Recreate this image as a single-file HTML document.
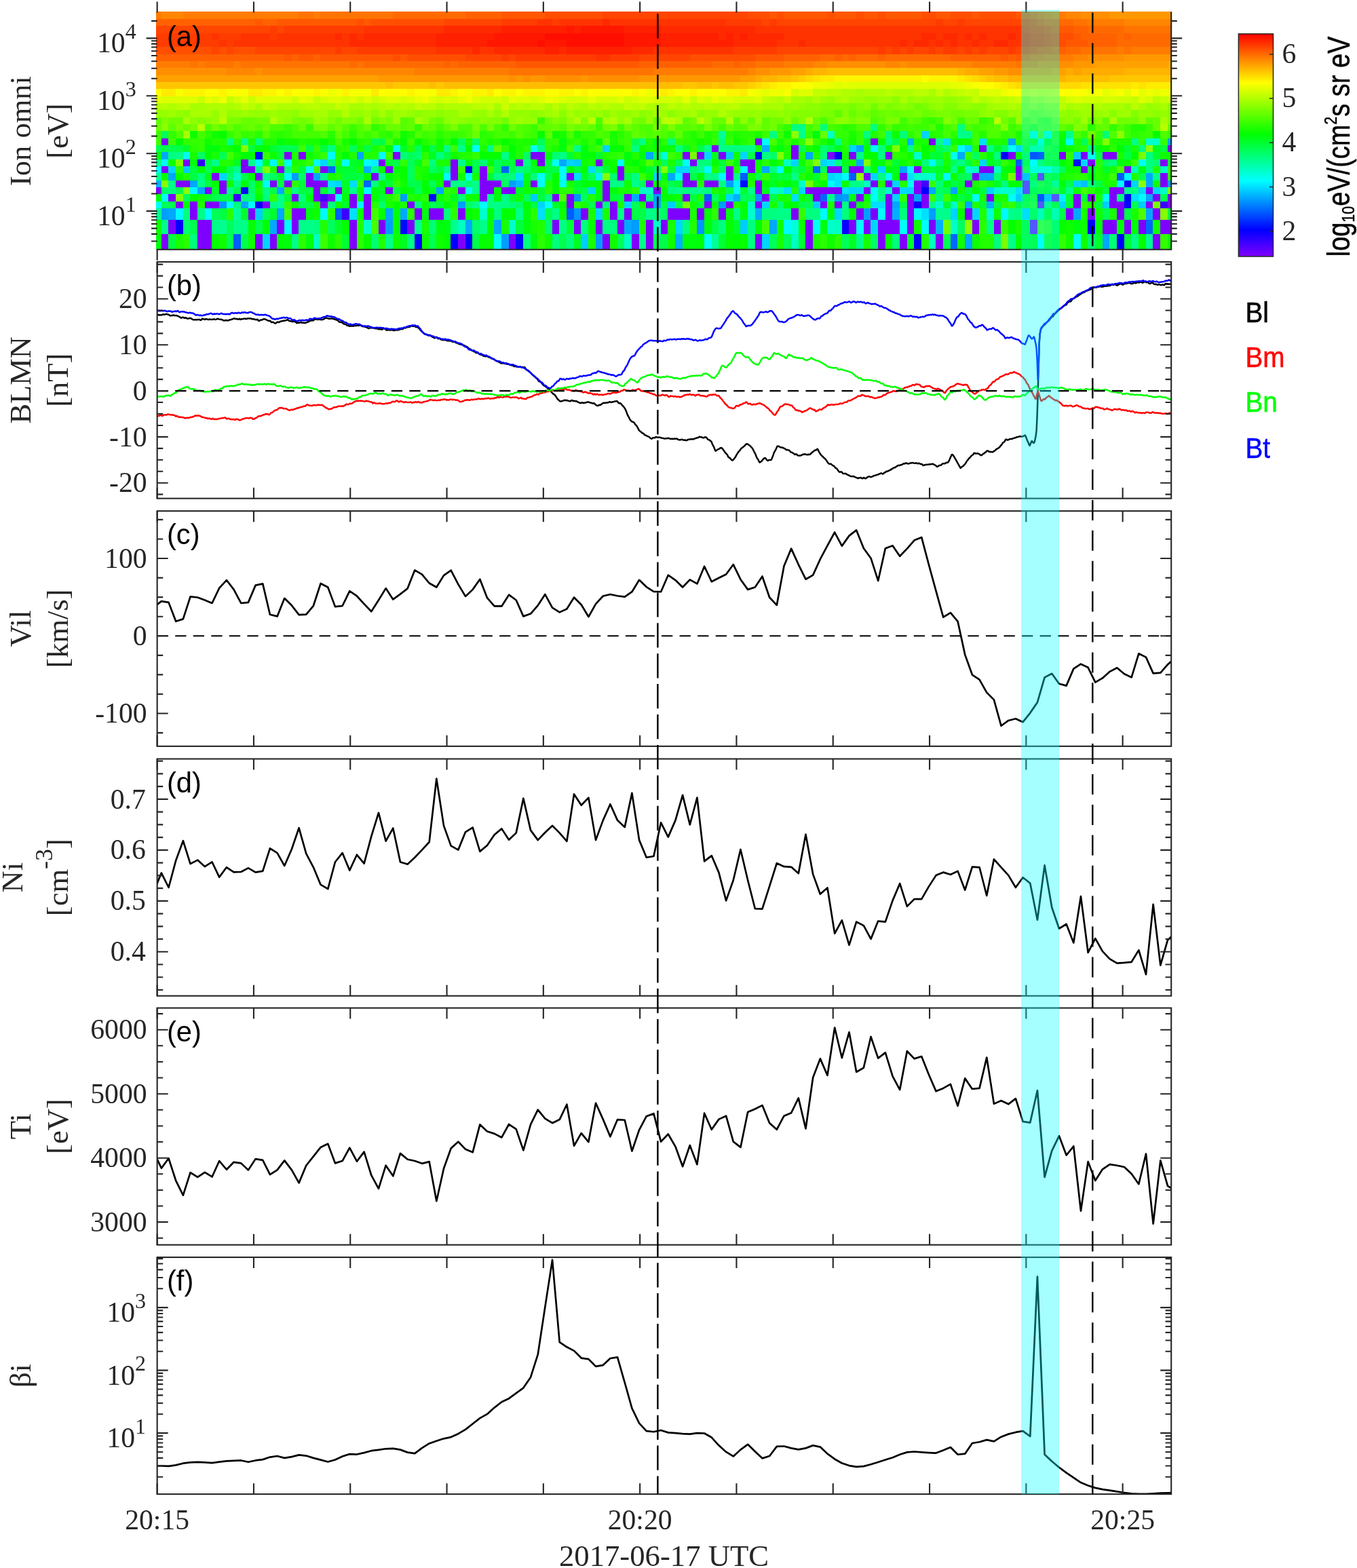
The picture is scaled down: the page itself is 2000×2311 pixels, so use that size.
<!DOCTYPE html>
<html lang="en"><head><meta charset="utf-8"><title>Figure</title>
<style>html,body{margin:0;padding:0;background:#fff}svg{display:block}</style></head><body>
<svg width="2000" height="2311" viewBox="0 0 2000 2311">
<rect width="2000" height="2311" fill="#fff"/>
<defs>
<clipPath id="cp0"><rect x="231.65" y="18.4" width="1494.55" height="349.4"/></clipPath>
<clipPath id="cp1"><rect x="231.65" y="386" width="1494.55" height="348.64"/></clipPath>
<clipPath id="cp2"><rect x="231.65" y="753.17" width="1494.55" height="346.7"/></clipPath>
<clipPath id="cp3"><rect x="231.65" y="1118.5" width="1494.55" height="349.26"/></clipPath>
<clipPath id="cp4"><rect x="231.65" y="1485.6" width="1494.55" height="349.13"/></clipPath>
<clipPath id="cp5"><rect x="231.65" y="1853.04" width="1494.55" height="349.1"/></clipPath>
<linearGradient id="cbg" x1="0" y1="1" x2="0" y2="0">
<stop offset="0" stop-color="#8000ff"/>
<stop offset="0.12" stop-color="#0000ff"/>
<stop offset="0.34" stop-color="#00ffff"/>
<stop offset="0.55" stop-color="#00ff00"/>
<stop offset="0.78" stop-color="#ffff00"/>
<stop offset="1" stop-color="#ff0000"/>
</linearGradient></defs>
<g shape-rendering="crispEdges" stroke="none">
<path fill="#ff7c00" d="M230 17h8v11h-8zM270 17h170v11h-170zM462 17h10v11h-10zM1550 17h21v11h-21zM1603 28h54v10h-54zM1646 69h11v11h-11zM1667 69h59v11h-59zM1561 80h21v10h-21zM230 90h50v10h-50zM291 90h11v10h-11zM344 90h11v10h-11zM1155 90h43v10h-43zM1433 90h64v10h-64zM1507 90h22v10h-22zM611 100h139v11h-139zM963 100h139v11h-139z"/>
<path fill="#ff8600" d="M238 17h32v11h-32zM1571 17h22v11h-22zM1657 28h69v10h-69zM1582 80h21v10h-21zM1198 90h21v10h-21zM1305 90h21v10h-21zM1337 90h96v10h-96zM1529 90h32v10h-32zM334 100h42v11h-42zM387 100h224v11h-224zM1102 100h11v11h-11z"/>
<path fill="#ff7300" d="M440 17h22v11h-22zM472 17h107v11h-107zM1539 17h11v11h-11zM1582 28h21v10h-21zM1657 38h69v11h-69zM1593 69h53v11h-53zM1657 69h10v11h-10zM1539 80h22v10h-22zM280 90h11v10h-11zM302 90h42v10h-42zM355 90h160v10h-160zM526 90h10v10h-10zM1113 90h42v10h-42zM1497 90h10v10h-10zM750 100h213v11h-213z"/>
<path fill="#ff6a00" d="M579 17h107v11h-107zM1529 17h10v11h-10zM1561 28h21v10h-21zM1603 38h54v11h-54zM1646 49h11v10h-11zM1667 49h59v10h-59zM1646 59h80v10h-80zM1571 69h22v11h-22zM1209 80h21v10h-21zM1241 80h10v10h-10zM1262 80h32v10h-32zM1305 80h96v10h-96zM1518 80h21v10h-21zM515 90h11v10h-11zM536 90h118v10h-118zM664 90h11v10h-11zM1049 90h32v10h-32zM1091 90h22v10h-22z"/>
<path fill="#ff6100" d="M686 17h53v11h-53zM1518 17h11v11h-11zM230 28h146v10h-146zM387 28h21v10h-21zM1539 28h22v10h-22zM1582 38h21v11h-21zM1593 49h53v10h-53zM1657 49h10v10h-10zM1603 59h43v10h-43zM1550 69h21v11h-21zM230 80h189v10h-189zM430 80h10v10h-10zM462 80h10v10h-10zM1155 80h54v10h-54zM1230 80h11v10h-11zM1251 80h11v10h-11zM1294 80h11v10h-11zM1401 80h74v10h-74zM1486 80h11v10h-11zM1507 80h11v10h-11zM654 90h10v10h-10zM675 90h85v10h-85zM942 90h107v10h-107zM1081 90h10v10h-10z"/>
<path fill="#ff5800" d="M739 17h64v11h-64zM1134 17h11v11h-11zM1155 17h64v11h-64zM1230 17h32v11h-32zM1273 17h21v11h-21zM1305 17h53v11h-53zM1379 17h22v11h-22zM1433 17h10v11h-10zM1497 17h21v11h-21zM376 28h11v10h-11zM408 28h118v10h-118zM536 28h11v10h-11zM1529 28h10v10h-10zM1550 38h32v11h-32zM1582 49h11v10h-11zM1571 59h32v10h-32zM1529 69h21v11h-21zM419 80h11v10h-11zM440 80h22v10h-22zM472 80h107v10h-107zM590 80h10v10h-10zM1113 80h42v10h-42zM1475 80h11v10h-11zM1497 80h10v10h-10zM760 90h182v10h-182z"/>
<path fill="#ff4e00" d="M803 17h85v11h-85zM1102 17h32v11h-32zM1145 17h10v11h-10zM1219 17h11v11h-11zM1262 17h11v11h-11zM1294 17h11v11h-11zM1358 17h21v11h-21zM1401 17h32v11h-32zM1443 17h54v11h-54zM526 28h10v10h-10zM547 28h107v10h-107zM1518 28h11v10h-11zM1539 38h11v11h-11zM1550 49h32v10h-32zM1550 59h21v10h-21zM230 69h82v11h-82zM323 69h11v11h-11zM344 69h32v11h-32zM1518 69h11v11h-11zM579 80h11v10h-11zM600 80h86v10h-86zM1017 80h96v10h-96z"/>
<path fill="#ff4500" d="M888 17h214v11h-214zM654 28h85v10h-85zM1123 28h11v10h-11zM1145 28h234v10h-234zM1390 28h21v10h-21zM1422 28h96v10h-96zM230 38h168v11h-168zM408 38h11v11h-11zM1518 38h21v11h-21zM1539 49h11v10h-11zM1539 59h11v10h-11zM312 69h11v11h-11zM334 69h10v11h-10zM376 69h118v11h-118zM504 69h22v11h-22zM1145 69h149v11h-149zM1305 69h10v11h-10zM1326 69h11v11h-11zM1347 69h22v11h-22zM1379 69h11v11h-11zM1411 69h11v11h-11zM1433 69h10v11h-10zM1454 69h32v11h-32zM1497 69h21v11h-21zM686 80h53v10h-53zM750 80h10v10h-10zM942 80h75v10h-75z"/>
<path fill="#ff8f00" d="M1593 17h42v11h-42zM1603 80h54v10h-54zM1219 90h86v10h-86zM1326 90h11v10h-11zM1561 90h21v10h-21zM230 100h104v11h-104zM376 100h11v11h-11zM1113 100h21v11h-21zM1486 100h21v11h-21zM750 111h10v10h-10zM771 111h11v10h-11zM803 111h53v10h-53zM867 111h75v10h-75z"/>
<path fill="#ff9800" d="M1635 17h91v11h-91zM1657 80h69v10h-69zM1582 90h32v10h-32zM1134 100h32v11h-32zM1465 100h21v11h-21zM1507 100h43v11h-43zM558 111h192v10h-192zM760 111h11v10h-11zM782 111h21v10h-21zM856 111h11v10h-11zM942 111h149v10h-149z"/>
<path fill="#ff3c00" d="M739 28h53v10h-53zM814 28h10v10h-10zM1070 28h53v10h-53zM1134 28h11v10h-11zM1379 28h11v10h-11zM1411 28h11v10h-11zM398 38h10v11h-10zM419 38h117v11h-117zM1507 38h11v11h-11zM230 49h82v10h-82zM323 49h32v10h-32zM398 49h10v10h-10zM1518 49h21v10h-21zM230 59h93v10h-93zM334 59h10v10h-10zM1518 59h21v10h-21zM494 69h10v11h-10zM526 69h117v11h-117zM1081 69h64v11h-64zM1294 69h11v11h-11zM1315 69h11v11h-11zM1337 69h10v11h-10zM1369 69h10v11h-10zM1390 69h21v11h-21zM1422 69h11v11h-11zM1443 69h11v11h-11zM1486 69h11v11h-11zM739 80h11v10h-11zM760 80h118v10h-118zM899 80h43v10h-43z"/>
<path fill="#ff3300" d="M792 28h22v10h-22zM824 28h64v10h-64zM899 28h171v10h-171zM536 38h118v11h-118zM1113 38h394v11h-394zM312 49h11v10h-11zM355 49h43v10h-43zM408 49h86v10h-86zM504 49h11v10h-11zM526 49h10v10h-10zM1155 49h203v10h-203zM1379 49h11v10h-11zM1411 49h11v10h-11zM1433 49h10v10h-10zM1454 49h32v10h-32zM1497 49h21v10h-21zM323 59h11v10h-11zM344 59h171v10h-171zM1145 59h32v10h-32zM1187 59h139v10h-139zM1337 59h10v10h-10zM1369 59h10v10h-10zM1390 59h11v10h-11zM1411 59h22v10h-22zM1443 59h22v10h-22zM1486 59h32v10h-32zM643 69h53v11h-53zM707 69h21v11h-21zM963 69h118v11h-118zM878 80h21v10h-21z"/>
<path fill="#ff2900" d="M888 28h11v10h-11zM654 38h85v11h-85zM974 38h139v11h-139zM494 49h10v10h-10zM515 49h11v10h-11zM536 49h107v10h-107zM1059 49h11v10h-11zM1081 49h10v10h-10zM1102 49h53v10h-53zM1358 49h21v10h-21zM1390 49h21v10h-21zM1422 49h11v10h-11zM1443 49h11v10h-11zM1486 49h11v10h-11zM515 59h128v10h-128zM1081 59h64v10h-64zM1177 59h10v10h-10zM1326 59h11v10h-11zM1347 59h22v10h-22zM1379 59h11v10h-11zM1401 59h10v10h-10zM1433 59h10v10h-10zM1465 59h21v10h-21zM696 69h11v11h-11zM728 69h75v11h-75zM824 69h11v11h-11zM931 69h32v11h-32z"/>
<path fill="#ff2000" d="M739 38h96v11h-96zM846 38h10v11h-10zM920 38h54v11h-54zM643 49h85v10h-85zM974 49h85v10h-85zM1070 49h11v10h-11zM1091 49h11v10h-11zM643 59h75v10h-75zM974 59h107v10h-107zM803 69h21v11h-21zM835 69h96v11h-96z"/>
<path fill="#ff1700" d="M835 38h11v11h-11zM856 38h64v11h-64zM728 49h75v10h-75zM920 49h54v10h-54zM718 59h74v10h-74zM803 59h32v10h-32zM920 59h54v10h-54z"/>
<path fill="#ff0e00" d="M803 49h117v10h-117zM792 59h11v10h-11zM835 59h85v10h-85z"/>
<path fill="#ffa100" d="M1614 90h107v10h-107zM1166 100h21v11h-21zM1443 100h22v11h-22zM1550 100h21v11h-21zM1582 100h11v11h-11zM230 111h328v10h-328zM1091 111h22v10h-22z"/>
<path fill="#ffab00" d="M1721 90h5v10h-5zM1187 100h11v11h-11zM1422 100h21v11h-21zM1571 100h11v11h-11zM1593 100h64v11h-64zM1113 111h10v10h-10z"/>
<path fill="#ffb400" d="M1198 100h21v11h-21zM1411 100h11v11h-11zM1657 100h69v11h-69zM1123 111h22v10h-22zM1486 111h85v10h-85z"/>
<path fill="#ffbd00" d="M1219 100h192v11h-192zM1145 111h21v10h-21zM1465 111h21v10h-21zM1571 111h64v10h-64zM568 121h11v10h-11zM632 121h11v10h-11zM654 121h352v10h-352zM1027 121h22v10h-22zM1059 121h22v10h-22z"/>
<path fill="#ffc600" d="M1166 111h11v10h-11zM1454 111h11v10h-11zM1635 111h91v10h-91zM230 121h338v10h-338zM579 121h53v10h-53zM643 121h11v10h-11zM1006 121h21v10h-21zM1049 121h10v10h-10zM1081 121h21v10h-21z"/>
<path fill="#ffcf00" d="M1177 111h10v10h-10zM1443 111h11v10h-11zM1102 121h11v10h-11z"/>
<path fill="#ffd900" d="M1187 111h11v10h-11zM1433 111h10v10h-10zM1113 121h10v10h-10zM1497 121h96v10h-96z"/>
<path fill="#ffe200" d="M1198 111h11v10h-11zM1422 111h11v10h-11zM1123 121h11v10h-11zM1486 121h11v10h-11zM1593 121h74v10h-74zM1678 121h11v10h-11z"/>
<path fill="#ffeb00" d="M1209 111h21v10h-21zM1411 111h11v10h-11zM1134 121h11v10h-11zM1475 121h11v10h-11zM1667 121h11v10h-11zM1689 121h37v10h-37zM238 131h21v11h-21zM366 131h21v11h-21zM547 131h11v11h-11zM643 131h21v11h-21zM718 131h10v11h-10zM974 131h10v11h-10zM1091 131h11v11h-11z"/>
<path fill="#fff400" d="M1230 111h128v10h-128zM1369 111h42v10h-42zM1145 121h21v10h-21zM1465 121h10v10h-10zM270 131h32v11h-32zM323 131h11v11h-11zM387 131h21v11h-21zM419 131h11v11h-11zM462 131h10v11h-10zM504 131h11v11h-11zM600 131h11v11h-11zM664 131h11v11h-11zM696 131h22v11h-22zM739 131h21v11h-21zM771 131h32v11h-32zM824 131h22v11h-22zM856 131h11v11h-11zM931 131h11v11h-11zM963 131h11v11h-11zM984 131h11v11h-11zM1017 131h10v11h-10zM1070 131h21v11h-21z"/>
<path fill="#fffd00" d="M1358 111h11v10h-11zM1166 121h21v10h-21zM1443 121h22v10h-22zM230 131h8v11h-8zM302 131h21v11h-21zM344 131h11v11h-11zM408 131h11v11h-11zM430 131h10v11h-10zM451 131h11v11h-11zM472 131h11v11h-11zM558 131h42v11h-42zM611 131h21v11h-21zM675 131h11v11h-11zM728 131h11v11h-11zM760 131h11v11h-11zM803 131h21v11h-21zM846 131h10v11h-10zM867 131h32v11h-32zM910 131h21v11h-21zM942 131h10v11h-10zM995 131h22v11h-22zM1027 131h43v11h-43zM1561 131h10v11h-10zM1582 131h11v11h-11zM1667 131h11v11h-11z"/>
<path fill="#f8ff00" d="M1187 121h11v10h-11zM1433 121h10v10h-10zM259 131h11v11h-11zM334 131h10v11h-10zM355 131h11v11h-11zM440 131h11v11h-11zM494 131h10v11h-10zM515 131h32v11h-32zM632 131h11v11h-11zM686 131h10v11h-10zM899 131h11v11h-11zM1102 131h11v11h-11zM1155 131h11v11h-11zM1486 131h21v11h-21zM1518 131h11v11h-11zM1550 131h11v11h-11zM1571 131h11v11h-11zM1593 131h10v11h-10zM1614 131h11v11h-11zM1646 131h11v11h-11z"/>
<path fill="#efff00" d="M1198 121h21v10h-21zM1422 121h11v10h-11zM483 131h11v11h-11zM952 131h11v11h-11zM1113 131h10v11h-10zM1134 131h21v11h-21zM1475 131h11v11h-11zM1507 131h11v11h-11zM1529 131h21v11h-21zM1603 131h11v11h-11zM1635 131h11v11h-11zM1689 131h10v11h-10zM1710 131h16v11h-16zM323 142h11v10h-11zM622 142h10v10h-10zM686 142h10v10h-10zM803 142h11v10h-11z"/>
<path fill="#e6ff00" d="M1219 121h11v10h-11zM1241 121h10v10h-10zM1401 121h21v10h-21zM1123 131h11v11h-11zM1625 131h10v11h-10zM1657 131h10v11h-10zM1678 131h11v11h-11zM1699 131h11v11h-11zM230 142h8v10h-8zM302 142h10v10h-10zM355 142h11v10h-11zM440 142h11v10h-11zM611 142h11v10h-11zM675 142h11v10h-11zM750 142h10v10h-10zM814 142h10v10h-10zM867 142h11v10h-11zM1006 142h11v10h-11zM1049 142h10v10h-10z"/>
<path fill="#ddff00" d="M1230 121h11v10h-11zM1251 121h150v10h-150zM1177 131h21v11h-21zM1443 131h32v11h-32zM238 142h53v10h-53zM312 142h11v10h-11zM376 142h54v10h-54zM451 142h11v10h-11zM483 142h21v10h-21zM515 142h11v10h-11zM536 142h11v10h-11zM568 142h22v10h-22zM600 142h11v10h-11zM632 142h11v10h-11zM654 142h10v10h-10zM696 142h11v10h-11zM760 142h22v10h-22zM792 142h11v10h-11zM824 142h11v10h-11zM910 142h10v10h-10zM942 142h21v10h-21zM1027 142h11v10h-11zM1059 142h22v10h-22zM1113 142h10v10h-10zM1582 142h11v10h-11zM1678 142h11v10h-11z"/>
<path fill="#d4ff00" d="M1166 131h11v11h-11zM344 142h11v10h-11zM472 142h11v10h-11zM504 142h11v10h-11zM558 142h10v10h-10zM590 142h10v10h-10zM643 142h11v10h-11zM664 142h11v10h-11zM707 142h32v10h-32zM782 142h10v10h-10zM835 142h32v10h-32zM878 142h32v10h-32zM931 142h11v10h-11zM963 142h32v10h-32zM1038 142h11v10h-11zM1081 142h32v10h-32zM1539 142h22v10h-22zM1571 142h11v10h-11zM1593 142h21v10h-21zM1625 142h21v10h-21zM1689 142h10v10h-10zM1721 142h5v10h-5z"/>
<path fill="#c2ff00" d="M1198 131h21v11h-21zM1379 131h11v11h-11zM1411 131h11v11h-11zM1433 131h10v11h-10zM334 142h10v10h-10zM462 142h10v10h-10zM1017 142h10v10h-10zM1123 142h11v10h-11zM1155 142h11v10h-11zM1433 142h10v10h-10zM1465 142h10v10h-10zM1486 142h11v10h-11zM1529 142h10v10h-10zM1561 142h10v10h-10zM1667 142h11v10h-11zM1710 142h11v10h-11zM270 152h10v10h-10zM355 152h11v10h-11zM387 152h11v10h-11zM494 152h10v10h-10zM611 152h11v10h-11zM718 152h10v10h-10zM920 152h11v10h-11zM942 152h10v10h-10z"/>
<path fill="#b9ff00" d="M1219 131h22v11h-22zM1305 131h10v11h-10zM1347 131h22v11h-22zM1401 131h10v11h-10zM1134 142h11v10h-11zM1454 142h11v10h-11zM1475 142h11v10h-11zM1699 142h11v10h-11zM238 152h10v10h-10zM259 152h11v10h-11zM366 152h10v10h-10zM398 152h10v10h-10zM451 152h21v10h-21zM504 152h11v10h-11zM568 152h11v10h-11zM590 152h10v10h-10zM622 152h21v10h-21zM696 152h22v10h-22zM760 152h11v10h-11zM782 152h21v10h-21zM814 152h10v10h-10zM835 152h11v10h-11zM867 152h11v10h-11zM888 152h11v10h-11zM931 152h11v10h-11zM984 152h11v10h-11zM1006 152h11v10h-11zM1038 152h11v10h-11zM1070 152h21v10h-21zM1561 152h10v10h-10zM1667 152h11v10h-11zM323 173h11v10h-11zM867 173h11v10h-11zM974 173h21v10h-21zM1027 173h11v10h-11zM1465 173h10v10h-10zM291 183h11v10h-11zM1710 183h11v10h-11z"/>
<path fill="#b0ff00" d="M1241 131h21v11h-21zM1273 131h32v11h-32zM1315 131h32v11h-32zM1390 131h11v11h-11zM1145 142h10v10h-10zM1198 142h11v10h-11zM1241 142h10v10h-10zM1443 142h11v10h-11zM1507 142h11v10h-11zM230 152h8v10h-8zM248 152h11v10h-11zM302 152h32v10h-32zM344 152h11v10h-11zM408 152h43v10h-43zM472 152h22v10h-22zM536 152h11v10h-11zM558 152h10v10h-10zM579 152h11v10h-11zM600 152h11v10h-11zM654 152h42v10h-42zM750 152h10v10h-10zM771 152h11v10h-11zM846 152h10v10h-10zM878 152h10v10h-10zM899 152h21v10h-21zM952 152h11v10h-11zM995 152h11v10h-11zM1017 152h21v10h-21zM1049 152h21v10h-21zM1113 152h10v10h-10zM1486 152h11v10h-11zM1518 152h11v10h-11zM1539 152h22v10h-22zM1582 152h11v10h-11zM1614 152h11v10h-11zM323 162h11v11h-11zM504 162h11v11h-11zM739 162h11v11h-11zM1059 162h11v11h-11zM398 173h10v10h-10zM846 173h10v10h-10zM899 173h11v10h-11zM1070 173h11v10h-11zM1187 173h11v10h-11z"/>
<path fill="#a7ff00" d="M1262 131h11v11h-11zM1369 131h10v11h-10zM1166 142h21v10h-21zM1230 142h11v10h-11zM1326 142h11v10h-11zM1422 142h11v10h-11zM280 152h22v10h-22zM334 152h10v10h-10zM376 152h11v10h-11zM515 152h21v10h-21zM547 152h11v10h-11zM643 152h11v10h-11zM728 152h11v10h-11zM803 152h11v10h-11zM824 152h11v10h-11zM856 152h11v10h-11zM963 152h21v10h-21zM1091 152h22v10h-22zM1123 152h32v10h-32zM1465 152h21v10h-21zM1497 152h10v10h-10zM1571 152h11v10h-11zM1593 152h21v10h-21zM1625 152h32v10h-32zM1678 152h11v10h-11zM1710 152h11v10h-11zM280 162h32v11h-32zM462 162h21v11h-21zM558 162h10v11h-10zM675 162h21v11h-21zM718 162h10v11h-10zM814 162h10v11h-10zM835 162h11v11h-11zM963 162h11v11h-11zM1017 162h10v11h-10zM270 173h10v10h-10zM536 173h11v10h-11zM611 173h11v10h-11zM888 173h11v10h-11zM920 173h11v10h-11zM995 173h11v10h-11zM1635 173h11v10h-11zM1710 173h11v10h-11zM270 193h10v11h-10z"/>
<path fill="#cbff00" d="M1422 131h11v11h-11zM291 142h11v10h-11zM366 142h10v10h-10zM430 142h10v10h-10zM526 142h10v10h-10zM547 142h11v10h-11zM739 142h11v10h-11zM920 142h11v10h-11zM995 142h11v10h-11zM1497 142h10v10h-10zM1518 142h11v10h-11zM1614 142h11v10h-11zM1646 142h21v10h-21zM739 152h11v10h-11z"/>
<path fill="#9eff00" d="M1187 142h11v10h-11zM1209 142h10v10h-10zM1251 142h22v10h-22zM1294 142h21v10h-21zM1347 142h11v10h-11zM1369 142h21v10h-21zM1411 142h11v10h-11zM1166 152h11v10h-11zM1454 152h11v10h-11zM1507 152h11v10h-11zM1529 152h10v10h-10zM1657 152h10v10h-10zM1699 152h11v10h-11zM248 162h11v11h-11zM355 162h11v11h-11zM398 162h10v11h-10zM440 162h22v11h-22zM536 162h11v11h-11zM579 162h21v11h-21zM803 162h11v11h-11zM856 162h11v11h-11zM878 162h10v11h-10zM899 162h11v11h-11zM931 162h11v11h-11zM974 162h10v11h-10zM995 162h22v11h-22zM1070 162h11v11h-11zM1550 162h11v11h-11zM1593 162h21v11h-21zM1625 162h10v11h-10zM1646 162h21v11h-21zM462 173h10v10h-10zM579 173h11v10h-11zM760 173h11v10h-11zM1593 173h10v10h-10z"/>
<path fill="#95ff00" d="M1219 142h11v10h-11zM1273 142h21v10h-21zM1337 142h10v10h-10zM1358 142h11v10h-11zM1390 142h21v10h-21zM1155 152h11v10h-11zM1177 152h10v10h-10zM1379 152h11v10h-11zM1411 152h22v10h-22zM1689 152h10v10h-10zM230 162h18v11h-18zM259 162h11v11h-11zM312 162h11v11h-11zM334 162h21v11h-21zM366 162h32v11h-32zM408 162h22v11h-22zM483 162h21v11h-21zM515 162h21v11h-21zM600 162h11v11h-11zM622 162h21v11h-21zM654 162h21v11h-21zM696 162h22v11h-22zM728 162h11v11h-11zM750 162h32v11h-32zM792 162h11v11h-11zM846 162h10v11h-10zM867 162h11v11h-11zM910 162h21v11h-21zM952 162h11v11h-11zM1038 162h21v11h-21zM1081 162h42v11h-42zM1145 162h10v11h-10zM1454 162h11v11h-11zM1486 162h32v11h-32zM1539 162h11v11h-11zM1561 162h10v11h-10zM1582 162h11v11h-11zM1614 162h11v11h-11zM1678 162h21v11h-21zM1710 162h11v11h-11zM312 173h11v10h-11zM408 173h11v10h-11zM472 173h11v10h-11zM622 173h10v10h-10zM664 173h11v10h-11zM750 173h10v10h-10zM771 173h21v10h-21zM835 173h11v10h-11zM910 173h10v10h-10zM952 173h11v10h-11zM1038 173h11v10h-11zM1113 173h10v10h-10zM1497 173h10v10h-10zM1262 255h11v11h-11z"/>
<path fill="#8cff00" d="M1315 142h11v10h-11zM1187 152h22v10h-22zM1273 152h10v10h-10zM1294 152h11v10h-11zM1326 152h11v10h-11zM1369 152h10v10h-10zM1433 152h21v10h-21zM1721 152h5v10h-5zM270 162h10v11h-10zM430 162h10v11h-10zM547 162h11v11h-11zM568 162h11v11h-11zM611 162h11v11h-11zM643 162h11v11h-11zM782 162h10v11h-10zM824 162h11v11h-11zM888 162h11v11h-11zM942 162h10v11h-10zM984 162h11v11h-11zM1027 162h11v11h-11zM1123 162h22v11h-22zM1155 162h11v11h-11zM1443 162h11v11h-11zM1529 162h10v11h-10zM1571 162h11v11h-11zM1635 162h11v11h-11zM1699 162h11v11h-11zM1721 162h5v11h-5zM280 173h11v10h-11zM302 173h10v10h-10zM419 173h11v10h-11zM654 173h10v10h-10zM675 173h11v10h-11zM707 173h11v10h-11zM1091 173h11v10h-11zM1155 173h11v10h-11zM1230 173h21v10h-21zM1571 173h11v10h-11zM1678 173h11v10h-11zM1721 173h5v10h-5zM238 183h10v10h-10zM1166 193h11v11h-11zM1646 193h11v11h-11zM1187 204h11v10h-11zM1689 214h10v10h-10zM1678 266h11v10h-11zM270 276h10v10h-10zM1422 324h11v21h-11z"/>
<path fill="#83ff00" d="M1209 152h42v10h-42zM1262 152h11v10h-11zM1315 152h11v10h-11zM1337 152h10v10h-10zM1390 152h21v10h-21zM1166 162h43v11h-43zM1241 162h10v11h-10zM1465 162h21v11h-21zM1518 162h11v11h-11zM1667 162h11v11h-11zM238 173h10v10h-10zM291 173h11v10h-11zM483 173h11v10h-11zM504 173h22v10h-22zM558 173h10v10h-10zM686 173h21v10h-21zM718 173h21v10h-21zM814 173h10v10h-10zM856 173h11v10h-11zM1177 173h10v10h-10zM1262 173h21v10h-21zM1390 173h11v10h-11zM1518 173h11v10h-11zM1550 173h21v10h-21zM1614 173h11v10h-11zM1475 183h11v10h-11zM1582 183h11v10h-11zM1625 204h10v10h-10zM355 214h11v10h-11zM1145 224h10v11h-10zM259 235h11v10h-11zM1198 235h11v10h-11zM1273 235h10v10h-10zM387 245h11v10h-11zM974 245h10v10h-10zM888 255h11v11h-11zM238 266h10v10h-10zM1721 276h5v10h-5zM259 286h11v11h-11zM1710 307h11v17h-11z"/>
<path fill="#7aff00" d="M1251 152h11v10h-11zM1305 152h10v10h-10zM1358 152h11v10h-11zM1209 162h21v11h-21zM1262 162h11v11h-11zM1347 162h11v11h-11zM1379 162h22v11h-22zM1422 162h21v11h-21zM334 173h21v10h-21zM430 173h10v10h-10zM451 173h11v10h-11zM568 173h11v10h-11zM824 173h11v10h-11zM931 173h11v10h-11zM1251 173h11v10h-11zM1305 173h21v10h-21zM1582 173h11v10h-11zM259 183h11v10h-11zM280 183h11v10h-11zM462 183h21v10h-21zM664 183h11v10h-11zM696 183h11v10h-11zM718 183h10v10h-10zM835 183h11v10h-11zM899 183h11v10h-11zM963 183h11v10h-11zM984 183h11v10h-11zM1038 183h11v10h-11zM1102 183h21v10h-21zM1593 183h10v10h-10zM1315 214h11v10h-11zM1017 224h10v11h-10zM1678 224h11v11h-11zM1486 255h11v11h-11zM1187 266h11v10h-11zM1006 297h11v10h-11zM1699 297h11v10h-11zM1475 345h11v22h-11z"/>
<path fill="#71ff00" d="M1283 152h11v10h-11zM1347 152h11v10h-11zM1273 162h10v11h-10zM1305 162h10v11h-10zM1326 162h21v11h-21zM1369 162h10v11h-10zM1401 162h21v11h-21zM248 173h22v10h-22zM376 173h22v10h-22zM440 173h11v10h-11zM494 173h10v10h-10zM526 173h10v10h-10zM547 173h11v10h-11zM632 173h11v10h-11zM739 173h11v10h-11zM803 173h11v10h-11zM942 173h10v10h-10zM1017 173h10v10h-10zM1134 173h21v10h-21zM1219 173h11v10h-11zM1401 173h10v10h-10zM1475 173h11v10h-11zM1603 173h11v10h-11zM1646 173h32v10h-32zM312 183h11v10h-11zM494 183h10v10h-10zM750 183h10v10h-10zM856 183h11v10h-11zM888 183h11v10h-11zM920 183h11v10h-11zM1134 183h11v10h-11zM1550 183h11v10h-11zM1603 193h11v11h-11zM1390 324h11v21h-11z"/>
<path fill="#5fff00" d="M1230 162h11v11h-11zM1283 162h11v11h-11zM230 173h8v10h-8zM600 173h11v10h-11zM1006 173h11v10h-11zM1081 173h10v10h-10zM1123 173h11v10h-11zM1294 173h11v10h-11zM1337 173h10v10h-10zM1529 173h10v10h-10zM1625 173h10v10h-10zM1689 173h10v10h-10zM248 183h11v10h-11zM355 183h11v10h-11zM483 183h11v10h-11zM600 183h11v10h-11zM632 183h11v10h-11zM654 183h10v10h-10zM792 183h22v10h-22zM867 183h11v10h-11zM931 183h11v10h-11zM1017 183h10v10h-10zM1049 183h10v10h-10zM1123 183h11v10h-11zM1539 183h11v10h-11zM1561 183h10v10h-10zM1614 183h21v10h-21zM494 193h10v11h-10zM803 193h11v11h-11zM931 193h11v11h-11zM995 193h11v11h-11zM888 204h11v10h-11zM728 214h11v10h-11z"/>
<path fill="#68ff00" d="M1251 162h11v11h-11zM1294 162h11v11h-11zM1315 162h11v11h-11zM1358 162h11v11h-11zM355 173h21v10h-21zM643 173h11v10h-11zM963 173h11v10h-11zM1049 173h21v10h-21zM1102 173h11v10h-11zM1166 173h11v10h-11zM1198 173h11v10h-11zM1422 173h21v10h-21zM1507 173h11v10h-11zM1699 173h11v10h-11zM230 183h8v10h-8zM270 183h10v10h-10zM334 183h10v10h-10zM366 183h10v10h-10zM387 183h11v10h-11zM440 183h11v10h-11zM536 183h11v10h-11zM568 183h22v10h-22zM622 183h10v10h-10zM814 183h10v10h-10zM846 183h10v10h-10zM1070 183h11v10h-11zM1529 183h10v10h-10zM1699 183h11v10h-11zM1721 183h5v10h-5zM696 193h11v11h-11zM1209 193h10v11h-10z"/>
<path fill="#56ff00" d="M590 173h10v10h-10zM1347 173h11v10h-11zM1486 173h11v10h-11zM1539 173h11v10h-11zM323 183h11v10h-11zM376 183h11v10h-11zM504 183h11v10h-11zM526 183h10v10h-10zM590 183h10v10h-10zM760 183h11v10h-11zM824 183h11v10h-11zM974 183h10v10h-10zM995 183h22v10h-22zM1081 183h21v10h-21zM1198 183h11v10h-11zM1305 183h10v10h-10zM1465 183h10v10h-10zM1507 183h11v10h-11zM1646 183h11v10h-11zM387 193h11v11h-11zM760 193h11v11h-11zM942 193h10v11h-10zM963 193h11v11h-11z"/>
<path fill="#3bff00" d="M792 173h11v10h-11zM1358 173h11v10h-11zM419 183h11v10h-11zM451 183h11v10h-11zM515 183h11v10h-11zM782 183h10v10h-10zM878 183h10v10h-10zM1230 183h11v10h-11zM1326 183h11v10h-11zM1347 183h22v10h-22zM1433 183h10v10h-10zM1486 183h11v10h-11zM1657 183h10v10h-10zM1689 183h10v10h-10zM230 193h8v11h-8zM366 193h10v11h-10zM536 193h11v11h-11zM622 193h10v11h-10zM654 193h10v11h-10zM675 193h11v11h-11zM750 193h10v11h-10zM782 193h10v11h-10zM920 193h11v11h-11zM984 193h11v11h-11zM1027 193h11v11h-11zM1123 193h11v11h-11zM1145 193h10v11h-10zM1294 193h11v11h-11zM1433 193h10v11h-10zM1486 193h11v11h-11zM1614 193h11v11h-11zM1657 193h10v11h-10zM1689 193h10v11h-10zM1721 193h5v11h-5zM248 204h11v10h-11zM600 204h11v10h-11zM920 204h11v10h-11zM1433 204h10v10h-10zM1603 204h11v10h-11zM440 214h11v10h-11zM664 214h11v10h-11zM878 214h10v10h-10zM568 224h11v11h-11zM984 224h11v11h-11zM408 235h11v10h-11zM1070 235h11v10h-11zM1187 235h11v10h-11zM1667 235h11v10h-11zM718 245h10v10h-10zM942 255h10v11h-10zM1209 255h10v11h-10zM1635 255h11v11h-11zM579 286h11v11h-11zM1369 286h10v11h-10zM1390 286h11v11h-11zM1539 324h11v21h-11zM472 345h11v22h-11z"/>
<path fill="#4dff00" d="M878 173h10v10h-10zM1209 173h10v10h-10zM1283 173h11v10h-11zM302 183h10v10h-10zM344 183h11v10h-11zM398 183h21v10h-21zM430 183h10v10h-10zM675 183h21v10h-21zM707 183h11v10h-11zM728 183h11v10h-11zM771 183h11v10h-11zM942 183h21v10h-21zM1027 183h11v10h-11zM1262 183h21v10h-21zM1369 183h10v10h-10zM1401 183h10v10h-10zM1422 183h11v10h-11zM1454 183h11v10h-11zM1497 183h10v10h-10zM1571 183h11v10h-11zM259 193h11v11h-11zM344 193h11v11h-11zM472 193h11v11h-11zM526 193h10v11h-10zM547 193h11v11h-11zM579 193h11v11h-11zM611 193h11v11h-11zM686 193h10v11h-10zM835 193h11v11h-11zM878 193h10v11h-10zM952 193h11v11h-11zM974 193h10v11h-10zM1454 193h21v11h-21zM1529 193h10v11h-10zM1582 193h11v11h-11zM1635 193h11v11h-11zM1710 193h11v11h-11zM952 235h11v10h-11zM1646 245h11v10h-11zM824 286h11v11h-11zM1678 307h11v17h-11zM1529 324h10v21h-10z"/>
<path fill="#44ff00" d="M1326 173h11v10h-11zM1379 173h11v10h-11zM1411 173h11v10h-11zM1454 173h11v10h-11zM558 183h10v10h-10zM643 183h11v10h-11zM910 183h10v10h-10zM1059 183h11v10h-11zM1145 183h10v10h-10zM1187 183h11v10h-11zM1219 183h11v10h-11zM1337 183h10v10h-10zM1390 183h11v10h-11zM1443 183h11v10h-11zM1518 183h11v10h-11zM291 193h11v11h-11zM430 193h42v11h-42zM504 193h11v11h-11zM632 193h11v11h-11zM728 193h22v11h-22zM771 193h11v11h-11zM888 193h11v11h-11zM1347 193h11v11h-11zM1390 193h11v11h-11zM1507 193h11v11h-11zM230 204h8v10h-8zM494 204h10v10h-10zM568 204h11v10h-11zM1134 204h11v10h-11zM835 214h11v10h-11zM334 224h10v11h-10zM622 235h10v10h-10zM462 245h10v10h-10zM1593 276h10v10h-10zM419 307h11v17h-11zM547 307h11v17h-11zM547 324h11v21h-11zM1123 324h11v21h-11z"/>
<path fill="#32ff00" d="M1369 173h10v10h-10zM1443 173h11v10h-11zM547 183h11v10h-11zM611 183h11v10h-11zM739 183h11v10h-11zM1155 183h11v10h-11zM1251 183h11v10h-11zM1294 183h11v10h-11zM1315 183h11v10h-11zM1635 183h11v10h-11zM248 193h11v11h-11zM334 193h10v11h-10zM355 193h11v11h-11zM398 193h10v11h-10zM419 193h11v11h-11zM558 193h10v11h-10zM664 193h11v11h-11zM718 193h10v11h-10zM856 193h22v11h-22zM1006 193h11v11h-11zM1187 193h11v11h-11zM1230 193h21v11h-21zM1262 193h11v11h-11zM1475 193h11v11h-11zM1550 193h11v11h-11zM1593 193h10v11h-10zM1678 193h11v11h-11zM270 204h32v10h-32zM632 204h11v10h-11zM803 204h21v10h-21zM846 204h10v10h-10zM867 204h11v10h-11zM910 204h10v10h-10zM995 204h11v10h-11zM1049 204h10v10h-10zM1070 204h11v10h-11zM1102 204h11v10h-11zM1155 204h11v10h-11zM1177 204h10v10h-10zM1198 204h11v10h-11zM1262 204h11v10h-11zM1550 204h11v10h-11zM1678 204h11v10h-11zM1710 204h11v10h-11zM291 214h11v10h-11zM462 214h10v10h-10zM558 214h10v10h-10zM920 214h11v10h-11zM1401 214h10v10h-10zM387 224h11v11h-11zM472 224h11v11h-11zM696 224h11v11h-11zM910 224h10v11h-10zM1422 224h11v11h-11zM1571 224h11v11h-11zM451 235h11v10h-11zM590 235h10v10h-10zM1305 235h10v10h-10zM1475 235h11v10h-11zM675 245h11v10h-11zM1721 245h5v10h-5zM1123 255h11v11h-11zM430 266h10v10h-10zM526 266h10v10h-10zM579 266h11v10h-11zM1369 266h10v10h-10zM419 276h11v10h-11zM398 286h10v11h-10zM1326 286h11v11h-11zM419 297h11v10h-11zM1411 297h11v10h-11zM1486 297h11v10h-11zM1593 297h10v10h-10zM1177 307h10v17h-10zM1475 324h11v21h-11zM1561 345h10v22h-10zM1710 345h11v22h-11z"/>
<path fill="#00ff7f" d="M1166 183h11v10h-11zM1209 183h10v10h-10zM1283 183h11v10h-11zM1411 183h11v10h-11zM1134 193h11v11h-11zM1273 193h10v11h-10zM376 204h11v10h-11zM984 204h11v10h-11zM1059 204h11v10h-11zM1305 204h10v10h-10zM483 214h11v10h-11zM931 214h11v10h-11zM995 214h11v10h-11zM1070 214h32v10h-32zM1294 214h11v10h-11zM1337 214h10v10h-10zM1454 214h11v10h-11zM1603 214h11v10h-11zM1678 214h11v10h-11zM248 224h11v11h-11zM643 224h11v11h-11zM1123 224h11v11h-11zM1209 224h10v11h-10zM1465 224h10v11h-10zM1689 224h10v11h-10zM483 235h11v10h-11zM632 235h11v10h-11zM1027 235h11v10h-11zM1635 235h11v10h-11zM1689 235h10v10h-10zM419 245h11v10h-11zM760 245h11v10h-11zM1134 245h11v10h-11zM1550 245h11v10h-11zM291 255h11v11h-11zM750 255h10v11h-10zM782 255h10v11h-10zM931 255h11v11h-11zM1049 255h10v11h-10zM1294 255h11v11h-11zM547 266h11v10h-11zM1059 266h11v10h-11zM1475 266h11v10h-11zM1603 266h11v10h-11zM248 276h11v10h-11zM984 276h11v10h-11zM1006 276h11v10h-11zM1038 276h11v10h-11zM1667 276h11v10h-11zM355 286h11v11h-11zM387 286h11v11h-11zM440 286h11v11h-11zM803 286h11v11h-11zM1646 286h11v11h-11zM344 297h11v10h-11zM398 297h10v10h-10zM483 297h11v10h-11zM611 297h11v10h-11zM718 297h10v10h-10zM739 297h11v10h-11zM888 297h11v10h-11zM270 307h10v17h-10zM654 307h10v17h-10zM728 307h11v17h-11zM963 307h11v17h-11zM1123 307h22v17h-22zM1187 307h22v17h-22zM1241 307h10v17h-10zM1326 307h11v17h-11zM1497 307h10v17h-10zM462 324h10v21h-10zM856 324h11v21h-11zM888 324h22v21h-22zM1006 324h11v21h-11zM1059 324h11v21h-11zM1102 324h11v21h-11zM280 345h11v22h-11zM600 345h11v22h-11zM771 345h11v22h-11zM814 345h10v22h-10zM835 345h11v22h-11zM1102 345h11v22h-11zM1315 345h11v22h-11zM1465 345h10v22h-10z"/>
<path fill="#00ff88" d="M1177 183h10v10h-10zM1177 193h10v11h-10zM1411 193h22v11h-22zM1571 193h11v11h-11zM334 204h10v10h-10zM355 204h11v10h-11zM942 204h10v10h-10zM1230 204h11v10h-11zM1667 204h11v10h-11zM654 214h10v10h-10zM675 214h11v10h-11zM718 214h10v10h-10zM792 214h11v10h-11zM846 214h10v10h-10zM1059 214h11v10h-11zM1102 214h11v10h-11zM1518 214h21v10h-21zM259 224h11v11h-11zM739 224h11v11h-11zM824 224h11v11h-11zM1262 224h11v11h-11zM1294 224h11v11h-11zM230 235h8v10h-8zM312 235h11v10h-11zM675 235h11v10h-11zM771 235h11v10h-11zM1230 235h11v10h-11zM1411 235h11v10h-11zM344 245h11v10h-11zM376 245h11v10h-11zM654 245h10v10h-10zM878 245h10v10h-10zM1027 245h11v10h-11zM1273 245h10v10h-10zM1401 245h10v10h-10zM1689 245h10v10h-10zM387 255h11v11h-11zM472 255h11v11h-11zM558 255h10v11h-10zM728 255h11v11h-11zM1038 255h11v11h-11zM1081 255h10v11h-10zM1166 255h11v11h-11zM1699 255h11v11h-11zM248 266h11v10h-11zM291 266h11v10h-11zM344 266h11v10h-11zM664 266h11v10h-11zM696 266h11v10h-11zM899 266h21v10h-21zM931 266h11v10h-11zM1251 266h22v10h-22zM334 276h10v10h-10zM387 276h11v10h-11zM430 276h10v10h-10zM483 276h11v10h-11zM696 276h11v10h-11zM995 276h11v10h-11zM1017 276h21v10h-21zM1102 276h11v10h-11zM1294 276h11v10h-11zM1571 276h11v10h-11zM1657 276h10v10h-10zM408 286h11v11h-11zM718 286h10v11h-10zM739 286h11v11h-11zM952 286h11v11h-11zM1219 286h11v11h-11zM1294 286h11v11h-11zM696 297h11v10h-11zM728 297h11v10h-11zM1241 297h10v10h-10zM1369 297h10v10h-10zM291 307h11v17h-11zM760 307h11v17h-11zM814 307h10v17h-10zM910 307h10v17h-10zM952 307h11v17h-11zM1081 307h10v17h-10zM1145 307h21v17h-21zM1390 307h11v17h-11zM1486 307h11v17h-11zM1550 307h11v17h-11zM238 324h10v21h-10zM312 324h11v21h-11zM344 324h22v21h-22zM440 324h22v21h-22zM707 324h11v21h-11zM824 324h11v21h-11zM1454 324h11v21h-11zM430 345h10v22h-10zM568 345h11v22h-11zM942 345h10v22h-10zM1262 345h11v22h-11zM1486 345h11v22h-11zM1667 345h11v22h-11z"/>
<path fill="#29ff00" d="M1241 183h10v10h-10zM1603 183h11v10h-11zM302 193h10v11h-10zM376 193h11v11h-11zM408 193h11v11h-11zM483 193h11v11h-11zM515 193h11v11h-11zM568 193h11v11h-11zM643 193h11v11h-11zM707 193h11v11h-11zM910 193h10v11h-10zM1049 193h10v11h-10zM1070 193h11v11h-11zM1091 193h22v11h-22zM1337 193h10v11h-10zM1379 193h11v11h-11zM1401 193h10v11h-10zM1667 193h11v11h-11zM344 204h11v10h-11zM536 204h11v10h-11zM654 204h10v10h-10zM707 204h11v10h-11zM835 204h11v10h-11zM974 204h10v10h-10zM1006 204h11v10h-11zM1241 204h10v10h-10zM1507 204h11v10h-11zM1614 204h11v10h-11zM280 214h11v10h-11zM504 214h11v10h-11zM739 214h11v10h-11zM771 214h11v10h-11zM803 214h11v10h-11zM867 214h11v10h-11zM1017 214h10v10h-10zM1347 214h11v10h-11zM1539 214h11v10h-11zM1593 214h10v10h-10zM1635 214h11v10h-11zM622 224h10v11h-10zM899 224h11v11h-11zM995 224h11v11h-11zM1315 224h11v11h-11zM1443 224h11v11h-11zM1123 235h11v10h-11zM1433 235h10v10h-10zM1614 235h11v10h-11zM259 245h11v10h-11zM430 245h10v10h-10zM1582 255h21v11h-21zM1721 255h5v11h-5zM1443 266h11v10h-11zM1529 266h10v10h-10zM654 276h10v10h-10zM803 276h11v10h-11zM824 276h22v10h-22zM931 276h11v10h-11zM1550 276h11v10h-11zM1603 276h11v10h-11zM622 286h10v11h-10zM547 297h11v10h-11zM846 297h10v10h-10zM1475 297h11v10h-11zM1518 297h11v10h-11zM334 307h10v17h-10zM483 307h11v17h-11zM600 307h11v17h-11zM664 307h11v17h-11zM782 307h10v17h-10zM1049 307h10v17h-10zM1443 324h11v21h-11zM270 345h10v22h-10zM440 345h11v22h-11zM494 345h10v22h-10zM526 345h10v22h-10zM792 345h11v22h-11zM1209 345h10v22h-10zM1230 345h11v22h-11z"/>
<path fill="#20ff00" d="M1379 183h11v10h-11zM1667 183h22v10h-22zM600 193h11v11h-11zM1017 193h10v11h-10zM1038 193h11v11h-11zM1081 193h10v11h-10zM1283 193h11v11h-11zM1369 193h10v11h-10zM1443 193h11v11h-11zM312 204h22v10h-22zM387 204h21v10h-21zM440 204h11v10h-11zM526 204h10v10h-10zM622 204h10v10h-10zM728 204h11v10h-11zM760 204h11v10h-11zM952 204h11v10h-11zM1017 204h10v10h-10zM1091 204h11v10h-11zM1326 204h11v10h-11zM1465 204h10v10h-10zM1497 204h10v10h-10zM1582 204h11v10h-11zM1635 204h11v10h-11zM494 214h10v10h-10zM600 214h11v10h-11zM1155 214h11v10h-11zM1241 214h10v10h-10zM1433 214h10v10h-10zM1582 214h11v10h-11zM430 224h10v11h-10zM462 224h10v11h-10zM494 224h10v11h-10zM515 224h11v11h-11zM536 224h22v11h-22zM675 224h21v11h-21zM760 224h11v11h-11zM846 224h10v11h-10zM888 224h11v11h-11zM931 224h11v11h-11zM1155 224h11v11h-11zM1198 224h11v11h-11zM1326 224h11v11h-11zM1390 224h11v11h-11zM1550 224h11v11h-11zM323 235h21v10h-21zM440 235h11v10h-11zM494 235h10v10h-10zM963 235h11v10h-11zM1337 235h10v10h-10zM398 245h10v10h-10zM611 245h11v10h-11zM920 245h22v10h-22zM1049 245h10v10h-10zM1081 245h10v10h-10zM1187 245h11v10h-11zM1507 245h11v10h-11zM1614 245h11v10h-11zM1699 245h11v10h-11zM270 255h10v11h-10zM494 255h10v11h-10zM611 255h11v11h-11zM1177 255h10v11h-10zM1571 255h11v11h-11zM1614 255h11v11h-11zM1667 255h11v11h-11zM803 266h11v10h-11zM974 266h10v10h-10zM1027 266h11v10h-11zM1102 266h11v10h-11zM1294 266h11v10h-11zM1326 266h11v10h-11zM664 276h11v10h-11zM1166 276h11v10h-11zM568 286h11v11h-11zM600 286h11v11h-11zM654 286h10v11h-10zM867 286h11v11h-11zM1027 286h11v11h-11zM1518 286h11v11h-11zM291 297h11v10h-11zM590 297h10v10h-10zM1081 297h10v10h-10zM1273 297h10v10h-10zM1433 297h10v10h-10zM1603 297h11v10h-11zM1443 307h11v17h-11zM472 324h11v21h-11zM526 324h10v21h-10zM792 324h11v21h-11zM942 324h10v21h-10zM1017 324h10v21h-10zM558 345h10v22h-10zM1358 345h11v22h-11zM1443 345h22v22h-22z"/>
<path fill="#00ff59" d="M238 193h10v11h-10zM675 204h11v10h-11zM792 204h11v10h-11zM1593 204h10v10h-10zM419 214h11v10h-11zM515 214h11v10h-11zM611 214h11v10h-11zM323 224h11v11h-11zM600 224h11v11h-11zM600 235h11v10h-11zM728 235h11v10h-11zM974 235h10v10h-10zM334 245h10v10h-10zM728 245h11v10h-11zM1059 245h11v10h-11zM1166 245h11v10h-11zM1209 245h10v10h-10zM1561 245h10v10h-10zM632 266h11v10h-11zM942 266h10v10h-10zM1550 266h11v10h-11zM611 276h11v10h-11zM270 286h10v11h-10zM771 286h11v11h-11zM856 286h11v11h-11zM1091 286h22v11h-22zM238 297h10v10h-10zM440 297h11v10h-11zM632 297h11v10h-11zM931 297h11v10h-11zM312 307h11v17h-11zM387 307h11v17h-11zM334 324h10v21h-10zM483 324h11v21h-11zM334 345h10v22h-10zM910 345h10v22h-10zM963 345h11v22h-11zM1134 345h11v22h-11zM1155 345h11v22h-11zM1241 345h10v22h-10z"/>
<path fill="#0eff00" d="M280 193h11v11h-11zM312 193h11v11h-11zM590 193h10v11h-10zM814 193h10v11h-10zM1155 193h11v11h-11zM1315 193h11v11h-11zM1561 193h10v11h-10zM302 204h10v10h-10zM419 204h21v10h-21zM643 204h11v10h-11zM1027 204h11v10h-11zM1081 204h10v10h-10zM1251 204h11v10h-11zM1401 204h10v10h-10zM1422 204h11v10h-11zM1518 204h11v10h-11zM334 214h10v10h-10zM643 214h11v10h-11zM942 214h10v10h-10zM963 214h32v10h-32zM1326 214h11v10h-11zM1571 214h11v10h-11zM1625 214h10v10h-10zM398 224h10v11h-10zM451 224h11v11h-11zM664 224h11v11h-11zM1081 224h10v11h-10zM1337 224h10v11h-10zM1710 224h16v11h-16zM248 235h11v10h-11zM856 235h11v10h-11zM899 235h11v10h-11zM920 235h11v10h-11zM1177 235h10v10h-10zM1326 235h11v10h-11zM1539 235h11v10h-11zM1113 245h10v10h-10zM1390 245h11v10h-11zM1571 245h22v10h-22zM622 255h10v11h-10zM675 255h11v11h-11zM952 255h11v11h-11zM1102 255h11v11h-11zM1187 255h11v11h-11zM1401 255h10v11h-10zM1475 255h11v11h-11zM1539 255h11v11h-11zM334 266h10v10h-10zM376 266h11v10h-11zM590 266h10v10h-10zM643 266h11v10h-11zM920 266h11v10h-11zM1145 266h10v10h-10zM1241 266h10v10h-10zM1539 266h11v10h-11zM1699 266h11v10h-11zM526 276h10v10h-10zM771 276h21v10h-21zM1059 276h11v10h-11zM1411 276h11v10h-11zM1529 276h10v10h-10zM1582 276h11v10h-11zM291 286h11v11h-11zM643 286h11v11h-11zM686 286h21v11h-21zM760 286h11v11h-11zM995 286h11v11h-11zM1177 286h10v11h-10zM430 297h10v10h-10zM494 297h10v10h-10zM622 297h10v10h-10zM1017 297h10v10h-10zM1049 297h10v10h-10zM462 307h10v17h-10zM526 307h10v17h-10zM696 307h11v17h-11zM824 307h11v17h-11zM1465 307h10v17h-10zM1614 307h11v17h-11zM230 324h8v21h-8zM1145 324h10v21h-10zM1177 324h10v21h-10zM1347 324h11v21h-11zM1571 324h11v21h-11zM1593 324h10v21h-10zM1699 324h11v21h-11zM323 345h11v22h-11zM366 345h10v22h-10zM483 345h11v22h-11zM579 345h11v22h-11zM622 345h10v22h-10zM643 345h11v22h-11zM803 345h11v22h-11zM899 345h11v22h-11zM984 345h11v22h-11zM1219 345h11v22h-11zM1411 345h11v22h-11zM1433 345h10v22h-10zM1571 345h11v22h-11zM1593 345h10v22h-10zM1721 345h5v22h-5z"/>
<path fill="#05ff00" d="M323 193h11v11h-11zM792 193h11v11h-11zM1699 193h11v11h-11zM515 204h11v10h-11zM611 204h11v10h-11zM739 204h11v10h-11zM1294 204h11v10h-11zM1411 204h11v10h-11zM387 214h11v10h-11zM568 214h11v10h-11zM622 214h10v10h-10zM899 214h21v10h-21zM1198 214h11v10h-11zM1273 214h10v10h-10zM1305 214h10v10h-10zM1358 214h11v10h-11zM707 224h32v11h-32zM867 224h11v11h-11zM1273 224h21v11h-21zM1358 224h11v11h-11zM1497 224h10v11h-10zM686 235h10v10h-10zM888 235h11v10h-11zM1049 235h10v10h-10zM1113 235h10v10h-10zM1507 235h11v10h-11zM1657 235h10v10h-10zM291 245h11v10h-11zM323 245h11v10h-11zM558 245h10v10h-10zM590 245h10v10h-10zM856 245h11v10h-11zM899 245h11v10h-11zM1283 245h11v10h-11zM238 255h10v11h-10zM259 255h11v11h-11zM536 255h11v11h-11zM590 255h10v11h-10zM643 255h11v11h-11zM814 255h10v11h-10zM1518 255h11v11h-11zM622 266h10v10h-10zM814 266h10v10h-10zM867 266h11v10h-11zM814 276h10v10h-10zM974 276h10v10h-10zM1539 276h11v10h-11zM1614 276h11v10h-11zM230 286h8v11h-8zM376 286h11v11h-11zM1273 286h10v11h-10zM1507 286h11v11h-11zM579 297h11v10h-11zM824 297h11v10h-11zM1091 297h11v10h-11zM1550 297h11v10h-11zM558 307h10v17h-10zM750 307h10v17h-10zM1038 307h11v17h-11zM1411 307h11v17h-11zM366 324h10v21h-10zM504 324h11v21h-11zM579 324h11v21h-11zM718 324h10v21h-10zM867 324h11v21h-11zM1070 324h11v21h-11zM1486 324h11v21h-11zM1561 324h10v21h-10zM312 345h11v22h-11zM536 345h11v22h-11zM654 345h10v22h-10zM707 345h21v22h-21zM1070 345h11v22h-11zM1091 345h11v22h-11zM1305 345h10v22h-10zM1497 345h10v22h-10zM1678 345h11v22h-11z"/>
<path fill="#17ff00" d="M824 193h11v11h-11zM846 193h10v11h-10zM899 193h11v11h-11zM1113 193h10v11h-10zM1251 193h11v11h-11zM1497 193h10v11h-10zM366 204h10v10h-10zM451 204h21v10h-21zM483 204h11v10h-11zM504 204h11v10h-11zM579 204h11v10h-11zM686 204h10v10h-10zM718 204h10v10h-10zM750 204h10v10h-10zM771 204h21v10h-21zM856 204h11v10h-11zM899 204h11v10h-11zM1038 204h11v10h-11zM1145 204h10v10h-10zM1166 204h11v10h-11zM1209 204h10v10h-10zM1347 204h22v10h-22zM1454 204h11v10h-11zM1475 204h11v10h-11zM1646 204h21v10h-21zM323 214h11v10h-11zM526 214h10v10h-10zM547 214h11v10h-11zM707 214h11v10h-11zM760 214h11v10h-11zM814 214h10v10h-10zM952 214h11v10h-11zM1113 214h10v10h-10zM1134 214h11v10h-11zM1187 214h11v10h-11zM1369 214h10v10h-10zM1507 214h11v10h-11zM1550 214h11v10h-11zM1667 214h11v10h-11zM280 224h11v11h-11zM312 224h11v11h-11zM344 224h11v11h-11zM1177 224h10v11h-10zM1241 224h10v11h-10zM1539 224h11v11h-11zM1646 224h11v11h-11zM430 235h10v10h-10zM643 235h21v10h-21zM867 235h11v10h-11zM942 235h10v10h-10zM984 235h11v10h-11zM1145 235h10v10h-10zM1251 235h11v10h-11zM1390 235h11v10h-11zM1486 235h11v10h-11zM1571 235h11v10h-11zM526 245h10v10h-10zM622 245h10v10h-10zM1635 245h11v10h-11zM483 255h11v11h-11zM579 255h11v11h-11zM696 255h11v11h-11zM1561 255h10v11h-10zM1625 255h10v11h-10zM835 266h11v10h-11zM1198 266h11v10h-11zM1433 266h10v10h-10zM1454 266h11v10h-11zM1625 266h21v10h-21zM376 276h11v10h-11zM910 276h21v10h-21zM1049 276h10v10h-10zM611 286h11v11h-11zM1145 286h21v11h-21zM1443 286h11v11h-11zM1465 286h21v11h-21zM1614 286h11v11h-11zM462 297h10v10h-10zM568 297h11v10h-11zM664 297h11v10h-11zM856 297h11v10h-11zM910 297h10v10h-10zM942 297h10v10h-10zM1134 297h11v10h-11zM1219 297h11v10h-11zM1507 297h11v10h-11zM867 307h11v17h-11zM888 307h11v17h-11zM1017 307h10v17h-10zM1593 307h10v17h-10zM1635 307h11v17h-11zM1667 307h11v17h-11zM622 324h10v21h-10zM739 324h11v21h-11zM782 324h10v21h-10zM984 324h11v21h-11zM1497 324h10v21h-10zM259 345h11v22h-11zM867 345h11v22h-11zM1145 345h10v22h-10zM1198 345h11v22h-11zM1273 345h10v22h-10zM1539 345h11v22h-11z"/>
<path fill="#00ff9b" d="M1059 193h11v11h-11zM344 307h11v17h-11zM1049 345h10v22h-10z"/>
<path fill="#00ff0d" d="M1198 193h11v11h-11zM408 204h11v10h-11zM824 204h11v10h-11zM963 204h11v10h-11zM1561 204h10v10h-10zM302 214h21v10h-21zM376 214h11v10h-11zM824 214h11v10h-11zM856 214h11v10h-11zM1145 214h10v10h-10zM1614 214h11v10h-11zM230 224h8v11h-8zM750 224h10v11h-10zM803 224h11v11h-11zM856 224h11v11h-11zM920 224h11v11h-11zM942 224h10v11h-10zM1454 224h11v11h-11zM280 235h11v10h-11zM718 235h10v10h-10zM782 235h10v10h-10zM1081 235h10v10h-10zM1294 235h11v10h-11zM1646 235h11v10h-11zM579 245h11v10h-11zM792 245h11v10h-11zM835 245h11v10h-11zM1475 245h11v10h-11zM1678 245h11v10h-11zM568 255h11v11h-11zM632 255h11v11h-11zM974 255h10v11h-10zM1315 255h11v11h-11zM1603 255h11v11h-11zM558 266h10v10h-10zM963 266h11v10h-11zM1390 266h11v10h-11zM1486 266h11v10h-11zM1561 266h10v10h-10zM547 276h11v10h-11zM600 276h11v10h-11zM878 276h10v10h-10zM899 276h11v10h-11zM451 286h11v11h-11zM504 286h11v11h-11zM526 286h10v11h-10zM728 286h11v11h-11zM878 286h10v11h-10zM1059 286h11v11h-11zM1251 286h11v11h-11zM1401 286h10v11h-10zM1166 297h11v10h-11zM451 307h11v17h-11zM622 307h10v17h-10zM718 307h10v17h-10zM771 307h11v17h-11zM1070 307h11v17h-11zM1091 307h11v17h-11zM1219 307h11v17h-11zM643 324h21v21h-21zM771 324h11v21h-11zM1038 324h11v21h-11zM1209 324h10v21h-10zM1582 324h11v21h-11zM230 345h8v22h-8zM419 345h11v22h-11zM451 345h11v22h-11zM782 345h10v22h-10zM1006 345h21v22h-21zM1507 345h11v22h-11zM1550 345h11v22h-11z"/>
<path fill="#00ffca" d="M1219 193h11v11h-11zM1518 193h11v11h-11zM1539 193h11v11h-11zM1689 204h21v10h-21zM1347 224h11v11h-11zM1422 245h11v10h-11zM1465 245h10v10h-10zM1518 245h32v10h-32zM1347 255h32v11h-32zM1177 266h10v10h-10zM952 276h11v10h-11zM1134 276h11v10h-11zM1305 276h10v10h-10zM1465 276h10v10h-10zM1486 276h11v10h-11zM1379 297h11v10h-11zM707 307h11v17h-11zM1102 307h11v17h-11zM536 324h11v21h-11zM750 324h10v21h-10zM963 324h11v21h-11zM1219 324h11v21h-11zM1401 324h10v21h-10zM920 345h11v22h-11z"/>
<path fill="#00ff75" d="M1305 193h10v11h-10zM1326 193h11v11h-11zM1625 193h10v11h-10zM1209 214h10v10h-10zM590 224h10v11h-10zM814 224h10v11h-10zM707 235h11v10h-11zM1038 235h11v10h-11zM1358 235h11v10h-11zM739 255h11v11h-11zM1465 255h10v11h-10zM686 266h10v10h-10zM1379 266h11v10h-11zM366 286h10v11h-10zM675 286h11v11h-11zM1379 286h11v11h-11zM750 297h10v10h-10zM632 324h11v21h-11zM547 345h11v22h-11zM1635 345h11v22h-11z"/>
<path fill="#00d6ff" d="M1358 193h11v11h-11zM888 214h11v10h-11zM1251 214h11v10h-11zM1422 214h11v10h-11zM1497 214h10v10h-10zM1038 224h11v11h-11zM1091 224h11v11h-11zM472 235h11v10h-11zM835 235h11v10h-11zM1166 235h11v10h-11zM1209 235h10v10h-10zM1443 235h11v10h-11zM1593 235h10v10h-10zM248 245h11v10h-11zM995 245h22v10h-22zM1294 245h11v10h-11zM323 255h11v11h-11zM963 255h11v11h-11zM1219 255h11v11h-11zM1283 255h11v11h-11zM494 266h10v10h-10zM1315 266h11v10h-11zM1582 266h11v10h-11zM1667 266h11v10h-11zM867 276h11v10h-11zM1177 276h10v10h-10zM1251 276h22v10h-22zM1326 276h21v10h-21zM1454 276h11v10h-11zM1678 276h11v10h-11zM1699 276h11v10h-11zM1070 286h11v11h-11zM1315 286h11v11h-11zM792 297h11v10h-11zM920 297h11v10h-11zM1123 297h11v10h-11zM1561 297h10v10h-10zM878 307h10v17h-10zM1230 307h11v17h-11zM1401 307h10v17h-10zM1433 307h10v17h-10zM995 324h11v21h-11zM1283 324h11v21h-11zM387 345h11v22h-11zM1123 345h11v22h-11z"/>
<path fill="#7e00ff" d="M238 204h10v10h-10zM1113 204h10v10h-10zM1283 204h11v10h-11zM1369 204h10v10h-10zM1049 214h10v10h-10zM1166 214h11v10h-11zM1443 214h11v10h-11zM1721 214h5v10h-5zM419 224h11v11h-11zM440 224h11v11h-11zM579 224h11v11h-11zM782 224h21v11h-21zM1006 224h11v11h-11zM1027 224h11v11h-11zM1059 224h11v11h-11zM1166 224h11v11h-11zM1219 224h11v11h-11zM1251 224h11v11h-11zM1305 224h10v11h-10zM1486 224h11v11h-11zM1561 224h10v11h-10zM1593 224h10v11h-10zM1625 224h21v11h-21zM270 235h10v10h-10zM355 235h11v10h-11zM558 235h10v10h-10zM664 235h11v10h-11zM760 235h11v10h-11zM792 235h11v10h-11zM878 235h10v10h-10zM1017 235h10v10h-10zM1091 235h22v10h-22zM1603 235h11v10h-11zM1710 235h11v10h-11zM238 245h10v10h-10zM355 245h21v10h-21zM408 245h11v10h-11zM472 245h11v10h-11zM568 245h11v10h-11zM664 245h11v10h-11zM707 245h11v10h-11zM910 245h10v10h-10zM1070 245h11v10h-11zM1102 245h11v10h-11zM1219 245h22v10h-22zM1251 245h22v10h-22zM1347 245h11v10h-11zM1443 245h22v10h-22zM1497 245h10v10h-10zM1593 245h10v10h-10zM1657 245h10v10h-10zM312 255h11v11h-11zM376 255h11v11h-11zM451 255h11v11h-11zM547 255h11v11h-11zM664 255h11v11h-11zM707 255h11v11h-11zM835 255h11v11h-11zM910 255h10v11h-10zM1006 255h11v11h-11zM1070 255h11v11h-11zM1273 255h10v11h-10zM1326 255h11v11h-11zM1433 255h10v11h-10zM1497 255h10v11h-10zM1529 255h10v11h-10zM1710 255h11v11h-11zM259 266h21v10h-21zM323 266h11v10h-11zM398 266h10v10h-10zM419 266h11v10h-11zM451 266h32v10h-32zM654 266h10v10h-10zM707 266h32v10h-32zM782 266h10v10h-10zM888 266h11v10h-11zM952 266h11v10h-11zM1006 266h21v10h-21zM1038 266h21v10h-21zM1113 266h10v10h-10zM1283 266h11v10h-11zM1305 266h10v10h-10zM1347 266h11v10h-11zM1422 266h11v10h-11zM1507 266h11v10h-11zM1710 266h11v10h-11zM230 276h8v10h-8zM302 276h10v10h-10zM323 276h11v10h-11zM462 276h10v10h-10zM494 276h10v10h-10zM568 276h11v10h-11zM675 276h11v10h-11zM707 276h21v10h-21zM739 276h21v10h-21zM888 276h11v10h-11zM963 276h11v10h-11zM1113 276h10v10h-10zM1187 276h54v10h-54zM1273 276h10v10h-10zM1315 276h11v10h-11zM1347 276h11v10h-11zM1507 276h11v10h-11zM1635 276h22v10h-22zM1689 276h10v10h-10zM248 286h11v11h-11zM430 286h10v11h-10zM462 286h10v11h-10zM483 286h11v11h-11zM515 286h11v11h-11zM536 286h11v11h-11zM707 286h11v11h-11zM814 286h10v11h-10zM835 286h11v11h-11zM888 286h11v11h-11zM920 286h11v11h-11zM942 286h10v11h-10zM1006 286h11v11h-11zM1123 286h11v11h-11zM1198 286h11v11h-11zM1262 286h11v11h-11zM1305 286h10v11h-10zM1337 286h10v11h-10zM1358 286h11v11h-11zM1454 286h11v11h-11zM1550 286h11v11h-11zM1582 286h11v11h-11zM1603 286h11v11h-11zM1635 286h11v11h-11zM1699 286h11v11h-11zM1721 286h5v11h-5zM259 297h11v10h-11zM280 297h11v10h-11zM302 297h21v10h-21zM387 297h11v10h-11zM472 297h11v10h-11zM515 297h11v10h-11zM536 297h11v10h-11zM600 297h11v10h-11zM835 297h11v10h-11zM878 297h10v10h-10zM899 297h11v10h-11zM952 297h11v10h-11zM1038 297h11v10h-11zM1070 297h11v10h-11zM1113 297h10v10h-10zM1209 297h10v10h-10zM1230 297h11v10h-11zM1251 297h11v10h-11zM1305 297h10v10h-10zM1337 297h10v10h-10zM1358 297h11v10h-11zM1529 297h10v10h-10zM1582 297h11v10h-11zM1635 297h22v10h-22zM1689 297h10v10h-10zM1721 297h5v10h-5zM280 307h11v17h-11zM366 307h10v17h-10zM430 307h21v17h-21zM536 307h11v17h-11zM611 307h11v17h-11zM632 307h22v17h-22zM675 307h11v17h-11zM856 307h11v17h-11zM899 307h11v17h-11zM920 307h11v17h-11zM984 307h33v17h-33zM1027 307h11v17h-11zM1059 307h11v17h-11zM1166 307h11v17h-11zM1262 307h11v17h-11zM1283 307h11v17h-11zM1305 307h10v17h-10zM1337 307h10v17h-10zM1422 307h11v17h-11zM1571 307h11v17h-11zM1603 307h11v17h-11zM1646 307h11v17h-11zM1699 307h11v17h-11zM248 324h11v21h-11zM291 324h21v21h-21zM408 324h11v21h-11zM430 324h10v21h-10zM515 324h11v21h-11zM558 324h10v21h-10zM600 324h11v21h-11zM814 324h10v21h-10zM846 324h10v21h-10zM878 324h10v21h-10zM910 324h10v21h-10zM952 324h11v21h-11zM974 324h10v21h-10zM1187 324h11v21h-11zM1251 324h11v21h-11zM1273 324h10v21h-10zM1294 324h32v21h-32zM1337 324h10v21h-10zM1369 324h10v21h-10zM1433 324h10v21h-10zM1465 324h10v21h-10zM1518 324h11v21h-11zM1625 324h21v21h-21zM1657 324h10v21h-10zM1678 324h11v21h-11zM1710 324h16v21h-16zM238 345h10v22h-10zM291 345h21v22h-21zM376 345h11v22h-11zM398 345h10v22h-10zM515 345h11v22h-11zM675 345h11v22h-11zM750 345h10v22h-10zM888 345h11v22h-11zM931 345h11v22h-11zM952 345h11v22h-11zM1113 345h10v22h-10zM1187 345h11v22h-11zM1294 345h11v22h-11zM1326 345h11v22h-11zM1379 345h11v22h-11zM1699 345h11v22h-11z"/>
<path fill="#00ff04" d="M259 204h11v10h-11zM472 204h11v10h-11zM590 204h10v10h-10zM664 204h11v10h-11zM878 204h10v10h-10zM1219 204h11v10h-11zM1539 204h11v10h-11zM344 214h11v10h-11zM686 214h10v10h-10zM750 214h10v10h-10zM1561 214h10v10h-10zM1646 214h11v10h-11zM302 224h10v11h-10zM355 224h21v11h-21zM504 224h11v11h-11zM1667 224h11v11h-11zM931 235h11v10h-11zM1134 235h11v10h-11zM1283 235h11v10h-11zM1347 235h11v10h-11zM1550 235h21v10h-21zM312 245h11v10h-11zM942 245h10v10h-10zM1155 245h11v10h-11zM1305 245h10v10h-10zM1411 245h11v10h-11zM1486 245h11v10h-11zM366 255h10v11h-10zM1027 255h11v11h-11zM1550 255h11v11h-11zM312 266h11v10h-11zM355 266h11v10h-11zM771 266h11v10h-11zM856 266h11v10h-11zM878 266h10v10h-10zM1123 266h11v10h-11zM1155 266h11v10h-11zM1209 266h10v10h-10zM1497 266h10v10h-10zM590 276h10v10h-10zM622 276h10v10h-10zM728 276h11v10h-11zM1433 276h10v10h-10zM1518 276h11v10h-11zM280 286h11v11h-11zM547 286h11v11h-11zM974 286h21v11h-21zM270 297h10v10h-10zM654 297h10v10h-10zM771 297h11v10h-11zM1155 297h11v10h-11zM579 307h11v17h-11zM686 307h10v17h-10zM739 307h11v17h-11zM1251 307h11v17h-11zM1539 307h11v17h-11zM387 324h11v21h-11zM1113 324h10v21h-10zM1507 324h11v21h-11zM1614 324h11v21h-11zM1646 324h11v21h-11zM1667 324h11v21h-11zM408 345h11v22h-11zM1027 345h11v22h-11zM1081 345h10v22h-10zM1518 345h11v22h-11z"/>
<path fill="#00ff4f" d="M547 204h11v10h-11zM931 204h11v10h-11zM230 214h8v10h-8zM248 214h11v10h-11zM408 214h11v10h-11zM430 214h10v10h-10zM1177 214h10v10h-10zM1219 214h11v10h-11zM1379 214h11v10h-11zM1102 224h11v11h-11zM579 235h11v10h-11zM696 235h11v10h-11zM995 235h11v10h-11zM302 245h10v10h-10zM355 255h11v11h-11zM803 255h11v11h-11zM1017 255h10v11h-10zM1113 255h10v11h-10zM1411 255h11v11h-11zM1678 255h11v11h-11zM600 266h11v10h-11zM984 266h11v10h-11zM1571 266h11v10h-11zM259 276h11v10h-11zM344 276h11v10h-11zM1070 276h11v10h-11zM1390 276h11v10h-11zM1422 276h11v10h-11zM312 286h32v11h-32zM1134 286h11v11h-11zM1710 286h11v11h-11zM248 297h11v10h-11zM867 297h11v10h-11zM995 297h11v10h-11zM1187 297h11v10h-11zM1497 297h10v10h-10zM1667 297h11v10h-11zM803 307h11v17h-11zM1625 307h10v17h-10zM280 324h11v21h-11zM376 324h11v21h-11zM355 345h11v22h-11zM632 345h11v22h-11zM824 345h11v22h-11zM1390 345h11v22h-11z"/>
<path fill="#00ff46" d="M558 204h10v10h-10zM1315 204h11v10h-11zM238 214h10v10h-10zM259 214h11v10h-11zM451 214h11v10h-11zM536 214h11v10h-11zM632 214h11v10h-11zM1027 214h11v10h-11zM654 224h10v11h-10zM1614 224h11v11h-11zM1657 224h10v11h-10zM302 235h10v10h-10zM1529 235h10v10h-10zM750 245h10v10h-10zM814 245h10v10h-10zM280 255h11v11h-11zM526 255h10v11h-10zM920 255h11v11h-11zM611 266h11v10h-11zM1401 266h10v10h-10zM1614 266h11v10h-11zM398 276h10v10h-10zM451 276h11v10h-11zM856 276h11v10h-11zM451 297h11v10h-11zM782 297h10v10h-10zM974 297h10v10h-10zM1027 297h11v10h-11zM1177 297h10v10h-10zM1326 297h11v10h-11zM1465 297h10v10h-10zM323 307h11v17h-11zM931 307h21v17h-21zM1561 307h10v17h-10zM1657 307h10v17h-10zM1049 324h10v21h-10zM696 345h11v22h-11zM974 345h10v22h-10z"/>
<path fill="#00ff62" d="M696 204h11v10h-11zM1475 214h11v10h-11zM291 224h11v11h-11zM771 224h11v11h-11zM963 224h11v11h-11zM1433 224h10v11h-10zM1401 235h10v10h-10zM1625 235h10v10h-10zM600 245h11v10h-11zM632 245h11v10h-11zM771 245h11v10h-11zM963 245h11v10h-11zM398 255h10v11h-10zM440 255h11v11h-11zM600 255h11v11h-11zM867 255h11v11h-11zM1422 255h11v11h-11zM366 266h10v10h-10zM739 266h11v10h-11zM238 276h10v10h-10zM366 276h10v10h-10zM1379 276h11v10h-11zM1049 286h10v11h-10zM686 297h10v10h-10zM760 297h11v10h-11zM1539 297h11v10h-11zM974 307h10v17h-10zM1411 324h11v21h-11zM1283 345h11v22h-11z"/>
<path fill="#00fff9" d="M1123 204h11v10h-11zM579 214h11v10h-11zM696 214h11v10h-11zM782 214h10v10h-10zM1486 214h11v10h-11zM558 224h10v11h-10zM1603 224h11v11h-11zM419 235h11v10h-11zM504 235h11v10h-11zM536 235h11v10h-11zM814 235h10v10h-10zM910 235h10v10h-10zM1006 235h11v10h-11zM1518 235h11v10h-11zM1678 235h11v10h-11zM451 245h11v10h-11zM824 245h11v10h-11zM1337 245h10v10h-10zM792 255h11v11h-11zM824 255h11v11h-11zM1657 255h10v11h-10zM387 266h11v10h-11zM1337 266h10v10h-10zM686 276h10v10h-10zM1283 276h11v10h-11zM1283 286h11v11h-11zM1433 286h10v11h-10zM1486 286h11v11h-11zM1625 286h10v11h-10zM230 297h8v10h-8zM707 297h11v10h-11zM803 297h11v10h-11zM302 307h10v17h-10zM1294 307h11v17h-11zM1198 324h11v21h-11zM1326 324h11v21h-11zM1358 324h11v21h-11zM728 345h11v22h-11zM1038 345h11v22h-11zM1582 345h11v22h-11z"/>
<path fill="#00ff20" d="M1273 204h10v10h-10zM590 214h10v10h-10zM1230 214h11v10h-11zM1699 214h11v10h-11zM632 224h11v11h-11zM1049 224h10v11h-10zM344 235h11v10h-11zM387 235h11v10h-11zM526 235h10v10h-10zM611 235h11v10h-11zM1241 235h10v10h-10zM1454 235h11v10h-11zM1315 245h11v10h-11zM302 255h10v11h-10zM771 255h11v11h-11zM1134 266h11v10h-11zM1166 266h11v10h-11zM1465 266h10v10h-10zM504 276h11v10h-11zM558 276h10v10h-10zM632 276h11v10h-11zM1123 276h11v10h-11zM664 286h11v11h-11zM1262 297h11v10h-11zM1518 307h11v17h-11zM590 345h10v22h-10zM846 345h10v22h-10zM1251 345h11v22h-11z"/>
<path fill="#00b1ff" d="M1337 204h10v10h-10zM1123 214h11v10h-11zM536 245h11v10h-11zM230 266h8v10h-8zM1081 286h10v11h-10zM1454 297h11v10h-11zM1315 307h11v17h-11zM1379 324h11v21h-11zM995 345h11v22h-11z"/>
<path fill="#00ff91" d="M1379 204h11v10h-11zM1038 214h11v10h-11zM366 235h10v10h-10zM547 245h11v10h-11zM230 255h8v11h-8zM675 266h11v10h-11zM515 276h11v10h-11zM408 297h11v10h-11zM230 307h8v17h-8zM1379 307h11v17h-11zM1529 307h10v17h-10zM323 324h11v21h-11zM611 324h11v21h-11zM664 324h11v21h-11zM1689 345h10v22h-10z"/>
<path fill="#00e0ff" d="M1390 204h11v10h-11zM1443 204h11v10h-11zM1219 235h11v10h-11zM867 245h11v10h-11zM760 255h11v11h-11zM846 255h10v11h-10zM1230 255h11v11h-11zM1337 255h10v11h-10zM483 266h11v10h-11zM515 266h11v10h-11zM1230 266h11v10h-11zM1155 276h11v10h-11zM1241 276h10v10h-10zM1497 276h10v10h-10zM1166 286h11v11h-11zM1667 286h11v11h-11zM1283 297h22v10h-22zM515 307h11v17h-11zM792 307h11v17h-11zM1358 307h11v17h-11z"/>
<path fill="#00a8ff" d="M1486 204h11v10h-11zM1721 204h5v10h-5zM1262 214h11v10h-11zM238 224h10v11h-10zM526 224h10v11h-10zM952 224h11v11h-11zM1187 224h11v11h-11zM1411 224h11v11h-11zM824 235h11v10h-11zM1262 235h11v10h-11zM1123 245h11v10h-11zM1326 245h11v10h-11zM248 255h11v11h-11zM462 255h10v11h-10zM984 255h11v11h-11zM1443 255h22v11h-22zM1507 255h11v11h-11zM1689 255h10v11h-10zM280 266h11v10h-11zM1689 266h10v10h-10zM291 276h11v10h-11zM408 276h11v10h-11zM643 276h11v10h-11zM1369 276h10v10h-10zM1401 276h10v10h-10zM931 286h11v11h-11zM1539 286h11v11h-11zM1689 286h10v11h-10zM355 297h11v10h-11zM963 297h11v10h-11zM1315 297h11v10h-11zM1422 297h11v10h-11zM248 307h11v17h-11zM408 307h11v17h-11zM568 307h11v17h-11zM590 307h10v17h-10zM1113 307h10v17h-10zM1582 307h11v17h-11zM1689 307h10v17h-10zM398 324h10v21h-10zM686 324h10v21h-10zM728 324h11v21h-11zM920 324h11v21h-11zM1134 324h11v21h-11zM1422 345h11v22h-11zM1625 345h10v22h-10z"/>
<path fill="#00ffc1" d="M1529 204h10v10h-10zM1155 235h11v10h-11zM1433 245h10v10h-10zM1710 245h11v10h-11zM344 255h11v11h-11zM1273 266h10v10h-10zM942 276h10v10h-10zM1145 276h10v10h-10zM1710 276h11v10h-11zM1102 297h11v10h-11zM1401 297h10v10h-10zM675 324h11v21h-11zM1230 324h11v21h-11zM462 345h10v22h-10zM1166 345h11v22h-11zM1369 345h10v22h-10z"/>
<path fill="#00fbff" d="M1571 204h11v10h-11zM1283 214h11v10h-11zM1411 214h11v10h-11zM483 224h11v11h-11zM238 235h10v10h-10zM376 235h11v10h-11zM398 235h10v10h-10zM462 235h10v10h-10zM1369 235h10v10h-10zM230 245h8v10h-8zM1038 245h11v10h-11zM1091 245h11v10h-11zM1145 245h10v10h-10zM419 255h11v11h-11zM654 255h10v11h-10zM995 255h11v11h-11zM1059 255h11v11h-11zM1241 255h10v11h-10zM1305 255h10v11h-10zM1390 255h11v11h-11zM792 266h11v10h-11zM1219 266h11v10h-11zM1646 266h11v10h-11zM280 276h11v10h-11zM536 276h11v10h-11zM1081 276h10v10h-10zM238 286h10v11h-10zM494 286h10v11h-10zM1678 286h11v11h-11zM334 297h10v10h-10zM366 297h10v10h-10zM526 297h10v10h-10zM259 307h11v17h-11zM472 307h11v17h-11zM1209 307h10v17h-10zM1347 307h11v17h-11zM1475 307h11v17h-11zM419 324h11v21h-11zM1155 324h11v21h-11zM1262 324h11v21h-11z"/>
<path fill="#00ff2a" d="M270 214h10v10h-10zM1465 214h10v10h-10zM515 235h11v10h-11zM494 245h10v10h-10zM782 245h10v10h-10zM952 245h11v10h-11zM1379 245h11v10h-11zM1625 245h10v10h-10zM408 255h11v11h-11zM856 255h11v11h-11zM1134 255h11v11h-11zM504 266h11v10h-11zM846 266h10v10h-10zM1411 266h11v10h-11zM312 276h11v10h-11zM760 276h11v10h-11zM1561 276h10v10h-10zM750 286h10v11h-10zM1187 286h11v11h-11zM1422 286h11v11h-11zM504 297h11v10h-11zM814 297h10v10h-10zM355 307h11v17h-11zM398 307h10v17h-10zM494 324h10v21h-10zM1081 324h10v21h-10zM1550 324h11v21h-11zM1337 345h10v22h-10zM1614 345h11v22h-11z"/>
<path fill="#00ff3d" d="M366 214h10v10h-10zM472 214h11v10h-11zM1710 214h11v10h-11zM408 224h11v11h-11zM739 235h21v10h-21zM803 235h11v10h-11zM1059 235h11v10h-11zM1422 235h11v10h-11zM1465 235h10v10h-10zM280 245h11v10h-11zM440 245h11v10h-11zM643 245h11v10h-11zM696 245h11v10h-11zM803 245h11v10h-11zM846 245h10v10h-10zM984 245h11v10h-11zM1177 245h10v10h-10zM1241 245h10v10h-10zM1369 245h10v10h-10zM1603 245h11v10h-11zM504 255h22v11h-22zM1145 255h21v11h-21zM302 266h10v10h-10zM408 266h11v10h-11zM440 266h11v10h-11zM568 266h11v10h-11zM1518 266h11v10h-11zM440 276h11v10h-11zM579 276h11v10h-11zM1443 276h11v10h-11zM1625 276h10v10h-10zM419 286h11v11h-11zM792 286h11v11h-11zM910 286h10v11h-10zM1017 286h10v11h-10zM1411 286h11v11h-11zM1593 286h10v11h-10zM643 297h11v10h-11zM1571 297h11v10h-11zM1614 297h11v10h-11zM1721 307h5v17h-5zM760 324h11v21h-11zM248 345h11v22h-11z"/>
<path fill="#00ff33" d="M398 214h10v10h-10zM1006 214h11v10h-11zM1657 214h10v10h-10zM835 224h11v11h-11zM878 224h10v11h-10zM1369 224h21v11h-21zM1507 224h11v11h-11zM1699 224h11v11h-11zM568 235h11v10h-11zM1315 235h11v10h-11zM1721 235h5v10h-5zM504 245h22v10h-22zM888 245h11v10h-11zM1358 245h11v10h-11zM718 255h10v11h-10zM1198 255h11v11h-11zM1379 255h11v11h-11zM995 266h11v10h-11zM472 276h11v10h-11zM792 276h11v10h-11zM846 276h10v10h-10zM1091 276h11v10h-11zM302 286h10v11h-10zM558 286h10v11h-10zM899 286h11v11h-11zM1571 286h11v11h-11zM1390 297h11v10h-11zM1443 297h11v10h-11zM835 324h11v21h-11zM504 345h11v22h-11zM1059 345h11v22h-11zM1177 345h10v22h-10zM1657 345h10v22h-10z"/>
<path fill="#00ff6c" d="M1390 214h11v10h-11zM611 224h11v11h-11zM1134 224h11v11h-11zM1379 235h11v10h-11zM1699 235h11v10h-11zM1017 245h10v10h-10zM334 255h10v11h-10zM899 255h11v11h-11zM558 297h10v10h-10zM1145 297h10v10h-10zM270 324h10v21h-10zM696 324h11v21h-11zM803 324h11v21h-11zM1603 345h11v22h-11z"/>
<path fill="#00fff0" d="M270 224h10v11h-10zM1401 224h10v11h-10zM686 255h10v11h-10zM824 266h11v10h-11zM1529 345h10v22h-10z"/>
<path fill="#000aff" d="M376 224h11v11h-11zM1113 224h10v11h-10zM1582 235h11v10h-11zM1091 266h11v10h-11zM355 276h11v10h-11zM632 286h11v11h-11zM1657 297h10v10h-10zM590 324h10v21h-10zM760 345h11v22h-11z"/>
<path fill="#00ffd3" d="M974 224h10v11h-10zM1475 276h11v10h-11zM1454 307h11v17h-11z"/>
<path fill="#00cdff" d="M1070 224h11v11h-11zM1582 224h11v11h-11zM846 235h10v10h-10zM270 245h10v10h-10zM782 286h10v11h-10zM1497 286h10v11h-10zM984 297h11v10h-11zM1198 297h11v10h-11zM1625 297h10v10h-10zM1678 297h11v10h-11zM376 307h11v17h-11zM1507 307h11v17h-11zM1091 324h11v21h-11zM856 345h11v22h-11z"/>
<path fill="#0000ff" d="M1230 224h11v11h-11zM1475 224h11v11h-11zM1518 224h11v11h-11zM686 245h10v10h-10zM1358 276h11v10h-11zM1529 286h10v11h-10zM1657 286h10v11h-10zM1603 324h11v21h-11zM664 345h11v22h-11zM686 345h10v22h-10zM1347 345h11v22h-11zM1646 345h11v22h-11z"/>
<path fill="#0013ff" d="M1529 224h10v11h-10z"/>
<path fill="#3200ff" d="M291 235h11v10h-11z"/>
<path fill="#00f2ff" d="M547 235h11v10h-11zM878 255h10v11h-10zM1081 266h10v10h-10zM1561 286h10v11h-10z"/>
<path fill="#005dff" d="M1497 235h10v10h-10zM1091 255h11v11h-11zM1251 255h11v11h-11zM1646 255h11v11h-11zM1038 286h11v11h-11zM494 307h10v17h-10zM835 307h11v17h-11zM344 345h11v22h-11z"/>
<path fill="#0067ff" d="M483 245h11v10h-11zM739 245h11v10h-11zM1198 245h11v10h-11zM536 266h11v10h-11zM1209 286h10v11h-10zM1689 324h10v21h-10zM1401 345h10v22h-10z"/>
<path fill="#00ffb7" d="M1667 245h11v10h-11z"/>
<path fill="#009eff" d="M430 255h10v11h-10zM750 266h10v10h-10zM1070 266h11v10h-11zM1721 266h5v10h-5zM590 286h10v11h-10zM963 286h11v11h-11zM1113 286h10v11h-10zM1241 286h10v11h-10zM1347 286h11v11h-11zM675 297h11v10h-11zM1059 297h11v10h-11zM238 307h10v17h-10zM1273 307h10v17h-10zM1369 307h10v17h-10zM568 324h11v21h-11zM931 324h11v21h-11zM739 345h11v22h-11zM878 345h10v22h-10z"/>
<path fill="#00baff" d="M760 266h11v10h-11z"/>
<path fill="#4300ff" d="M1358 266h11v10h-11zM472 286h11v11h-11z"/>
<path fill="#00c4ff" d="M1593 266h10v10h-10z"/>
<path fill="#1100ff" d="M1657 266h10v10h-10z"/>
<path fill="#3b00ff" d="M344 286h11v11h-11zM1710 297h11v10h-11zM504 307h11v17h-11z"/>
<path fill="#0095ff" d="M846 286h10v11h-10zM1230 286h11v11h-11zM323 297h11v10h-11zM846 307h10v17h-10zM1027 324h11v21h-11z"/>
<path fill="#0800ff" d="M376 297h11v10h-11zM1347 297h11v10h-11zM259 324h11v21h-11zM1241 324h10v21h-10zM611 345h11v22h-11z"/>
<path fill="#00ffdd" d="M1166 324h11v21h-11z"/>
</g>
<path d="M228.65 465L229.65 464.46L230.65 463.85L231.65 463.98L232.65 464.09L233.65 464L234.65 464.47L235.65 464.28L236.65 464.15L237.65 464.28L238.65 464.17L239.65 463.42L240.65 463.33L241.65 463.55L242.65 463.69L243.65 463.26L244.65 462.93L245.65 463.04L246.65 463.38L247.65 463.49L248.65 463.75L249.65 464.49L250.65 465.21L251.65 465.2L252.65 465.06L253.65 465.05L254.65 464.7L255.65 464.52L256.65 464.74L257.65 465.18L258.65 465.09L259.65 465.06L260.65 465.25L261.65 465.6L262.65 465.98L263.65 466.59L264.65 466.9L265.65 467.85L266.65 468.53L267.65 468.41L268.65 467.83L269.65 467.62L270.65 468.08L271.65 468.73L272.65 468.41L273.65 468.17L274.65 468.77L275.65 469.45L276.65 469.46L277.65 469.4L278.65 469.34L279.65 468.93L280.65 468.87L281.65 469.43L282.65 470.06L283.65 470.57L284.65 471.14L285.65 471.16L286.65 471.15L287.65 471.17L288.65 471.18L289.65 471.33L290.65 471.27L291.65 471.08L292.65 471.05L293.65 470.95L294.65 471.37L295.65 471.93L296.65 471.53L297.65 470.16L298.65 469.75L299.65 470.18L300.65 470.5L301.65 470.95L302.65 470.66L303.65 470.08L304.65 470.14L305.65 470.68L306.65 471.07L307.65 470.92L308.65 470.54L309.65 470.67L310.65 470.74L311.65 470.92L312.65 470.8L313.65 470.65L314.65 470.51L315.65 470.33L316.65 470.73L317.65 470.9L318.65 470.62L319.65 470.24L320.65 469.74L321.65 469.93L322.65 470.49L323.65 470.62L324.65 470.86L325.65 470.76L326.65 471.06L327.65 471.43L328.65 471.88L329.65 472.49L330.65 472.55L331.65 472.23L332.65 471.93L333.65 472.09L334.65 472.49L335.65 472.18L336.65 472.35L337.65 471.91L338.65 471.18L339.65 471.13L340.65 471.07L341.65 470.62L342.65 470.31L343.65 469.84L344.65 469.49L345.65 469.36L346.65 469.72L347.65 470.04L348.65 470.03L349.65 470.08L350.65 470.6L351.65 470.64L352.65 469.82L353.65 470.43L354.65 470.9L355.65 470.29L356.65 470.15L357.65 470.11L358.65 469.93L359.65 469.61L360.65 469.45L361.65 470.03L362.65 470.01L363.65 469.81L364.65 469.72L365.65 469.19L366.65 469.37L367.65 469.6L368.65 469.16L369.65 469.35L370.65 469.91L371.65 470.22L372.65 470.32L373.65 470.17L374.65 470.42L375.65 470.77L376.65 470.97L377.65 471.24L378.65 470.88L379.65 470.7L380.65 472.21L381.65 473.08L382.65 472.48L383.65 471.79L384.65 471.61L385.65 471.5L386.65 471.28L387.65 470.68L388.65 470.34L389.65 470.33L390.65 470.44L391.65 470.8L392.65 471.41L393.65 471.92L394.65 472.26L395.65 472.8L396.65 472.9L397.65 472.78L398.65 473.08L399.65 474.62L400.65 475.19L401.65 474.72L402.65 474.86L403.65 475.48L404.65 476.1L405.65 476.68L406.65 476.29L407.65 475.41L408.65 474.62L409.65 474.64L410.65 475.04L411.65 474.79L412.65 474.05L413.65 473.71L414.65 473.41L415.65 473.27L416.65 472.97L417.65 472.71L418.65 472.77L419.65 472.48L420.65 472.41L421.65 472.08L422.65 471.57L423.65 471.32L424.65 471.77L425.65 472.55L426.65 473L427.65 473.21L428.65 473.27L429.65 473.49L430.65 474.09L431.65 474.11L432.65 473.92L433.65 473.52L434.65 474.07L435.65 474.64L436.65 475.26L437.65 476.28L438.65 475.69L439.65 475.3L440.65 475.89L441.65 475.38L442.65 474.97L443.65 475.38L444.65 475.41L445.65 475.57L446.65 475.65L447.65 475.83L448.65 476.07L449.65 476.02L450.65 475.87L451.65 475.16L452.65 474.62L453.65 474.86L454.65 474.1L455.65 473.47L456.65 473L457.65 472.54L458.65 472.53L459.65 472.19L460.65 472.39L461.65 472.44L462.65 471.39L463.65 470.55L464.65 470.44L465.65 470.42L466.65 470.58L467.65 470.91L468.65 470.88L469.65 470.74L470.65 470.78L471.65 470.85L472.65 471.08L473.65 471.23L474.65 470.94L475.65 470.83L476.65 470.71L477.65 469.93L478.65 469.37L479.65 468.68L480.65 468.28L481.65 468.91L482.65 469.02L483.65 469.16L484.65 469.79L485.65 469.87L486.65 469.63L487.65 469.52L488.65 469.61L489.65 469.44L490.65 469.83L491.65 470.06L492.65 470.23L493.65 470.82L494.65 471.12L495.65 471.34L496.65 471.75L497.65 472.04L498.65 473.17L499.65 474.27L500.65 474.69L501.65 474.63L502.65 474.64L503.65 474.89L504.65 475.64L505.65 476.71L506.65 477.32L507.65 477.7L508.65 477.63L509.65 477.97L510.65 478.91L511.65 479.67L512.65 479.82L513.65 480.21L514.65 480.6L515.65 480.71L516.65 480.42L517.65 480.34L518.65 480.38L519.65 480.6L520.65 480.5L521.65 480.2L522.65 480.1L523.65 479.94L524.65 480.14L525.65 479.86L526.65 479.27L527.65 479.65L528.65 479.97L529.65 479.07L530.65 479.04L531.65 479.48L532.65 480.3L533.65 481.02L534.65 480.93L535.65 481.01L536.65 481.36L537.65 481.59L538.65 482.06L539.65 482.3L540.65 482.37L541.65 483.03L542.65 483.9L543.65 483.94L544.65 483.6L545.65 483.25L546.65 483.11L547.65 483.14L548.65 483.28L549.65 483.34L550.65 483.41L551.65 483.39L552.65 483.95L553.65 484.16L554.65 484.18L555.65 484.21L556.65 484.53L557.65 484.95L558.65 485.27L559.65 485.2L560.65 484.79L561.65 485.21L562.65 485.81L563.65 485.16L564.65 484.53L565.65 484.33L566.65 484.29L567.65 484.72L568.65 485.82L569.65 486.63L570.65 486.52L571.65 486.37L572.65 486.36L573.65 486.38L574.65 486.37L575.65 486.41L576.65 486.29L577.65 486.13L578.65 486.57L579.65 486.92L580.65 486.88L581.65 486.92L582.65 486.57L583.65 486.46L584.65 486.55L585.65 486.61L586.65 486.35L587.65 486.13L588.65 485.85L589.65 485.47L590.65 485L591.65 484.92L592.65 485.01L593.65 484.99L594.65 484.16L595.65 483.21L596.65 483.24L597.65 483.44L598.65 482.84L599.65 482.26L600.65 482.21L601.65 481.99L602.65 481.99L603.65 481.87L604.65 481.37L605.65 480.56L606.65 479.91L607.65 480.51L608.65 480.96L609.65 480.63L610.65 480.46L611.65 481.15L612.65 481.76L613.65 482.01L614.65 482.07L615.65 482.4L616.65 483.37L617.65 483.96L618.65 485.16L619.65 486.66L620.65 487.51L621.65 488.38L622.65 489.37L623.65 490.44L624.65 491.09L625.65 491.71L626.65 492.79L627.65 493.08L628.65 493L629.65 493.47L630.65 494.14L631.65 494.46L632.65 494.28L633.65 494.43L634.65 494.33L635.65 495.05L636.65 496.28L637.65 496.74L638.65 497.01L639.65 497.95L640.65 498.38L641.65 497.6L642.65 496.64L643.65 496.87L644.65 498.1L645.65 499.2L646.65 499.16L647.65 498.76L648.65 499.48L649.65 500.49L650.65 500.25L651.65 500.48L652.65 501.25L653.65 501.12L654.65 500.8L655.65 501.22L656.65 501.26L657.65 501.44L658.65 501.97L659.65 502.35L660.65 502.13L661.65 502.13L662.65 502.26L663.65 502.47L664.65 502.46L665.65 502.84L666.65 503.59L667.65 503.96L668.65 503.62L669.65 503.22L670.65 503.94L671.65 505.1L672.65 505.23L673.65 505.57L674.65 506.11L675.65 506.5L676.65 507.02L677.65 507.37L678.65 507.45L679.65 507.97L680.65 507.88L681.65 508.24L682.65 508.7L683.65 508.92L684.65 509.36L685.65 510.03L686.65 510.46L687.65 510.87L688.65 511.29L689.65 512.25L690.65 513.29L691.65 513.89L692.65 514.21L693.65 514.81L694.65 515.86L695.65 516.81L696.65 517.12L697.65 517.45L698.65 518.15L699.65 518.5L700.65 519.15L701.65 519.95L702.65 520.12L703.65 520L704.65 520.31L705.65 521.16L706.65 522.18L707.65 522.51L708.65 522.78L709.65 522.8L710.65 523.18L711.65 524.02L712.65 524.65L713.65 524.63L714.65 525.06L715.65 525.32L716.65 525.02L717.65 524.69L718.65 525.26L719.65 526.05L720.65 526.49L721.65 526.88L722.65 527.12L723.65 527.72L724.65 528.42L725.65 528.47L726.65 529.06L727.65 529.62L728.65 530.03L729.65 530.77L730.65 531.32L731.65 531.77L732.65 532.32L733.65 532.93L734.65 533.24L735.65 533.67L736.65 534.22L737.65 534.94L738.65 535.54L739.65 535.59L740.65 535.06L741.65 535.18L742.65 535.47L743.65 535.36L744.65 535.34L745.65 535.77L746.65 536.29L747.65 536.75L748.65 536.82L749.65 536.72L750.65 537.12L751.65 537.81L752.65 538.11L753.65 538.34L754.65 538.62L755.65 538.56L756.65 539.11L757.65 540.03L758.65 540.06L759.65 539.57L760.65 539.98L761.65 540.58L762.65 540.58L763.65 540.76L764.65 541.15L765.65 540.88L766.65 540.68L767.65 541.12L768.65 541.43L769.65 541.08L770.65 541.35L771.65 541.55L772.65 541.2L773.65 541.56L774.65 543.35L775.65 544.8L776.65 545.48L777.65 545.56L778.65 546.02L779.65 547.02L780.65 548.25L781.65 548.84L782.65 549.99L783.65 551.08L784.65 552.12L785.65 553.16L786.65 553.9L787.65 554.92L788.65 555.79L789.65 556.6L790.65 557.76L791.65 558.24L792.65 559.52L793.65 561.54L794.65 562.17L795.65 561.94L796.65 562.54L797.65 563.72L798.65 565.11L799.65 566.26L800.65 567.46L801.65 568.25L802.65 568.79L803.65 569.21L804.65 570.12L805.65 570.84L806.65 571.69L807.65 572.85L808.65 573.39L809.65 573.57L810.65 574.48L811.65 576.03L812.65 577.61L813.65 578.78L814.65 579.83L815.65 580.71L816.65 581.16L817.65 581.95L818.65 583.26L819.65 584.79L820.65 586.57L821.65 588.01L822.65 588.83L823.65 589.92L824.65 590.84L825.65 591.48L826.65 591.48L827.65 591.25L828.65 590.95L829.65 590.6L830.65 590.17L831.65 590.01L832.65 589.69L833.65 590.02L834.65 590.38L835.65 590.03L836.65 590.23L837.65 590.86L838.65 591.12L839.65 591.35L840.65 591.17L841.65 590.34L842.65 589.94L843.65 590.45L844.65 590.99L845.65 590.81L846.65 591L847.65 591.27L848.65 591.14L849.65 591.15L850.65 592.1L851.65 592.48L852.65 592.87L853.65 593.5L854.65 593.7L855.65 594.05L856.65 593.96L857.65 593.42L858.65 593.37L859.65 594.03L860.65 594.01L861.65 593.66L862.65 593.47L863.65 593.36L864.65 592.86L865.65 592.77L866.65 592.46L867.65 592.48L868.65 593.08L869.65 593.47L870.65 593.43L871.65 593.8L872.65 594.3L873.65 594.64L874.65 594.34L875.65 594.34L876.65 595.18L877.65 596.33L878.65 597.19L879.65 597.69L880.65 597.89L881.65 597.89L882.65 597.05L883.65 596.77L884.65 597.01L885.65 596.48L886.65 595.53L887.65 594.88L888.65 594.26L889.65 593.86L890.65 593.76L891.65 593.91L892.65 593.79L893.65 593.43L894.65 593.51L895.65 593.52L896.65 593.11L897.65 592.71L898.65 592.26L899.65 592.6L900.65 593.04L901.65 592.79L902.65 592.31L903.65 592.24L904.65 592.05L905.65 591.73L906.65 591.6L907.65 591.45L908.65 591.3L909.65 591.29L910.65 592.46L911.65 594.08L912.65 594.4L913.65 594.02L914.65 594.63L915.65 595.54L916.65 596.92L917.65 598L918.65 598.96L919.65 600.13L920.65 601.65L921.65 603.21L922.65 605.53L923.65 608.07L924.65 610.86L925.65 613.01L926.65 614.63L927.65 616.73L928.65 618.57L929.65 619.8L930.65 620.78L931.65 621.57L932.65 621.84L933.65 622.18L934.65 622.9L935.65 624.72L936.65 625.91L937.65 626.96L938.65 628.17L939.65 629.84L940.65 631.81L941.65 633.89L942.65 634.9L943.65 635.7L944.65 636.49L945.65 637.51L946.65 638.27L947.65 638.61L948.65 639.04L949.65 640.47L950.65 641.41L951.65 641.48L952.65 642.01L953.65 642.55L954.65 643.05L955.65 643.42L956.65 643.88L957.65 645.02L958.65 645.78L959.65 646.39L960.65 646.72L961.65 645.59L962.65 645.1L963.65 645.15L964.65 645.29L965.65 644.96L966.65 643.97L967.65 643.98L968.65 644.77L969.65 644.87L970.65 644.5L971.65 644.38L972.65 644.76L973.65 645.11L974.65 645.34L975.65 645.6L976.65 645.78L977.65 645.87L978.65 646.43L979.65 646.5L980.65 646.27L981.65 646.27L982.65 646.18L983.65 646.02L984.65 645.69L985.65 645.93L986.65 646.26L987.65 646.67L988.65 647.05L989.65 646.79L990.65 646.61L991.65 647.14L992.65 646.88L993.65 646.42L994.65 646.78L995.65 646.86L996.65 646.39L997.65 646.58L998.65 647.2L999.65 647.94L1000.65 648.36L1001.65 648.17L1002.65 648.22L1003.65 647.93L1004.65 647.65L1005.65 648.02L1006.65 648.38L1007.65 648.51L1008.65 648.72L1009.65 648.51L1010.65 648.79L1011.65 649.22L1012.65 648.9L1013.65 647.99L1014.65 647.73L1015.65 647.81L1016.65 647.56L1017.65 647.38L1018.65 647.01L1019.65 647.18L1020.65 647.4L1021.65 647.4L1022.65 646.91L1023.65 646.31L1024.65 646.18L1025.65 645.94L1026.65 645.45L1027.65 645.22L1028.65 645.07L1029.65 644.53L1030.65 643.7L1031.65 643.84L1032.65 644.24L1033.65 644.32L1034.65 644.47L1035.65 645.11L1036.65 645.27L1037.65 644.94L1038.65 644.38L1039.65 644.33L1040.65 644.48L1041.65 645.41L1042.65 646.76L1043.65 647.8L1044.65 648.2L1045.65 648.54L1046.65 649.35L1047.65 650.21L1048.65 651.09L1049.65 653.9L1050.65 656.13L1051.65 657.8L1052.65 660.05L1053.65 662.85L1054.65 664.57L1055.65 663.97L1056.65 663.12L1057.65 662.48L1058.65 662.13L1059.65 661.72L1060.65 661.13L1061.65 660.27L1062.65 659.93L1063.65 660.19L1064.65 661.17L1065.65 662.49L1066.65 663.87L1067.65 665.24L1068.65 666.81L1069.65 668.02L1070.65 668.96L1071.65 669.95L1072.65 671.93L1073.65 673.91L1074.65 674.31L1075.65 674.8L1076.65 676.24L1077.65 677.28L1078.65 678.18L1079.65 678.61L1080.65 677.67L1081.65 676.67L1082.65 675.3L1083.65 674.02L1084.65 672.17L1085.65 670.01L1086.65 668.83L1087.65 666.95L1088.65 665.54L1089.65 664.79L1090.65 663.53L1091.65 662.02L1092.65 660.81L1093.65 660L1094.65 659.36L1095.65 658.5L1096.65 657.67L1097.65 656.8L1098.65 655.69L1099.65 654.47L1100.65 654.29L1101.65 654.53L1102.65 654.91L1103.65 655.89L1104.65 656.52L1105.65 657.08L1106.65 658.39L1107.65 659.41L1108.65 660.35L1109.65 662.06L1110.65 664.13L1111.65 666.02L1112.65 667.79L1113.65 669.92L1114.65 672.68L1115.65 674.9L1116.65 676.41L1117.65 677.79L1118.65 680.15L1119.65 681.53L1120.65 680.98L1121.65 680.28L1122.65 679.56L1123.65 678.32L1124.65 676.98L1125.65 675.94L1126.65 675.08L1127.65 675.05L1128.65 675.79L1129.65 677.29L1130.65 678.52L1131.65 678.89L1132.65 678.21L1133.65 678.04L1134.65 678L1135.65 677.99L1136.65 677.82L1137.65 675.77L1138.65 673.33L1139.65 670.56L1140.65 667.48L1141.65 665.5L1142.65 664.06L1143.65 662L1144.65 659.75L1145.65 657.63L1146.65 657.44L1147.65 657.62L1148.65 658.48L1149.65 658.96L1150.65 659.49L1151.65 659.57L1152.65 659.49L1153.65 659.8L1154.65 660.39L1155.65 660.63L1156.65 661.37L1157.65 661.95L1158.65 662.91L1159.65 663.18L1160.65 662.84L1161.65 663.32L1162.65 663.68L1163.65 664.2L1164.65 665.52L1165.65 666.36L1166.65 666.72L1167.65 667.09L1168.65 667.66L1169.65 668.34L1170.65 669.21L1171.65 669.91L1172.65 669.43L1173.65 669.24L1174.65 670.28L1175.65 671.13L1176.65 671.53L1177.65 671.5L1178.65 671.58L1179.65 671.46L1180.65 671.12L1181.65 670.79L1182.65 670.08L1183.65 669.58L1184.65 669.75L1185.65 669.35L1186.65 669.44L1187.65 669.84L1188.65 670L1189.65 670.27L1190.65 670.09L1191.65 669.53L1192.65 670.07L1193.65 669.86L1194.65 668.97L1195.65 667.94L1196.65 667.02L1197.65 666.23L1198.65 665.52L1199.65 664.62L1200.65 663.79L1201.65 663.39L1202.65 663.57L1203.65 662.84L1204.65 661.57L1205.65 662.98L1206.65 665.14L1207.65 666.78L1208.65 668.46L1209.65 670.04L1210.65 671.04L1211.65 672.19L1212.65 672.97L1213.65 674.01L1214.65 675.07L1215.65 675.89L1216.65 676.77L1217.65 678.13L1218.65 679.57L1219.65 681.14L1220.65 682.58L1221.65 683.42L1222.65 683.84L1223.65 683.79L1224.65 683.71L1225.65 684.66L1226.65 685.53L1227.65 686.07L1228.65 686.54L1229.65 687.39L1230.65 688.7L1231.65 689.84L1232.65 690.26L1233.65 691.2L1234.65 692.51L1235.65 694.21L1236.65 695.24L1237.65 695.84L1238.65 695.62L1239.65 695.28L1240.65 695.75L1241.65 697.12L1242.65 697.95L1243.65 697.97L1244.65 697.95L1245.65 697.96L1246.65 698.02L1247.65 698.84L1248.65 699.57L1249.65 699.92L1250.65 700.3L1251.65 700.74L1252.65 701.48L1253.65 701.85L1254.65 702.12L1255.65 702.24L1256.65 702.04L1257.65 701.91L1258.65 702.46L1259.65 702.99L1260.65 703.33L1261.65 703.74L1262.65 704.03L1263.65 704.55L1264.65 704.98L1265.65 704.33L1266.65 704.28L1267.65 704.19L1268.65 703.84L1269.65 704.71L1270.65 705.19L1271.65 704.98L1272.65 704.1L1273.65 704.09L1274.65 704.93L1275.65 705.34L1276.65 704.77L1277.65 703.84L1278.65 703.21L1279.65 702.75L1280.65 702.18L1281.65 702.4L1282.65 702.98L1283.65 702.93L1284.65 702.68L1285.65 702.38L1286.65 701.93L1287.65 701.24L1288.65 700.91L1289.65 700.74L1290.65 700.46L1291.65 700.08L1292.65 699.73L1293.65 699.51L1294.65 699.25L1295.65 698.57L1296.65 698.49L1297.65 697.78L1298.65 697.24L1299.65 697.79L1300.65 698.38L1301.65 698.39L1302.65 697.51L1303.65 696.25L1304.65 696.29L1305.65 695.43L1306.65 694.51L1307.65 694.78L1308.65 694.45L1309.65 693.86L1310.65 693.34L1311.65 692.84L1312.65 692.6L1313.65 691.57L1314.65 690.98L1315.65 690.74L1316.65 689.7L1317.65 689.32L1318.65 689.35L1319.65 688.64L1320.65 687.92L1321.65 687.31L1322.65 686.57L1323.65 686.1L1324.65 685.78L1325.65 685.98L1326.65 685.79L1327.65 685.18L1328.65 685.02L1329.65 684.84L1330.65 683.82L1331.65 683.35L1332.65 683.54L1333.65 683.34L1334.65 682.62L1335.65 682.54L1336.65 683L1337.65 683.44L1338.65 683.3L1339.65 683.32L1340.65 682.99L1341.65 682.48L1342.65 682.45L1343.65 682.22L1344.65 681.89L1345.65 682.11L1346.65 682.61L1347.65 682.87L1348.65 682.85L1349.65 682.52L1350.65 682.43L1351.65 682.94L1352.65 683.24L1353.65 682.79L1354.65 682.85L1355.65 683.36L1356.65 684.09L1357.65 684.09L1358.65 683.97L1359.65 684.89L1360.65 686.08L1361.65 685.87L1362.65 685.31L1363.65 685.06L1364.65 685.04L1365.65 684.73L1366.65 684.66L1367.65 684.63L1368.65 684.46L1369.65 684.2L1370.65 684.41L1371.65 684.16L1372.65 683.94L1373.65 683.94L1374.65 683.7L1375.65 684.14L1376.65 684.79L1377.65 685.18L1378.65 685.88L1379.65 686.58L1380.65 687.65L1381.65 687.81L1382.65 687.14L1383.65 686.43L1384.65 685.88L1385.65 685.74L1386.65 685.66L1387.65 684.87L1388.65 683.86L1389.65 683.26L1390.65 683.14L1391.65 683.24L1392.65 683.19L1393.65 682.51L1394.65 681.85L1395.65 681.83L1396.65 681.89L1397.65 680.9L1398.65 679.27L1399.65 677.07L1400.65 674.5L1401.65 672.63L1402.65 670.25L1403.65 669.8L1404.65 670.89L1405.65 672.26L1406.65 673.92L1407.65 675.87L1408.65 677.26L1409.65 679.13L1410.65 681.02L1411.65 682.93L1412.65 684.67L1413.65 686.46L1414.65 688.18L1415.65 689.93L1416.65 689.05L1417.65 687.9L1418.65 687.18L1419.65 686.98L1420.65 685.55L1421.65 684.42L1422.65 683.62L1423.65 682L1424.65 679.95L1425.65 678.81L1426.65 677.61L1427.65 676.32L1428.65 675.06L1429.65 674.34L1430.65 672.99L1431.65 671.79L1432.65 671L1433.65 670.5L1434.65 669.4L1435.65 667.75L1436.65 667.68L1437.65 668.53L1438.65 668.59L1439.65 668.36L1440.65 668.25L1441.65 668.51L1442.65 668.9L1443.65 669.61L1444.65 670.24L1445.65 671.14L1446.65 670.96L1447.65 670.06L1448.65 669.04L1449.65 668.75L1450.65 667.77L1451.65 667.12L1452.65 666.39L1453.65 665.63L1454.65 664.42L1455.65 664.42L1456.65 664.9L1457.65 665.66L1458.65 665.81L1459.65 666.11L1460.65 666.01L1461.65 666.06L1462.65 666.23L1463.65 665.93L1464.65 665.03L1465.65 664.6L1466.65 664.03L1467.65 662.93L1468.65 661.94L1469.65 661.49L1470.65 660.9L1471.65 660.19L1472.65 659.68L1473.65 658.52L1474.65 657L1475.65 656.28L1476.65 654.82L1477.65 653.16L1478.65 652.09L1479.65 651.52L1480.65 650.6L1481.65 648.67L1482.65 647.59L1483.65 647.71L1484.65 648.41L1485.65 648.5L1486.65 647.85L1487.65 647.39L1488.65 647.1L1489.65 647.01L1490.65 647.08L1491.65 646.84L1492.65 646.18L1493.65 645.94L1494.65 645.64L1495.65 645.23L1496.65 645.19L1497.65 644.77L1498.65 644.18L1499.65 644.01L1500.65 643.87L1501.65 643.66L1502.65 642.98L1503.65 643.01L1504.65 643.56L1505.65 643.44L1506.65 643.32L1507.65 643.03L1508.65 642.64L1509.65 642.12L1510.65 641.53L1511.65 642.91L1512.65 645.42L1513.65 648.32L1514.65 650.57L1515.65 652.36L1516.65 655.24L1517.65 656.74L1518.65 654.42L1519.65 652L1520.65 649.95L1521.65 650.93L1522.65 652.16L1523.65 652.94L1524.65 651.36L1525.65 647.17L1526.65 642.22L1527.65 634.18L1528.65 612.06L1529.65 580.16L1530.65 541.67L1531.65 505.97L1532.65 492.83L1533.65 487.36L1534.65 483.95L1535.65 483.07L1536.65 481.56L1537.65 480.23L1538.65 479.3L1539.65 478.66L1540.65 477.49L1541.65 476.14L1542.65 475.07L1543.65 474.21L1544.65 473.57L1545.65 472.89L1546.65 471.64L1547.65 470.13L1548.65 468.82L1549.65 467.69L1550.65 466.92L1551.65 466.38L1552.65 465.13L1553.65 463.52L1554.65 462.48L1555.65 461.71L1556.65 460.72L1557.65 459.66L1558.65 458.55L1559.65 457.88L1560.65 456.94L1561.65 455.92L1562.65 455.02L1563.65 454.35L1564.65 453.69L1565.65 452.76L1566.65 451.81L1567.65 451.14L1568.65 450.38L1569.65 449.53L1570.65 449.4L1571.65 449.2L1572.65 447.49L1573.65 445.79L1574.65 445.11L1575.65 444.57L1576.65 444.51L1577.65 444.49L1578.65 443.75L1579.65 442.02L1580.65 440.56L1581.65 440.12L1582.65 439.64L1583.65 438.68L1584.65 438.13L1585.65 437.8L1586.65 437.27L1587.65 436.98L1588.65 436.25L1589.65 435.29L1590.65 434.73L1591.65 434.1L1592.65 433.4L1593.65 432.9L1594.65 432.03L1595.65 431.43L1596.65 431.26L1597.65 430.9L1598.65 430.29L1599.65 429.65L1600.65 429.16L1601.65 428.5L1602.65 428.34L1603.65 427.84L1604.65 427.54L1605.65 427.15L1606.65 426.92L1607.65 426.24L1608.65 425.62L1609.65 424.31L1610.65 423.89L1611.65 424.11L1612.65 423.9L1613.65 423.15L1614.65 423.56L1615.65 423.75L1616.65 423.28L1617.65 422.69L1618.65 422.66L1619.65 422.79L1620.65 422.02L1621.65 421.83L1622.65 422.66L1623.65 422.45L1624.65 422.4L1625.65 422.49L1626.65 422.03L1627.65 421.73L1628.65 421.84L1629.65 421.82L1630.65 421.48L1631.65 421.45L1632.65 421.46L1633.65 421.02L1634.65 420.82L1635.65 420.95L1636.65 420.71L1637.65 419.87L1638.65 419.35L1639.65 419.39L1640.65 419.96L1641.65 419.62L1642.65 418.65L1643.65 418.82L1644.65 419.88L1645.65 420.47L1646.65 420.53L1647.65 420.08L1648.65 419.45L1649.65 418.86L1650.65 418.6L1651.65 418.19L1652.65 418.36L1653.65 419.16L1654.65 419.64L1655.65 419.23L1656.65 418.66L1657.65 418.05L1658.65 417.81L1659.65 417.93L1660.65 417.78L1661.65 417.57L1662.65 417.39L1663.65 417.09L1664.65 416.94L1665.65 417.43L1666.65 417.98L1667.65 418.06L1668.65 418.23L1669.65 417.71L1670.65 417.27L1671.65 416.91L1672.65 416.87L1673.65 417.4L1674.65 417.02L1675.65 416.21L1676.65 416.11L1677.65 416.3L1678.65 416.61L1679.65 416L1680.65 415.72L1681.65 415.61L1682.65 416L1683.65 416.77L1684.65 416.52L1685.65 415.72L1686.65 415.62L1687.65 415.49L1688.65 415.73L1689.65 416.33L1690.65 415.98L1691.65 415.63L1692.65 416.67L1693.65 417.87L1694.65 417.98L1695.65 417.68L1696.65 417.24L1697.65 416.49L1698.65 416.64L1699.65 417.79L1700.65 418.56L1701.65 418.91L1702.65 418.98L1703.65 418.85L1704.65 419.32L1705.65 419.57L1706.65 419.65L1707.65 419.36L1708.65 419.32L1709.65 419.59L1710.65 420.1L1711.65 420.15L1712.65 419.66L1713.65 419.41L1714.65 419.93L1715.65 420.29L1716.65 419.52L1717.65 417.89L1718.65 417.98L1719.65 418.91L1720.65 418.54L1721.65 418.49L1722.65 418.8L1723.65 418.61L1724.65 418.42L1725.65 418.98L1726.65 419.6L1727.65 419.56L1728.65 419.96" fill="none" stroke="#000" stroke-width="2.5" stroke-linejoin="round" clip-path="url(#cp1)"/>
<path d="M228.65 614.06L229.65 613.52L230.65 613.48L231.65 613.69L232.65 613.06L233.65 612.71L234.65 612.83L235.65 612.18L236.65 611.87L237.65 612.07L238.65 612.7L239.65 613.04L240.65 612.17L241.65 611.53L242.65 611.59L243.65 611.5L244.65 611.46L245.65 611.41L246.65 610.83L247.65 610.58L248.65 610.69L249.65 611.03L250.65 611.17L251.65 611.18L252.65 611.26L253.65 611.64L254.65 611.62L255.65 611.63L256.65 611.83L257.65 612.27L258.65 613.24L259.65 613.68L260.65 612.96L261.65 613.36L262.65 614.29L263.65 614.93L264.65 614.64L265.65 614.52L266.65 614.98L267.65 615.09L268.65 615.04L269.65 615.19L270.65 615.15L271.65 616.14L272.65 616.39L273.65 615.95L274.65 615.96L275.65 615.84L276.65 615.7L277.65 616.02L278.65 615.85L279.65 615.35L280.65 614.86L281.65 614.77L282.65 614.97L283.65 614.62L284.65 613.95L285.65 613.81L286.65 613.2L287.65 612.59L288.65 612.58L289.65 612.76L290.65 612.83L291.65 612.59L292.65 612.34L293.65 612.93L294.65 613L295.65 613.47L296.65 614.25L297.65 614.65L298.65 614.83L299.65 615.17L300.65 615.33L301.65 615.59L302.65 615.92L303.65 616.52L304.65 615.9L305.65 616.51L306.65 617.13L307.65 616.54L308.65 616.69L309.65 617.17L310.65 617.59L311.65 617.63L312.65 616.89L313.65 616.75L314.65 617.73L315.65 617.92L316.65 617.67L317.65 617.77L318.65 618.02L319.65 617.77L320.65 617.73L321.65 617.42L322.65 616.98L323.65 617.08L324.65 616.84L325.65 616.64L326.65 616.37L327.65 615.85L328.65 616.16L329.65 616.11L330.65 615.49L331.65 615.42L332.65 615.84L333.65 617.12L334.65 617.57L335.65 616.9L336.65 616.67L337.65 617.09L338.65 617.83L339.65 617.88L340.65 617.83L341.65 617.97L342.65 618.2L343.65 617.98L344.65 617.88L345.65 618.5L346.65 618.86L347.65 617.97L348.65 617.54L349.65 618.07L350.65 618.35L351.65 618.5L352.65 619.16L353.65 619.47L354.65 618.94L355.65 618.43L356.65 618.1L357.65 617.46L358.65 617.19L359.65 617.01L360.65 616.63L361.65 616.42L362.65 616.27L363.65 616.11L364.65 616.07L365.65 616.38L366.65 616.62L367.65 616.12L368.65 615.77L369.65 616.05L370.65 615.89L371.65 616.43L372.65 617.68L373.65 617.78L374.65 617.48L375.65 616.66L376.65 616.28L377.65 616.04L378.65 615.15L379.65 614.51L380.65 613.75L381.65 613.1L382.65 613.41L383.65 613.33L384.65 612.86L385.65 612.48L386.65 612.26L387.65 611.68L388.65 611.13L389.65 611.22L390.65 610.71L391.65 610.06L392.65 610.32L393.65 610.58L394.65 610.27L395.65 610.83L396.65 611.28L397.65 610.46L398.65 609.36L399.65 608.25L400.65 608.1L401.65 607.92L402.65 606.85L403.65 606.08L404.65 605.28L405.65 604.67L406.65 604.33L407.65 604.28L408.65 603.95L409.65 602.78L410.65 601.87L411.65 601.3L412.65 601.03L413.65 601.25L414.65 600.89L415.65 601.16L416.65 601.65L417.65 602.02L418.65 602.37L419.65 602.22L420.65 602.13L421.65 602.21L422.65 602.74L423.65 603.68L424.65 604L425.65 604.43L426.65 604.66L427.65 604.48L428.65 603.97L429.65 603.67L430.65 603.72L431.65 604.15L432.65 603.55L433.65 602.87L434.65 602.89L435.65 602.64L436.65 601.95L437.65 601.53L438.65 601.26L439.65 601.42L440.65 600.96L441.65 600.19L442.65 600.13L443.65 600.05L444.65 599.84L445.65 599.49L446.65 599.09L447.65 598.58L448.65 598.67L449.65 598.78L450.65 597.81L451.65 596.91L452.65 596.32L453.65 596.5L454.65 597.18L455.65 597.59L456.65 597.73L457.65 597.68L458.65 597.85L459.65 598.06L460.65 597.59L461.65 597.19L462.65 597.19L463.65 597.11L464.65 597.06L465.65 597.44L466.65 597.2L467.65 596.93L468.65 596.57L469.65 596.54L470.65 597.1L471.65 597.11L472.65 596.99L473.65 597.03L474.65 596.78L475.65 597.54L476.65 598.33L477.65 598.96L478.65 599.66L479.65 600.61L480.65 601.24L481.65 601.45L482.65 601.8L483.65 602.97L484.65 603.22L485.65 602.85L486.65 602.86L487.65 602.92L488.65 602.29L489.65 601.85L490.65 601.17L491.65 600.56L492.65 600.34L493.65 600.3L494.65 600.28L495.65 600.14L496.65 599.61L497.65 599.17L498.65 598.75L499.65 598.77L500.65 598.81L501.65 598.78L502.65 598.64L503.65 598.56L504.65 598.72L505.65 598.88L506.65 598.17L507.65 597.58L508.65 597.36L509.65 596.24L510.65 595.57L511.65 596.1L512.65 596.21L513.65 595.85L514.65 595.33L515.65 594.68L516.65 594.7L517.65 594.98L518.65 594.64L519.65 593.87L520.65 593.34L521.65 592.45L522.65 591.91L523.65 591.8L524.65 591.01L525.65 590.81L526.65 590.92L527.65 590.71L528.65 591L529.65 590.88L530.65 590.59L531.65 590.78L532.65 591.05L533.65 591.06L534.65 591.06L535.65 591.4L536.65 591.64L537.65 591.46L538.65 591.44L539.65 590.68L540.65 590.67L541.65 591.38L542.65 591.5L543.65 591.46L544.65 591.91L545.65 592.18L546.65 592.41L547.65 592.45L548.65 593.47L549.65 594.58L550.65 593.9L551.65 593.26L552.65 593.93L553.65 594.63L554.65 594.86L555.65 594.62L556.65 594.49L557.65 594.88L558.65 594.57L559.65 594.14L560.65 594.48L561.65 594.93L562.65 595.09L563.65 595.2L564.65 595.31L565.65 595.36L566.65 595.12L567.65 594.95L568.65 594.44L569.65 594.49L570.65 594.67L571.65 594.49L572.65 594.35L573.65 593.74L574.65 593.71L575.65 593.67L576.65 592.96L577.65 592.37L578.65 591.87L579.65 591.77L580.65 592.22L581.65 592.09L582.65 591.84L583.65 590.77L584.65 590.47L585.65 590.72L586.65 591.36L587.65 592.41L588.65 592.33L589.65 591.29L590.65 591.28L591.65 591.61L592.65 591.99L593.65 592.44L594.65 592.89L595.65 593.13L596.65 592.49L597.65 592.34L598.65 592.69L599.65 592.89L600.65 592.9L601.65 592.98L602.65 593.11L603.65 593.06L604.65 592.48L605.65 592.62L606.65 593.19L607.65 593.83L608.65 593.24L609.65 592.86L610.65 592.95L611.65 592.61L612.65 592.28L613.65 592.96L614.65 593.07L615.65 592.33L616.65 591.97L617.65 592.78L618.65 593.25L619.65 593.12L620.65 593.16L621.65 593.62L622.65 593.37L623.65 592.61L624.65 592.24L625.65 592.01L626.65 591.87L627.65 591.61L628.65 591.34L629.65 591.34L630.65 590.87L631.65 590.43L632.65 590.06L633.65 589.19L634.65 588.94L635.65 589.32L636.65 589.63L637.65 589.75L638.65 590.02L639.65 589.98L640.65 589.73L641.65 589.84L642.65 590.05L643.65 590.17L644.65 590.25L645.65 589.84L646.65 589.59L647.65 589.94L648.65 590.1L649.65 589.23L650.65 588.86L651.65 589.18L652.65 588.99L653.65 588.46L654.65 588.38L655.65 588.7L656.65 588.81L657.65 589.14L658.65 589.64L659.65 589.3L660.65 589.38L661.65 589.61L662.65 589.09L663.65 588.69L664.65 588.48L665.65 588.86L666.65 589.28L667.65 589.08L668.65 589.03L669.65 589.04L670.65 589.18L671.65 589.78L672.65 589.68L673.65 589.38L674.65 589.83L675.65 590.6L676.65 591.06L677.65 591.95L678.65 592.34L679.65 592.02L680.65 591.53L681.65 591.56L682.65 591.2L683.65 590.84L684.65 589.94L685.65 589.74L686.65 589.68L687.65 589.54L688.65 589.25L689.65 589.49L690.65 589.55L691.65 589.73L692.65 589.65L693.65 589.42L694.65 588.77L695.65 588.67L696.65 589.26L697.65 589.24L698.65 588.74L699.65 588.59L700.65 588.38L701.65 588.46L702.65 588.45L703.65 588.2L704.65 587.4L705.65 587.23L706.65 587.87L707.65 588.35L708.65 588.1L709.65 587.47L710.65 587.7L711.65 588.23L712.65 587.84L713.65 587.69L714.65 587.41L715.65 587.18L716.65 587.28L717.65 587.5L718.65 586.95L719.65 586.55L720.65 587.08L721.65 587.57L722.65 587.63L723.65 587.49L724.65 587.3L725.65 587.16L726.65 587.3L727.65 587.43L728.65 586.73L729.65 586.19L730.65 586.53L731.65 586.2L732.65 585.45L733.65 585.16L734.65 585.57L735.65 586.06L736.65 585.3L737.65 584.66L738.65 585.06L739.65 585.4L740.65 585.66L741.65 585.49L742.65 584.73L743.65 584.8L744.65 584.88L745.65 584.78L746.65 584.56L747.65 584.32L748.65 584.73L749.65 584.84L750.65 584.91L751.65 585.86L752.65 586.17L753.65 585.91L754.65 585.83L755.65 585.5L756.65 585.63L757.65 585.83L758.65 585.78L759.65 585.52L760.65 585.47L761.65 585.65L762.65 586.1L763.65 587L764.65 587.33L765.65 586.85L766.65 586.48L767.65 586.05L768.65 586.4L769.65 587.58L770.65 587.62L771.65 587.61L772.65 587.79L773.65 588.01L774.65 588.06L775.65 587.75L776.65 586.75L777.65 585.99L778.65 586.04L779.65 585.91L780.65 585.42L781.65 585.04L782.65 584.96L783.65 584.87L784.65 584.04L785.65 583.31L786.65 582.78L787.65 582.31L788.65 582.33L789.65 582.13L790.65 581.32L791.65 581.07L792.65 581.14L793.65 581.46L794.65 580.54L795.65 579.63L796.65 579.37L797.65 579.66L798.65 579.27L799.65 578.94L800.65 578.5L801.65 578.57L802.65 578.27L803.65 578.21L804.65 577.7L805.65 577.22L806.65 576.77L807.65 576.95L808.65 576.79L809.65 576.26L810.65 575.8L811.65 576.26L812.65 576.38L813.65 575.85L814.65 575.27L815.65 575.18L816.65 574.93L817.65 574.88L818.65 574.99L819.65 575.25L820.65 575.41L821.65 575.55L822.65 575.25L823.65 574.65L824.65 574.46L825.65 574.24L826.65 573.85L827.65 573.85L828.65 574.05L829.65 574.19L830.65 573.68L831.65 573.24L832.65 573L833.65 572.86L834.65 573.71L835.65 574.47L836.65 574.62L837.65 574.63L838.65 574.51L839.65 574.92L840.65 575.43L841.65 575.78L842.65 575.84L843.65 575.66L844.65 575.99L845.65 576.45L846.65 576.37L847.65 575.5L848.65 574.79L849.65 575.29L850.65 576.11L851.65 576.3L852.65 576.28L853.65 576.41L854.65 576.45L855.65 576.84L856.65 577.08L857.65 577.46L858.65 577.86L859.65 578.5L860.65 578.34L861.65 577.56L862.65 577.59L863.65 578.14L864.65 578.27L865.65 578.66L866.65 579.4L867.65 579.85L868.65 579.34L869.65 579.18L870.65 579.8L871.65 579.91L872.65 580.12L873.65 581.03L874.65 581.63L875.65 580.99L876.65 580.59L877.65 581.65L878.65 581.47L879.65 580.75L880.65 580.88L881.65 581.56L882.65 582.01L883.65 581.85L884.65 581.64L885.65 581.65L886.65 581.51L887.65 581.85L888.65 582.28L889.65 581.84L890.65 581.32L891.65 581.2L892.65 581.23L893.65 580.94L894.65 580.71L895.65 580.14L896.65 579.93L897.65 580.16L898.65 580.54L899.65 580.47L900.65 579.93L901.65 579.46L902.65 579.06L903.65 578.82L904.65 578.5L905.65 578.44L906.65 578.55L907.65 578.92L908.65 578.78L909.65 578.31L910.65 578L911.65 578.02L912.65 577.87L913.65 577.37L914.65 576.48L915.65 575.8L916.65 575.67L917.65 575.79L918.65 574.98L919.65 574.18L920.65 574.3L921.65 574.69L922.65 575.32L923.65 575.48L924.65 575.51L925.65 575.49L926.65 575.59L927.65 576.1L928.65 576.31L929.65 575.76L930.65 575.62L931.65 575.01L932.65 574.48L933.65 574.89L934.65 575.47L935.65 575.32L936.65 574.92L937.65 574.39L938.65 574.11L939.65 573.8L940.65 573.18L941.65 573.22L942.65 573.99L943.65 575.34L944.65 576.15L945.65 576.14L946.65 576.16L947.65 576.5L948.65 576.83L949.65 576.67L950.65 576.7L951.65 577.11L952.65 577.65L953.65 578.01L954.65 578.16L955.65 578.2L956.65 578.58L957.65 579.29L958.65 579.56L959.65 579.67L960.65 580.16L961.65 580.51L962.65 581.18L963.65 581.13L964.65 580.95L965.65 582.04L966.65 582.52L967.65 583.19L968.65 583.45L969.65 583.21L970.65 582.78L971.65 582.61L972.65 583.03L973.65 583.13L974.65 582.32L975.65 581.99L976.65 581.64L977.65 582.09L978.65 582.48L979.65 582.96L980.65 582.75L981.65 582.12L982.65 582.38L983.65 583.02L984.65 583.98L985.65 585.11L986.65 584.91L987.65 583.88L988.65 583.43L989.65 583.89L990.65 584.1L991.65 583.87L992.65 584.41L993.65 584.64L994.65 584L995.65 583.88L996.65 584.66L997.65 584.98L998.65 584.67L999.65 584.38L1000.65 584.78L1001.65 585.32L1002.65 585.14L1003.65 585.02L1004.65 584.72L1005.65 584.11L1006.65 583.86L1007.65 583.16L1008.65 582.54L1009.65 582.35L1010.65 582.15L1011.65 581.95L1012.65 581.55L1013.65 581.45L1014.65 581.85L1015.65 581.3L1016.65 580.99L1017.65 581.31L1018.65 582.1L1019.65 582.25L1020.65 581.73L1021.65 581.72L1022.65 581.72L1023.65 582.4L1024.65 583.38L1025.65 582.93L1026.65 582L1027.65 581.65L1028.65 581.82L1029.65 581.53L1030.65 581.68L1031.65 582.77L1032.65 583.36L1033.65 583.27L1034.65 583.23L1035.65 583.27L1036.65 583.57L1037.65 583.56L1038.65 583.83L1039.65 584.19L1040.65 584.4L1041.65 584.45L1042.65 583.82L1043.65 582.88L1044.65 582.38L1045.65 582.33L1046.65 582.07L1047.65 581.67L1048.65 582.08L1049.65 582.32L1050.65 581.56L1051.65 581.37L1052.65 581.67L1053.65 581.33L1054.65 581.65L1055.65 582.54L1056.65 583.18L1057.65 583.17L1058.65 582.97L1059.65 583.37L1060.65 585.03L1061.65 586.57L1062.65 587.27L1063.65 588.17L1064.65 589.64L1065.65 590.98L1066.65 592.12L1067.65 593.57L1068.65 594.99L1069.65 595.95L1070.65 596.57L1071.65 597.59L1072.65 598.75L1073.65 599.88L1074.65 600.29L1075.65 601.11L1076.65 600.93L1077.65 601.15L1078.65 601.66L1079.65 602.2L1080.65 601.9L1081.65 601.74L1082.65 601.2L1083.65 599.96L1084.65 598.37L1085.65 598L1086.65 597.9L1087.65 598.52L1088.65 598.52L1089.65 597.39L1090.65 596.61L1091.65 596.7L1092.65 596.23L1093.65 595.69L1094.65 595.28L1095.65 594.38L1096.65 594.19L1097.65 594.09L1098.65 593.43L1099.65 592.47L1100.65 593.02L1101.65 594.34L1102.65 595.27L1103.65 595.29L1104.65 594.93L1105.65 594.87L1106.65 595.8L1107.65 596.28L1108.65 596.58L1109.65 596.24L1110.65 595.81L1111.65 595.84L1112.65 596.13L1113.65 596.15L1114.65 595.61L1115.65 595.31L1116.65 595.06L1117.65 594.58L1118.65 594.47L1119.65 594.29L1120.65 594.43L1121.65 595.19L1122.65 595.69L1123.65 596.03L1124.65 596.33L1125.65 596.86L1126.65 597.56L1127.65 598.47L1128.65 599.33L1129.65 600.04L1130.65 600.96L1131.65 601.65L1132.65 602.26L1133.65 603.53L1134.65 604.91L1135.65 605.6L1136.65 606.48L1137.65 607.77L1138.65 609.07L1139.65 610.34L1140.65 610.99L1141.65 611.58L1142.65 611.56L1143.65 609.95L1144.65 608.25L1145.65 606.34L1146.65 605.32L1147.65 603.92L1148.65 601.58L1149.65 599.72L1150.65 599.09L1151.65 599.22L1152.65 598.66L1153.65 597.98L1154.65 597.22L1155.65 596.28L1156.65 595.77L1157.65 595.39L1158.65 595.58L1159.65 595.96L1160.65 596.09L1161.65 596.08L1162.65 596.18L1163.65 596.95L1164.65 597.41L1165.65 597.39L1166.65 597.35L1167.65 598.25L1168.65 599.95L1169.65 600.8L1170.65 601.41L1171.65 602.8L1172.65 604.31L1173.65 604.68L1174.65 604.46L1175.65 604.92L1176.65 605.5L1177.65 605.26L1178.65 605.46L1179.65 605.82L1180.65 606.39L1181.65 607.32L1182.65 607.63L1183.65 606.69L1184.65 606.45L1185.65 606.2L1186.65 605.67L1187.65 605.24L1188.65 604.88L1189.65 604.37L1190.65 603.56L1191.65 602.71L1192.65 601.94L1193.65 601.58L1194.65 601.62L1195.65 602.08L1196.65 602.71L1197.65 603.47L1198.65 604.01L1199.65 603.84L1200.65 604.08L1201.65 605.37L1202.65 606.36L1203.65 605.93L1204.65 605.41L1205.65 605.07L1206.65 604.18L1207.65 603.56L1208.65 603.39L1209.65 603.57L1210.65 603.83L1211.65 603.3L1212.65 602.17L1213.65 601.36L1214.65 600.82L1215.65 600.61L1216.65 599.85L1217.65 599.07L1218.65 597.97L1219.65 596.75L1220.65 596.48L1221.65 597.3L1222.65 596.94L1223.65 596.67L1224.65 596.49L1225.65 596.23L1226.65 596.24L1227.65 596.68L1228.65 596.65L1229.65 596.52L1230.65 596.09L1231.65 596.13L1232.65 595.96L1233.65 595.96L1234.65 595.95L1235.65 595.67L1236.65 595.38L1237.65 594.82L1238.65 594.42L1239.65 594.73L1240.65 594.93L1241.65 594.73L1242.65 594.09L1243.65 593.43L1244.65 593.16L1245.65 592.88L1246.65 592.74L1247.65 592.85L1248.65 592.15L1249.65 590.9L1250.65 590.43L1251.65 590.58L1252.65 590.56L1253.65 590.29L1254.65 589.56L1255.65 589.04L1256.65 588.42L1257.65 587.84L1258.65 587.38L1259.65 586.89L1260.65 586.66L1261.65 585.8L1262.65 585.04L1263.65 584.53L1264.65 583.69L1265.65 583.45L1266.65 583.61L1267.65 583.85L1268.65 583.62L1269.65 582.13L1270.65 581.72L1271.65 582.43L1272.65 582.82L1273.65 582.9L1274.65 583.42L1275.65 584.19L1276.65 584.12L1277.65 583.92L1278.65 583.93L1279.65 583.84L1280.65 584.15L1281.65 585.06L1282.65 585.38L1283.65 584.94L1284.65 584.95L1285.65 585.77L1286.65 586.18L1287.65 586.16L1288.65 586.6L1289.65 587.13L1290.65 586.9L1291.65 586.59L1292.65 586.05L1293.65 585.6L1294.65 585.8L1295.65 585.67L1296.65 585.08L1297.65 584.9L1298.65 584.72L1299.65 584.32L1300.65 583.7L1301.65 582.7L1302.65 582.17L1303.65 582.24L1304.65 581.98L1305.65 581.25L1306.65 580.32L1307.65 579.59L1308.65 579.04L1309.65 578.81L1310.65 578.72L1311.65 578.16L1312.65 577.84L1313.65 577.72L1314.65 577.27L1315.65 576.45L1316.65 576.12L1317.65 576.18L1318.65 576.42L1319.65 576.87L1320.65 576.95L1321.65 576.5L1322.65 576.3L1323.65 575.67L1324.65 575.18L1325.65 575.11L1326.65 574.78L1327.65 574.06L1328.65 573.5L1329.65 573.78L1330.65 573.75L1331.65 572.68L1332.65 571.89L1333.65 571.39L1334.65 571L1335.65 570.63L1336.65 570.78L1337.65 570.96L1338.65 569.99L1339.65 569.55L1340.65 569.34L1341.65 568.86L1342.65 568.73L1343.65 568.34L1344.65 567.44L1345.65 567.1L1346.65 567.45L1347.65 568.04L1348.65 567.33L1349.65 566.36L1350.65 566.29L1351.65 566.49L1352.65 566.41L1353.65 566.8L1354.65 566.77L1355.65 567.12L1356.65 568.62L1357.65 569.74L1358.65 569.98L1359.65 570.1L1360.65 570.54L1361.65 570.82L1362.65 570.32L1363.65 569.49L1364.65 569.15L1365.65 569.15L1366.65 569.01L1367.65 568.92L1368.65 568.97L1369.65 568.8L1370.65 569.24L1371.65 569.81L1372.65 570.41L1373.65 571.17L1374.65 571.81L1375.65 572.29L1376.65 572.83L1377.65 572.94L1378.65 573.17L1379.65 573.71L1380.65 573.64L1381.65 572.99L1382.65 572.62L1383.65 573.39L1384.65 573.93L1385.65 574.08L1386.65 574.87L1387.65 575.35L1388.65 575.68L1389.65 576.36L1390.65 577.72L1391.65 578.89L1392.65 579.14L1393.65 577.75L1394.65 576.2L1395.65 574.98L1396.65 573.96L1397.65 572.91L1398.65 572.25L1399.65 571.35L1400.65 570.5L1401.65 570.07L1402.65 569.97L1403.65 569.54L1404.65 569.13L1405.65 569.04L1406.65 568.62L1407.65 567.64L1408.65 566.58L1409.65 566.21L1410.65 565.71L1411.65 565.44L1412.65 565.46L1413.65 566.11L1414.65 566.36L1415.65 566.44L1416.65 566.69L1417.65 567.05L1418.65 567.32L1419.65 567.68L1420.65 567.54L1421.65 566.78L1422.65 567.1L1423.65 567.29L1424.65 566.96L1425.65 567.37L1426.65 569.48L1427.65 571.13L1428.65 572.65L1429.65 574.95L1430.65 576.65L1431.65 576.78L1432.65 577.32L1433.65 578.44L1434.65 579.26L1435.65 580.03L1436.65 580.45L1437.65 580.19L1438.65 579.24L1439.65 578.3L1440.65 577.52L1441.65 577.18L1442.65 576.13L1443.65 575.39L1444.65 575.53L1445.65 575.39L1446.65 574.61L1447.65 574.55L1448.65 574.13L1449.65 574.09L1450.65 574.45L1451.65 574.65L1452.65 574.31L1453.65 573.01L1454.65 572.83L1455.65 572.52L1456.65 570.86L1457.65 569.12L1458.65 568.3L1459.65 567.66L1460.65 566.56L1461.65 565.08L1462.65 563.93L1463.65 562.47L1464.65 562.71L1465.65 562.52L1466.65 561.26L1467.65 560.11L1468.65 559.27L1469.65 558.94L1470.65 558.74L1471.65 558.09L1472.65 557.23L1473.65 555.83L1474.65 555.16L1475.65 555.32L1476.65 554.67L1477.65 554.01L1478.65 553.65L1479.65 553.25L1480.65 552.69L1481.65 552.15L1482.65 551.38L1483.65 551.58L1484.65 551.9L1485.65 551.73L1486.65 551L1487.65 550.59L1488.65 549.84L1489.65 549.4L1490.65 549.53L1491.65 549.66L1492.65 549.29L1493.65 548.55L1494.65 547.94L1495.65 548.68L1496.65 549.35L1497.65 549.42L1498.65 550L1499.65 550.65L1500.65 550.9L1501.65 551.01L1502.65 551.88L1503.65 552.62L1504.65 553.69L1505.65 554.63L1506.65 555.46L1507.65 555.98L1508.65 557.34L1509.65 558.7L1510.65 559.34L1511.65 561.04L1512.65 563.39L1513.65 564.95L1514.65 566.28L1515.65 567.79L1516.65 570.23L1517.65 572.73L1518.65 574.53L1519.65 576.37L1520.65 577.86L1521.65 579.15L1522.65 581.33L1523.65 583.45L1524.65 584.89L1525.65 587.23L1526.65 588.06L1527.65 583.87L1528.65 579.81L1529.65 576.43L1530.65 579.07L1531.65 582.31L1532.65 585.56L1533.65 588.95L1534.65 590.88L1535.65 590.73L1536.65 589.49L1537.65 588.56L1538.65 588.24L1539.65 588.51L1540.65 588.04L1541.65 586.51L1542.65 585.53L1543.65 585.24L1544.65 584.57L1545.65 583.34L1546.65 583.54L1547.65 584.73L1548.65 585.86L1549.65 586.44L1550.65 586.96L1551.65 587.72L1552.65 588.6L1553.65 588.9L1554.65 589.61L1555.65 590.27L1556.65 590.09L1557.65 590.11L1558.65 590.89L1559.65 591.74L1560.65 592.03L1561.65 592.96L1562.65 593.93L1563.65 594.45L1564.65 595.61L1565.65 597.16L1566.65 597.75L1567.65 597.99L1568.65 597.99L1569.65 598.4L1570.65 598.03L1571.65 597.63L1572.65 598.17L1573.65 598.52L1574.65 598.15L1575.65 598.11L1576.65 597.74L1577.65 597.86L1578.65 597.71L1579.65 598.38L1580.65 599.14L1581.65 599.25L1582.65 598.86L1583.65 598.5L1584.65 598.13L1585.65 597.76L1586.65 597.16L1587.65 597.31L1588.65 597.94L1589.65 598.69L1590.65 599.29L1591.65 599.32L1592.65 599.14L1593.65 599.87L1594.65 600.95L1595.65 601.53L1596.65 601.53L1597.65 601.69L1598.65 602.09L1599.65 602.3L1600.65 602.27L1601.65 602.31L1602.65 602.06L1603.65 602.09L1604.65 602.9L1605.65 603.22L1606.65 602.66L1607.65 602.7L1608.65 602.82L1609.65 601.66L1610.65 601.28L1611.65 601.98L1612.65 601.55L1613.65 600.56L1614.65 599.83L1615.65 599.69L1616.65 600.02L1617.65 600.09L1618.65 600.52L1619.65 600.88L1620.65 600.81L1621.65 601.33L1622.65 601.93L1623.65 601.9L1624.65 601.65L1625.65 602.02L1626.65 603.07L1627.65 603.52L1628.65 603.14L1629.65 602.95L1630.65 602.56L1631.65 601.74L1632.65 602.43L1633.65 603.12L1634.65 603.31L1635.65 603.71L1636.65 603.78L1637.65 604.09L1638.65 604.69L1639.65 604.43L1640.65 603.96L1641.65 603.38L1642.65 602.88L1643.65 602.96L1644.65 603.41L1645.65 603.54L1646.65 603.37L1647.65 603.71L1648.65 603.2L1649.65 602.5L1650.65 602.91L1651.65 603.67L1652.65 604.28L1653.65 604.4L1654.65 604.01L1655.65 604.23L1656.65 604.51L1657.65 604.83L1658.65 604.77L1659.65 604.38L1660.65 604.99L1661.65 605.89L1662.65 605.93L1663.65 605.57L1664.65 605.53L1665.65 606.22L1666.65 606.79L1667.65 606.17L1668.65 605.97L1669.65 606.3L1670.65 606.57L1671.65 607.34L1672.65 608.3L1673.65 608.08L1674.65 607.55L1675.65 607.71L1676.65 608.27L1677.65 608.26L1678.65 608.32L1679.65 608.34L1680.65 608.31L1681.65 608.84L1682.65 608.89L1683.65 608.45L1684.65 608.39L1685.65 608.62L1686.65 609.1L1687.65 608.82L1688.65 607.81L1689.65 607.79L1690.65 607.76L1691.65 607.69L1692.65 607.95L1693.65 608.37L1694.65 608.81L1695.65 608.87L1696.65 608.57L1697.65 607.98L1698.65 607.26L1699.65 607.62L1700.65 608.31L1701.65 608.43L1702.65 608.38L1703.65 608.48L1704.65 608.53L1705.65 608.73L1706.65 608.77L1707.65 608.6L1708.65 608.9L1709.65 609.18L1710.65 608.78L1711.65 609.26L1712.65 609.82L1713.65 609.84L1714.65 609.87L1715.65 609.61L1716.65 609.55L1717.65 609.56L1718.65 609.22L1719.65 609.52L1720.65 610.17L1721.65 610.06L1722.65 609.18L1723.65 608.64L1724.65 608.77L1725.65 609.16L1726.65 609.32L1727.65 609.37L1728.65 609.64" fill="none" stroke="#f00" stroke-width="2.5" stroke-linejoin="round" clip-path="url(#cp1)"/>
<path d="M228.65 586.15L229.65 585.59L230.65 584.87L231.65 584.42L232.65 584.54L233.65 584.54L234.65 584.49L235.65 584.44L236.65 584.19L237.65 583.98L238.65 584.17L239.65 584.57L240.65 584.79L241.65 584.77L242.65 584.03L243.65 583.36L244.65 583.04L245.65 583.08L246.65 583.26L247.65 582.85L248.65 582.66L249.65 583.22L250.65 583.62L251.65 583.42L252.65 582.05L253.65 581.39L254.65 581.23L255.65 580.55L256.65 579.52L257.65 579.11L258.65 579.26L259.65 578.77L260.65 577.35L261.65 576.18L262.65 575.33L263.65 574.3L264.65 573.92L265.65 574.05L266.65 574.05L267.65 573.36L268.65 572.47L269.65 572.39L270.65 571.98L271.65 571.28L272.65 571.03L273.65 570.74L274.65 570.42L275.65 570.18L276.65 570.03L277.65 570.99L278.65 571.91L279.65 572.62L280.65 573.09L281.65 573.4L282.65 573.31L283.65 573.31L284.65 573.63L285.65 573.61L286.65 573.58L287.65 574.34L288.65 575.28L289.65 575.66L290.65 575.76L291.65 576.05L292.65 575.54L293.65 575.57L294.65 575.79L295.65 575.77L296.65 576.54L297.65 577.09L298.65 576.75L299.65 576.81L300.65 577.16L301.65 577.68L302.65 577.49L303.65 577.3L304.65 577.33L305.65 577.01L306.65 576.98L307.65 577.31L308.65 577.11L309.65 577.06L310.65 577.06L311.65 576.67L312.65 576.78L313.65 576.99L314.65 576.54L315.65 575.26L316.65 574.59L317.65 574.68L318.65 575.11L319.65 574.97L320.65 575.05L321.65 574.9L322.65 574.44L323.65 573.71L324.65 573.46L325.65 572.63L326.65 572.3L327.65 572.52L328.65 571.5L329.65 570.2L330.65 569.87L331.65 569.91L332.65 570.01L333.65 569.39L334.65 568.93L335.65 569.21L336.65 569.36L337.65 569.46L338.65 569.05L339.65 568.85L340.65 568.8L341.65 568.95L342.65 568.88L343.65 568.93L344.65 569.06L345.65 568.7L346.65 568.19L347.65 568.21L348.65 567.78L349.65 567.4L350.65 566.95L351.65 566.48L352.65 566.75L353.65 566.55L354.65 566.21L355.65 566L356.65 565.14L357.65 565.23L358.65 566.08L359.65 566.66L360.65 566.65L361.65 566.17L362.65 566.41L363.65 566.33L364.65 566.42L365.65 567.05L366.65 567L367.65 566.46L368.65 566.85L369.65 567.48L370.65 567.82L371.65 567.65L372.65 567.34L373.65 567.38L374.65 567.35L375.65 566.84L376.65 566.92L377.65 566.62L378.65 566.29L379.65 566.3L380.65 566.04L381.65 566.2L382.65 566.43L383.65 566.15L384.65 566.08L385.65 566.36L386.65 566.63L387.65 566.53L388.65 566.08L389.65 566.09L390.65 565.7L391.65 566.04L392.65 566.88L393.65 566.38L394.65 565.66L395.65 565.8L396.65 565.79L397.65 566.24L398.65 566.56L399.65 566.41L400.65 566.2L401.65 566.44L402.65 566.28L403.65 565.98L404.65 566.38L405.65 567.42L406.65 568.39L407.65 568.75L408.65 568.98L409.65 569.14L410.65 568.89L411.65 568.72L412.65 568.47L413.65 568.4L414.65 569.05L415.65 569.61L416.65 570.03L417.65 569.86L418.65 569.67L419.65 569.71L420.65 570.25L421.65 570.93L422.65 571.08L423.65 571.13L424.65 571.68L425.65 571.78L426.65 571.18L427.65 570.67L428.65 570.76L429.65 571.03L430.65 571.05L431.65 571.24L432.65 571.49L433.65 571.88L434.65 571.61L435.65 571.34L436.65 571.24L437.65 571.08L438.65 571.32L439.65 571.8L440.65 571.92L441.65 571.74L442.65 571.29L443.65 571.28L444.65 571.28L445.65 570.96L446.65 570.74L447.65 570.55L448.65 570.4L449.65 570.2L450.65 570.51L451.65 571.07L452.65 571.02L453.65 570.91L454.65 570.55L455.65 571.01L456.65 571.6L457.65 571.77L458.65 572.17L459.65 572.19L460.65 571.93L461.65 572.62L462.65 573.56L463.65 573.38L464.65 573.18L465.65 573.5L466.65 573.68L467.65 574.15L468.65 575.53L469.65 576.93L470.65 577.34L471.65 577.4L472.65 578.05L473.65 579.18L474.65 580.04L475.65 581.47L476.65 582L477.65 582.66L478.65 583.34L479.65 583.24L480.65 583.33L481.65 583.78L482.65 583.64L483.65 583.67L484.65 583.53L485.65 584.05L486.65 584.63L487.65 584.4L488.65 583.83L489.65 583.81L490.65 583.44L491.65 583.45L492.65 583.54L493.65 583.3L494.65 583.01L495.65 583.52L496.65 583.61L497.65 583.77L498.65 583.91L499.65 584.24L500.65 584.66L501.65 584.94L502.65 584.97L503.65 584.87L504.65 584.67L505.65 584.1L506.65 584.14L507.65 584.58L508.65 584.61L509.65 584.79L510.65 584.82L511.65 585.01L512.65 586.24L513.65 586.56L514.65 586.23L515.65 586.52L516.65 587.25L517.65 588.32L518.65 588.68L519.65 588.1L520.65 588.31L521.65 588.71L522.65 588.31L523.65 587.84L524.65 587.51L525.65 587.45L526.65 587.67L527.65 587.03L528.65 585.85L529.65 585.01L530.65 584.96L531.65 584.74L532.65 584.02L533.65 583.11L534.65 583.01L535.65 582.88L536.65 582.77L537.65 582.92L538.65 582.73L539.65 582.18L540.65 581.89L541.65 581.51L542.65 581.23L543.65 580.73L544.65 580.41L545.65 580.13L546.65 579.87L547.65 580L548.65 580.44L549.65 580.41L550.65 580.06L551.65 579.6L552.65 578.65L553.65 578.23L554.65 579.21L555.65 580.03L556.65 580.34L557.65 580.49L558.65 580.15L559.65 579.77L560.65 580.33L561.65 580.69L562.65 580.16L563.65 579.48L564.65 579.92L565.65 580.3L566.65 580.77L567.65 580.88L568.65 580.73L569.65 580.98L570.65 582.29L571.65 582.95L572.65 582.6L573.65 581.99L574.65 581.68L575.65 581.18L576.65 581.79L577.65 582.26L578.65 581.92L579.65 582.26L580.65 582.65L581.65 582.64L582.65 582.51L583.65 582.11L584.65 581.85L585.65 581.9L586.65 582.46L587.65 583.01L588.65 583.27L589.65 583.51L590.65 583.2L591.65 583.05L592.65 583.43L593.65 583.51L594.65 583.92L595.65 584.34L596.65 584.84L597.65 585.04L598.65 585.28L599.65 585.79L600.65 585.96L601.65 585.84L602.65 586.14L603.65 586.41L604.65 586.82L605.65 586.98L606.65 586.69L607.65 585.91L608.65 585.69L609.65 585.49L610.65 584.72L611.65 584.6L612.65 583.98L613.65 583.64L614.65 583.77L615.65 583.55L616.65 583.08L617.65 582.5L618.65 582.2L619.65 581.49L620.65 580.76L621.65 581.58L622.65 582.58L623.65 583.55L624.65 584.07L625.65 583.78L626.65 583.52L627.65 583.38L628.65 583.73L629.65 584.38L630.65 584.24L631.65 583.84L632.65 583.85L633.65 584.29L634.65 584.51L635.65 583.83L636.65 583.09L637.65 583.19L638.65 583.01L639.65 583.4L640.65 583.54L641.65 583.69L642.65 583.6L643.65 582.87L644.65 582.35L645.65 582.08L646.65 581.69L647.65 581.88L648.65 581.94L649.65 581.2L650.65 580.31L651.65 580.49L652.65 580.66L653.65 580.43L654.65 580.69L655.65 581.37L656.65 581.38L657.65 580.76L658.65 580.95L659.65 581.08L660.65 580.07L661.65 579.87L662.65 580.03L663.65 579.91L664.65 579.73L665.65 580.07L666.65 580.71L667.65 581.23L668.65 580.79L669.65 580.33L670.65 580.19L671.65 579.39L672.65 578.31L673.65 578.14L674.65 577.99L675.65 577.71L676.65 577.27L677.65 577.25L678.65 576.82L679.65 576.3L680.65 575.99L681.65 575.55L682.65 575.17L683.65 575.59L684.65 575.26L685.65 574.85L686.65 574.62L687.65 574.57L688.65 575.43L689.65 576.19L690.65 576.01L691.65 575.49L692.65 575.17L693.65 575.69L694.65 576.83L695.65 577.02L696.65 576.85L697.65 576.67L698.65 576.98L699.65 576.99L700.65 577.34L701.65 578.03L702.65 578.59L703.65 579.04L704.65 579.04L705.65 578.71L706.65 578.9L707.65 579.1L708.65 579.42L709.65 580.06L710.65 580.23L711.65 580.51L712.65 580.09L713.65 580.14L714.65 580.89L715.65 581.05L716.65 580.26L717.65 580.73L718.65 580.84L719.65 580.84L720.65 580.93L721.65 580.56L722.65 580.36L723.65 581.18L724.65 581.08L725.65 581.07L726.65 581.09L727.65 581.39L728.65 581.97L729.65 582.1L730.65 582.28L731.65 582.39L732.65 582.74L733.65 582.7L734.65 582.72L735.65 582.75L736.65 582.53L737.65 582.36L738.65 582.31L739.65 581.91L740.65 582.08L741.65 582.49L742.65 583.01L743.65 582.97L744.65 582.93L745.65 582.24L746.65 581.75L747.65 582.01L748.65 582.29L749.65 582.17L750.65 581.85L751.65 581.38L752.65 580.55L753.65 579.96L754.65 580.39L755.65 580.78L756.65 580.15L757.65 579.24L758.65 579.11L759.65 579.09L760.65 578.62L761.65 577.94L762.65 577.67L763.65 577.91L764.65 578.35L765.65 578.71L766.65 578.5L767.65 577.44L768.65 577L769.65 577.04L770.65 577.13L771.65 577.32L772.65 577.46L773.65 577.51L774.65 577.5L775.65 577.17L776.65 576.75L777.65 576.68L778.65 576.79L779.65 576.71L780.65 576.77L781.65 577.32L782.65 577.44L783.65 577.01L784.65 576.35L785.65 576.11L786.65 576.71L787.65 577.23L788.65 576.66L789.65 576.93L790.65 577.55L791.65 577.25L792.65 577.01L793.65 577.28L794.65 577.06L795.65 577.44L796.65 577.43L797.65 576.59L798.65 576.3L799.65 576.7L800.65 577.04L801.65 577.25L802.65 576.56L803.65 575.79L804.65 575.46L805.65 575.75L806.65 575.62L807.65 575.41L808.65 575.48L809.65 576.02L810.65 575.86L811.65 575.13L812.65 574.85L813.65 574.42L814.65 574.38L815.65 574.76L816.65 575.29L817.65 575.57L818.65 574.5L819.65 573.83L820.65 573.43L821.65 572.47L822.65 572.24L823.65 572.11L824.65 572.54L825.65 572.85L826.65 572.12L827.65 571.96L828.65 572.13L829.65 572.05L830.65 571.98L831.65 571.4L832.65 570.86L833.65 571.36L834.65 571.36L835.65 570.97L836.65 570.44L837.65 570.3L838.65 570.49L839.65 570.21L840.65 569.81L841.65 569.63L842.65 569.82L843.65 569.9L844.65 569.41L845.65 569.16L846.65 569.08L847.65 568.62L848.65 567.84L849.65 567.22L850.65 566.83L851.65 566.61L852.65 566.66L853.65 566.62L854.65 566.08L855.65 565.55L856.65 565.32L857.65 565.31L858.65 564.85L859.65 564.4L860.65 564.19L861.65 564L862.65 563.84L863.65 564.01L864.65 563.67L865.65 562.92L866.65 562.52L867.65 562.49L868.65 563.17L869.65 563.01L870.65 561.97L871.65 561.48L872.65 561.55L873.65 561.11L874.65 560.77L875.65 560.81L876.65 560.88L877.65 559.99L878.65 560.23L879.65 560.72L880.65 560.6L881.65 560.51L882.65 560.86L883.65 560.35L884.65 560L885.65 559.96L886.65 560.02L887.65 560L888.65 559.93L889.65 560.14L890.65 560.43L891.65 560.77L892.65 561.01L893.65 560.82L894.65 561.05L895.65 560.96L896.65 560.68L897.65 560.9L898.65 561.55L899.65 562.06L900.65 563.22L901.65 564.01L902.65 563.8L903.65 563.48L904.65 563.95L905.65 563.9L906.65 564.18L907.65 564.8L908.65 564.61L909.65 564.16L910.65 565L911.65 566.09L912.65 566.96L913.65 567.63L914.65 568.37L915.65 568.64L916.65 568.65L917.65 568.89L918.65 569.14L919.65 568.6L920.65 567.03L921.65 565.29L922.65 564.92L923.65 564.58L924.65 563.26L925.65 561.84L926.65 561.23L927.65 560.54L928.65 559.28L929.65 558.29L930.65 558.46L931.65 559.26L932.65 560.14L933.65 560.41L934.65 560.66L935.65 561.12L936.65 561.75L937.65 562.59L938.65 563.56L939.65 564.06L940.65 562.53L941.65 560.86L942.65 559.75L943.65 558.48L944.65 557.47L945.65 557.06L946.65 556.37L947.65 555.72L948.65 555.64L949.65 555.35L950.65 554.76L951.65 554.45L952.65 554.1L953.65 553.35L954.65 553.03L955.65 553.12L956.65 552.7L957.65 552.6L958.65 552.83L959.65 552.23L960.65 551.76L961.65 551.97L962.65 552.58L963.65 553.31L964.65 553.91L965.65 554.29L966.65 554.49L967.65 554.76L968.65 555.31L969.65 556.32L970.65 555.87L971.65 555.35L972.65 556.15L973.65 556.64L974.65 556.01L975.65 555.85L976.65 555.58L977.65 555.32L978.65 555.87L979.65 555.95L980.65 555.39L981.65 555.24L982.65 554.6L983.65 554.4L984.65 554.91L985.65 555.16L986.65 555.51L987.65 555.71L988.65 555.57L989.65 555.54L990.65 556.03L991.65 556.9L992.65 557.52L993.65 557.44L994.65 557.3L995.65 557.61L996.65 557.61L997.65 557.05L998.65 557.32L999.65 558.13L1000.65 558.22L1001.65 558.17L1002.65 558.15L1003.65 558.17L1004.65 557.9L1005.65 557.29L1006.65 556.97L1007.65 556.69L1008.65 556.97L1009.65 557.53L1010.65 556.83L1011.65 555.95L1012.65 555.72L1013.65 555.38L1014.65 555.19L1015.65 554.8L1016.65 554.78L1017.65 554.56L1018.65 553.99L1019.65 554.04L1020.65 554.2L1021.65 553.78L1022.65 553.81L1023.65 554.03L1024.65 553.94L1025.65 553.64L1026.65 553.45L1027.65 553.99L1028.65 553.68L1029.65 553.41L1030.65 553.31L1031.65 553.27L1032.65 553.75L1033.65 553.73L1034.65 552.97L1035.65 552.07L1036.65 550.99L1037.65 550.75L1038.65 551.12L1039.65 550.71L1040.65 550.28L1041.65 550.94L1042.65 551.37L1043.65 551.83L1044.65 552.94L1045.65 553.44L1046.65 553.98L1047.65 554.92L1048.65 556.29L1049.65 556.63L1050.65 556.19L1051.65 557.04L1052.65 557.31L1053.65 556.34L1054.65 555.49L1055.65 554.11L1056.65 552.61L1057.65 551.75L1058.65 550.7L1059.65 548.44L1060.65 546.41L1061.65 544.36L1062.65 541.96L1063.65 539.59L1064.65 538.73L1065.65 539.15L1066.65 539.43L1067.65 540.4L1068.65 541.28L1069.65 541.45L1070.65 541.4L1071.65 540.31L1072.65 538.96L1073.65 537.72L1074.65 536.78L1075.65 535.84L1076.65 535.16L1077.65 534.31L1078.65 531.76L1079.65 529.68L1080.65 528.44L1081.65 526.89L1082.65 524.93L1083.65 522.52L1084.65 520.72L1085.65 520.01L1086.65 519.88L1087.65 520.25L1088.65 520.26L1089.65 519.76L1090.65 519.74L1091.65 520.37L1092.65 520.51L1093.65 521L1094.65 522.55L1095.65 523.92L1096.65 524.68L1097.65 525.34L1098.65 526.16L1099.65 526.65L1100.65 526.36L1101.65 526.01L1102.65 526.17L1103.65 527.11L1104.65 528.19L1105.65 529.68L1106.65 531.05L1107.65 532.26L1108.65 533.23L1109.65 534.15L1110.65 535.1L1111.65 535.8L1112.65 536.16L1113.65 536.52L1114.65 537.1L1115.65 537.61L1116.65 537.56L1117.65 537.4L1118.65 536.22L1119.65 534.75L1120.65 532.8L1121.65 530.9L1122.65 529.09L1123.65 527.95L1124.65 527.91L1125.65 526.99L1126.65 526.79L1127.65 527.12L1128.65 527.18L1129.65 527.11L1130.65 527.5L1131.65 528.43L1132.65 529.2L1133.65 529.53L1134.65 529.34L1135.65 527.58L1136.65 526.62L1137.65 525.45L1138.65 524.02L1139.65 522.16L1140.65 520.31L1141.65 520.56L1142.65 521.19L1143.65 521.45L1144.65 521.73L1145.65 521.37L1146.65 520.89L1147.65 521.38L1148.65 522.14L1149.65 523.1L1150.65 523.43L1151.65 523.87L1152.65 524.53L1153.65 524.9L1154.65 525.16L1155.65 525.68L1156.65 526.54L1157.65 527.79L1158.65 528.07L1159.65 527.02L1160.65 525.35L1161.65 523.3L1162.65 522.41L1163.65 523.63L1164.65 523.97L1165.65 523.83L1166.65 524.06L1167.65 524.95L1168.65 526.06L1169.65 526.31L1170.65 526.53L1171.65 526.27L1172.65 526.47L1173.65 527.21L1174.65 527.6L1175.65 527.5L1176.65 527.36L1177.65 527.4L1178.65 528.02L1179.65 528.02L1180.65 527.73L1181.65 527.89L1182.65 527.98L1183.65 528.39L1184.65 529.42L1185.65 530L1186.65 529.9L1187.65 530.69L1188.65 531.13L1189.65 530.72L1190.65 530.15L1191.65 529.87L1192.65 529.47L1193.65 529.08L1194.65 528.2L1195.65 527.24L1196.65 527.76L1197.65 528.83L1198.65 529.63L1199.65 529.73L1200.65 529.93L1201.65 530.6L1202.65 531.31L1203.65 531.4L1204.65 531.26L1205.65 531.75L1206.65 532.39L1207.65 532.49L1208.65 533.12L1209.65 533.62L1210.65 534.28L1211.65 534.71L1212.65 534.95L1213.65 536.11L1214.65 536.6L1215.65 537.12L1216.65 537.81L1217.65 538.36L1218.65 539.4L1219.65 540.25L1220.65 540.56L1221.65 540.9L1222.65 541.37L1223.65 541.3L1224.65 541.56L1225.65 542.11L1226.65 542.24L1227.65 542.06L1228.65 542.3L1229.65 542.42L1230.65 542.06L1231.65 542.02L1232.65 542.1L1233.65 542.61L1234.65 544.03L1235.65 544.67L1236.65 544.68L1237.65 544.62L1238.65 544.36L1239.65 544.22L1240.65 544.36L1241.65 544.63L1242.65 545.31L1243.65 545.82L1244.65 545.8L1245.65 546.09L1246.65 546.35L1247.65 546.5L1248.65 546.81L1249.65 547.37L1250.65 547.54L1251.65 547.77L1252.65 548.27L1253.65 548.72L1254.65 548.94L1255.65 549.42L1256.65 550.12L1257.65 551.17L1258.65 551.92L1259.65 552.86L1260.65 553.85L1261.65 554.77L1262.65 554.82L1263.65 555.36L1264.65 556.65L1265.65 557.52L1266.65 557L1267.65 556.99L1268.65 557.45L1269.65 558.29L1270.65 559.35L1271.65 560.15L1272.65 559.62L1273.65 559.8L1274.65 560.36L1275.65 559.96L1276.65 559.66L1277.65 559.99L1278.65 560.09L1279.65 559.9L1280.65 559.94L1281.65 559.9L1282.65 560.21L1283.65 560.39L1284.65 560.65L1285.65 560.68L1286.65 561.06L1287.65 561.41L1288.65 561.51L1289.65 561.37L1290.65 560.89L1291.65 561.26L1292.65 562.17L1293.65 562.9L1294.65 563.03L1295.65 562.85L1296.65 563.55L1297.65 564.71L1298.65 565.18L1299.65 565.4L1300.65 565.15L1301.65 565.63L1302.65 567.19L1303.65 568.11L1304.65 567.87L1305.65 567.85L1306.65 568.44L1307.65 568.97L1308.65 569.01L1309.65 568.93L1310.65 568.87L1311.65 569.31L1312.65 570.15L1313.65 570.34L1314.65 570.13L1315.65 570.44L1316.65 570.47L1317.65 570.37L1318.65 569.98L1319.65 569.72L1320.65 570.48L1321.65 571.46L1322.65 571.45L1323.65 571.76L1324.65 572.06L1325.65 572.14L1326.65 572.69L1327.65 573.44L1328.65 573.95L1329.65 574.61L1330.65 574.65L1331.65 575L1332.65 575.71L1333.65 575.89L1334.65 576.11L1335.65 576.24L1336.65 576.76L1337.65 577.67L1338.65 577.74L1339.65 578.41L1340.65 579.5L1341.65 579.7L1342.65 579.31L1343.65 579.03L1344.65 579.52L1345.65 580.41L1346.65 580.6L1347.65 581.13L1348.65 581.73L1349.65 581.26L1350.65 580.9L1351.65 581.5L1352.65 581.62L1353.65 581.43L1354.65 581.18L1355.65 581.08L1356.65 580.87L1357.65 579.9L1358.65 579.25L1359.65 579.71L1360.65 579.51L1361.65 579.46L1362.65 579.32L1363.65 578.91L1364.65 579.27L1365.65 579.86L1366.65 580.43L1367.65 580.77L1368.65 580.78L1369.65 581.03L1370.65 581.24L1371.65 581.7L1372.65 582L1373.65 581.98L1374.65 581.99L1375.65 581.95L1376.65 582.31L1377.65 582.26L1378.65 581.63L1379.65 580.9L1380.65 580.98L1381.65 581.34L1382.65 580.54L1383.65 580.16L1384.65 581.12L1385.65 582.02L1386.65 583.55L1387.65 584.74L1388.65 585.41L1389.65 585.89L1390.65 586.95L1391.65 588.57L1392.65 589.2L1393.65 588.2L1394.65 586.31L1395.65 584.03L1396.65 582.79L1397.65 581.79L1398.65 580.6L1399.65 579.31L1400.65 578.27L1401.65 578.29L1402.65 578.37L1403.65 578.09L1404.65 576.92L1405.65 575.86L1406.65 576.41L1407.65 577.26L1408.65 576.88L1409.65 575.92L1410.65 575.63L1411.65 576.17L1412.65 576.06L1413.65 575.52L1414.65 575.57L1415.65 575.23L1416.65 575.31L1417.65 575.59L1418.65 575.46L1419.65 574.52L1420.65 574.14L1421.65 574.92L1422.65 575.91L1423.65 576.3L1424.65 577.44L1425.65 578.42L1426.65 579.22L1427.65 580.26L1428.65 581.35L1429.65 582.88L1430.65 583.83L1431.65 584.68L1432.65 585.3L1433.65 585.8L1434.65 586.96L1435.65 588.57L1436.65 588.52L1437.65 587.84L1438.65 586.84L1439.65 585.97L1440.65 584.98L1441.65 583.66L1442.65 583.09L1443.65 582.46L1444.65 583.3L1445.65 583.88L1446.65 584.57L1447.65 585.69L1448.65 587.09L1449.65 588.12L1450.65 588.9L1451.65 589.6L1452.65 589.47L1453.65 588.79L1454.65 588L1455.65 587.3L1456.65 586.58L1457.65 585.75L1458.65 585.46L1459.65 584.96L1460.65 584.86L1461.65 584.88L1462.65 584.51L1463.65 584.42L1464.65 584.12L1465.65 583.43L1466.65 583.35L1467.65 583.21L1468.65 583.53L1469.65 583.87L1470.65 584.14L1471.65 583.77L1472.65 582.89L1473.65 583.35L1474.65 584.09L1475.65 584.36L1476.65 584.43L1477.65 584.01L1478.65 583.66L1479.65 583.8L1480.65 584.29L1481.65 584.75L1482.65 584.73L1483.65 584.78L1484.65 585.08L1485.65 584.81L1486.65 584.64L1487.65 585.17L1488.65 585.18L1489.65 584.82L1490.65 585.26L1491.65 585.62L1492.65 585.78L1493.65 585.15L1494.65 584.26L1495.65 584L1496.65 584.14L1497.65 584.33L1498.65 584.64L1499.65 584.57L1500.65 584.51L1501.65 584.29L1502.65 584.29L1503.65 584.45L1504.65 584.11L1505.65 582.93L1506.65 582.2L1507.65 582.08L1508.65 582.2L1509.65 582.41L1510.65 582.65L1511.65 581.71L1512.65 580.56L1513.65 579.23L1514.65 578.59L1515.65 577.75L1516.65 576.65L1517.65 576.3L1518.65 575.83L1519.65 574.32L1520.65 573.59L1521.65 572.86L1522.65 571.78L1523.65 571.13L1524.65 570.97L1525.65 569.54L1526.65 569.02L1527.65 570.34L1528.65 571.86L1529.65 572.98L1530.65 574.07L1531.65 574.25L1532.65 573.55L1533.65 572.63L1534.65 572.6L1535.65 572.53L1536.65 572.23L1537.65 572.28L1538.65 572.9L1539.65 573.06L1540.65 572.27L1541.65 571.43L1542.65 571.11L1543.65 571.45L1544.65 571.41L1545.65 571.18L1546.65 571.24L1547.65 571.23L1548.65 570.94L1549.65 570.84L1550.65 570.73L1551.65 570.87L1552.65 571.07L1553.65 571.5L1554.65 571.37L1555.65 571.1L1556.65 571.17L1557.65 571.62L1558.65 571.83L1559.65 571.97L1560.65 572.25L1561.65 571.96L1562.65 571.29L1563.65 571.03L1564.65 571.29L1565.65 572.08L1566.65 571.84L1567.65 572.17L1568.65 572.8L1569.65 573.69L1570.65 574.15L1571.65 573.95L1572.65 574.15L1573.65 574.44L1574.65 574.11L1575.65 573.81L1576.65 573.45L1577.65 574.26L1578.65 574.49L1579.65 574.05L1580.65 574.33L1581.65 574.98L1582.65 574.64L1583.65 574.16L1584.65 574.16L1585.65 574.83L1586.65 574.82L1587.65 574.48L1588.65 574.28L1589.65 574.36L1590.65 574.04L1591.65 573.95L1592.65 573.82L1593.65 574.04L1594.65 574.55L1595.65 574.99L1596.65 574.91L1597.65 574.66L1598.65 574.32L1599.65 573.84L1600.65 573.08L1601.65 573.19L1602.65 573.48L1603.65 573.63L1604.65 574.21L1605.65 574.17L1606.65 573.87L1607.65 573.77L1608.65 573.49L1609.65 573.44L1610.65 573.49L1611.65 573.58L1612.65 573.96L1613.65 574.27L1614.65 574.59L1615.65 574.6L1616.65 574.42L1617.65 574.23L1618.65 574.37L1619.65 574.68L1620.65 575.24L1621.65 575.51L1622.65 575.02L1623.65 574.77L1624.65 575.05L1625.65 575.04L1626.65 574.59L1627.65 574.25L1628.65 574.17L1629.65 574.59L1630.65 574.75L1631.65 574.63L1632.65 575.11L1633.65 575.86L1634.65 576L1635.65 576.33L1636.65 576.86L1637.65 577.3L1638.65 577.5L1639.65 577.54L1640.65 577.53L1641.65 577.76L1642.65 577.82L1643.65 577.51L1644.65 577.29L1645.65 577.96L1646.65 578.78L1647.65 578.89L1648.65 579.07L1649.65 579.01L1650.65 578.58L1651.65 578.45L1652.65 578.82L1653.65 580.05L1654.65 581.08L1655.65 580.86L1656.65 580.36L1657.65 580.41L1658.65 580.68L1659.65 580.13L1660.65 579.84L1661.65 580.29L1662.65 580.27L1663.65 580.43L1664.65 581.26L1665.65 581.27L1666.65 581.56L1667.65 581.79L1668.65 581.12L1669.65 581.11L1670.65 581.76L1671.65 581.99L1672.65 582.13L1673.65 581.88L1674.65 581.78L1675.65 581.83L1676.65 581.85L1677.65 581.89L1678.65 582.07L1679.65 582.06L1680.65 582.02L1681.65 581.88L1682.65 581.93L1683.65 582.24L1684.65 582.78L1685.65 582.66L1686.65 582.73L1687.65 583.22L1688.65 582.96L1689.65 582.26L1690.65 582.54L1691.65 583.45L1692.65 583.84L1693.65 584.1L1694.65 583.92L1695.65 583.86L1696.65 584.3L1697.65 584.48L1698.65 584.87L1699.65 585.39L1700.65 585.06L1701.65 585.2L1702.65 585.61L1703.65 585.2L1704.65 584.89L1705.65 585.09L1706.65 584.83L1707.65 584.11L1708.65 584.43L1709.65 584.62L1710.65 584.43L1711.65 584.72L1712.65 585.26L1713.65 585.55L1714.65 585.85L1715.65 585.77L1716.65 585.4L1717.65 585.38L1718.65 586.07L1719.65 586.82L1720.65 587.07L1721.65 587.58L1722.65 587.82L1723.65 588.45L1724.65 588.63L1725.65 587.96L1726.65 587.65L1727.65 587.79L1728.65 588.23" fill="none" stroke="#0f0" stroke-width="2.5" stroke-linejoin="round" clip-path="url(#cp1)"/>
<path d="M228.65 458.47L229.65 458.45L230.65 458.37L231.65 458.48L232.65 458.18L233.65 457.78L234.65 457.94L235.65 458.42L236.65 458L237.65 457.87L238.65 458.04L239.65 458.04L240.65 458.15L241.65 458L242.65 457.77L243.65 458.07L244.65 458.44L245.65 459.05L246.65 459.17L247.65 458.57L248.65 458.38L249.65 458.63L250.65 458.48L251.65 458.64L252.65 459.34L253.65 459.79L254.65 459.41L255.65 459.03L256.65 459.08L257.65 458.65L258.65 458.5L259.65 459.21L260.65 458.72L261.65 458.05L262.65 458.35L263.65 459.67L264.65 460.27L265.65 459.83L266.65 459.34L267.65 459.37L268.65 459.25L269.65 459.46L270.65 459.24L271.65 459.51L272.65 460.15L273.65 460.31L274.65 460.46L275.65 460.74L276.65 460.98L277.65 461.19L278.65 461.04L279.65 460.73L280.65 461.04L281.65 461.29L282.65 461.39L283.65 461.5L284.65 461.73L285.65 462.2L286.65 463.01L287.65 463.72L288.65 464.51L289.65 464.34L290.65 463.92L291.65 464.08L292.65 464.43L293.65 464.62L294.65 464.99L295.65 464.58L296.65 464.81L297.65 465.3L298.65 465.02L299.65 464.65L300.65 464.39L301.65 464.25L302.65 464.21L303.65 463.64L304.65 463.08L305.65 463.31L306.65 463.36L307.65 462.72L308.65 462.42L309.65 462.12L310.65 461.82L311.65 461.9L312.65 462.67L313.65 463.31L314.65 462.8L315.65 462.36L316.65 462.89L317.65 462.71L318.65 462.61L319.65 462.6L320.65 462.51L321.65 462.62L322.65 463.16L323.65 462.83L324.65 462.27L325.65 461.94L326.65 461.86L327.65 462.37L328.65 462.82L329.65 462.91L330.65 462.9L331.65 462.81L332.65 463.15L333.65 463L334.65 462.78L335.65 462.93L336.65 462.86L337.65 462.98L338.65 463.37L339.65 462.34L340.65 461.37L341.65 460.94L342.65 461.08L343.65 461.79L344.65 461.87L345.65 461.4L346.65 461.23L347.65 461.2L348.65 461.57L349.65 461.63L350.65 461.11L351.65 460.63L352.65 461.11L353.65 461.51L354.65 461.42L355.65 461.24L356.65 460.39L357.65 460.3L358.65 460.99L359.65 460.62L360.65 460.16L361.65 460.53L362.65 461.03L363.65 461.09L364.65 461.01L365.65 461.15L366.65 460.43L367.65 460.06L368.65 460.05L369.65 460.02L370.65 460.22L371.65 460.67L372.65 461.34L373.65 461.63L374.65 461.96L375.65 462.91L376.65 463.5L377.65 463.78L378.65 463.73L379.65 463.52L380.65 463.72L381.65 464.14L382.65 464.24L383.65 463.98L384.65 463.89L385.65 464.05L386.65 464.12L387.65 464.24L388.65 464.24L389.65 464.21L390.65 463.66L391.65 463.82L392.65 464.37L393.65 464.76L394.65 465.03L395.65 465.21L396.65 465.57L397.65 466.14L398.65 466.96L399.65 468.25L400.65 469.11L401.65 469.73L402.65 469.74L403.65 470.14L404.65 470.61L405.65 470.66L406.65 470.06L407.65 469.69L408.65 470.05L409.65 470.13L410.65 469.46L411.65 469.16L412.65 469.01L413.65 469.03L414.65 468.48L415.65 468.24L416.65 468.4L417.65 467.87L418.65 467.77L419.65 468.48L420.65 468.51L421.65 468.05L422.65 468.09L423.65 468.31L424.65 468.84L425.65 469.38L426.65 469.29L427.65 469.07L428.65 469.55L429.65 470.6L430.65 471.56L431.65 471.73L432.65 471.48L433.65 471.24L434.65 471.81L435.65 472.72L436.65 473.05L437.65 473.29L438.65 473.36L439.65 472.61L440.65 472.2L441.65 472.06L442.65 471.88L443.65 472.48L444.65 472.49L445.65 471.84L446.65 471.97L447.65 472.18L448.65 472.22L449.65 472.03L450.65 471.7L451.65 471.46L452.65 471.66L453.65 472.13L454.65 472L455.65 470.66L456.65 469.86L457.65 469.95L458.65 470.07L459.65 470.22L460.65 470.63L461.65 469.88L462.65 469.03L463.65 468.64L464.65 468.95L465.65 469.15L466.65 469.3L467.65 469.7L468.65 469.63L469.65 469.18L470.65 469.25L471.65 469.67L472.65 469.52L473.65 468.43L474.65 468.12L475.65 467.86L476.65 467.21L477.65 466.98L478.65 467.17L479.65 467.14L480.65 466.31L481.65 465.34L482.65 465.42L483.65 465.97L484.65 465.9L485.65 466.18L486.65 466.5L487.65 466.27L488.65 466.39L489.65 466.79L490.65 467.03L491.65 467.25L492.65 467.35L493.65 467.87L494.65 468.3L495.65 468.98L496.65 469.61L497.65 470.12L498.65 470.19L499.65 470.1L500.65 470.88L501.65 471.78L502.65 471.99L503.65 472.42L504.65 472.91L505.65 473.24L506.65 474.12L507.65 475.06L508.65 475.25L509.65 474.95L510.65 475.67L511.65 476.62L512.65 476.9L513.65 477.72L514.65 478.72L515.65 477.83L516.65 477.51L517.65 478.77L518.65 478.84L519.65 478.53L520.65 478.71L521.65 478.16L522.65 477.77L523.65 477.43L524.65 477.22L525.65 477.37L526.65 477.67L527.65 477.86L528.65 477.94L529.65 477.7L530.65 478.31L531.65 479.31L532.65 479.57L533.65 479.73L534.65 480.5L535.65 480.9L536.65 480.88L537.65 480.27L538.65 480.5L539.65 481.2L540.65 481.03L541.65 480.41L542.65 480.42L543.65 480.93L544.65 481.29L545.65 481.56L546.65 482.43L547.65 482.26L548.65 482.43L549.65 483.2L550.65 483.13L551.65 482.89L552.65 483.12L553.65 482.91L554.65 482.71L555.65 482.75L556.65 482.85L557.65 482.89L558.65 483.26L559.65 482.98L560.65 482.66L561.65 482.99L562.65 483.26L563.65 483.22L564.65 483.32L565.65 483.46L566.65 484.38L567.65 484.69L568.65 484.01L569.65 483.81L570.65 484.16L571.65 484.59L572.65 484.66L573.65 484.8L574.65 485.26L575.65 484.95L576.65 484.56L577.65 484.63L578.65 484.86L579.65 485.01L580.65 484.99L581.65 485.45L582.65 485.57L583.65 485.29L584.65 485.14L585.65 485.14L586.65 484.75L587.65 483.91L588.65 483.93L589.65 484.39L590.65 483.98L591.65 483.44L592.65 483.65L593.65 483.79L594.65 483.16L595.65 482.55L596.65 482.77L597.65 482.77L598.65 481.83L599.65 481.5L600.65 481.5L601.65 480.78L602.65 480.57L603.65 480.32L604.65 480.19L605.65 480.07L606.65 479.92L607.65 479.6L608.65 479.28L609.65 479.76L610.65 479.92L611.65 479.25L612.65 479.95L613.65 480.59L614.65 480.6L615.65 480.49L616.65 481.48L617.65 482.73L618.65 483.83L619.65 484.85L620.65 486.75L621.65 488.3L622.65 489.48L623.65 490.34L624.65 491.3L625.65 492.06L626.65 492.48L627.65 492.41L628.65 492.91L629.65 493.59L630.65 494.06L631.65 493.81L632.65 493.6L633.65 494.02L634.65 494.84L635.65 495.47L636.65 495.77L637.65 495.53L638.65 495.56L639.65 496.25L640.65 497.22L641.65 497.66L642.65 497.43L643.65 497.58L644.65 497.73L645.65 497.91L646.65 498.21L647.65 498.29L648.65 498.79L649.65 499.43L650.65 499.67L651.65 499.48L652.65 499.67L653.65 500.16L654.65 500.17L655.65 499.51L656.65 499.66L657.65 500.54L658.65 500.93L659.65 500.47L660.65 500.4L661.65 500.77L662.65 501L663.65 501.28L664.65 501.61L665.65 502.11L666.65 502.4L667.65 502.93L668.65 503.19L669.65 503.15L670.65 503.21L671.65 503.71L672.65 504.47L673.65 504.94L674.65 505.37L675.65 505.65L676.65 505.56L677.65 505.92L678.65 506.48L679.65 506.53L680.65 507.06L681.65 507.54L682.65 508.77L683.65 510.11L684.65 510.83L685.65 511L686.65 511.39L687.65 511.76L688.65 512.53L689.65 513.42L690.65 514.73L691.65 515.38L692.65 515.43L693.65 515.56L694.65 515.95L695.65 516.34L696.65 516.69L697.65 516.33L698.65 516.54L699.65 517.51L700.65 518.24L701.65 518.53L702.65 518.86L703.65 519.07L704.65 519.83L705.65 521.19L706.65 521.78L707.65 521.45L708.65 521.11L709.65 521.57L710.65 522.53L711.65 522.76L712.65 522.89L713.65 523.83L714.65 524.08L715.65 523.7L716.65 523.62L717.65 524.37L718.65 525.19L719.65 525.5L720.65 525.43L721.65 525.92L722.65 526.6L723.65 527.44L724.65 527.92L725.65 528.6L726.65 528.8L727.65 528.92L728.65 529.54L729.65 530.59L730.65 531.57L731.65 532.01L732.65 532.02L733.65 532.13L734.65 532.31L735.65 532.35L736.65 532.63L737.65 533.08L738.65 534.08L739.65 534.56L740.65 534.44L741.65 534.31L742.65 534.69L743.65 535.56L744.65 536.18L745.65 535.36L746.65 535.25L747.65 536.02L748.65 536.26L749.65 536.4L750.65 537.04L751.65 537.49L752.65 537.75L753.65 537.59L754.65 537.55L755.65 537.47L756.65 537.39L757.65 538.22L758.65 538.97L759.65 538.73L760.65 539.24L761.65 540.05L762.65 540.55L763.65 540.57L764.65 540.75L765.65 540.82L766.65 540.38L767.65 540.55L768.65 541.67L769.65 541.73L770.65 541.68L771.65 541.98L772.65 542.73L773.65 543.22L774.65 543.73L775.65 544.4L776.65 545.3L777.65 545.98L778.65 546.92L779.65 547.73L780.65 548.2L781.65 549.05L782.65 550.09L783.65 550.94L784.65 552.18L785.65 552.97L786.65 553.46L787.65 554.45L788.65 555.31L789.65 556.23L790.65 556.92L791.65 557.79L792.65 558.45L793.65 559.59L794.65 560.88L795.65 562.13L796.65 562.74L797.65 562.9L798.65 563.78L799.65 564.63L800.65 565.86L801.65 567.47L802.65 568.03L803.65 568.21L804.65 568.51L805.65 569.61L806.65 571.04L807.65 571.16L808.65 571.32L809.65 571.87L810.65 572.23L811.65 572.1L812.65 570.8L813.65 569.64L814.65 569.23L815.65 568.59L816.65 567.24L817.65 565.85L818.65 565.07L819.65 564.29L820.65 562.52L821.65 561.8L822.65 561.79L823.65 561.05L824.65 559.34L825.65 557.86L826.65 558.11L827.65 558.82L828.65 559.25L829.65 558.66L830.65 558.55L831.65 559.41L832.65 559.71L833.65 559.21L834.65 558.55L835.65 558.1L836.65 558.14L837.65 558.62L838.65 558.75L839.65 558.01L840.65 557.75L841.65 557.9L842.65 557.72L843.65 557.28L844.65 557.16L845.65 557.64L846.65 557.54L847.65 557.56L848.65 557.18L849.65 556.51L850.65 556.18L851.65 555.94L852.65 555.61L853.65 555.03L854.65 554.37L855.65 554.47L856.65 554.86L857.65 554.95L858.65 554.49L859.65 553.76L860.65 553.63L861.65 553.9L862.65 553.9L863.65 553.81L864.65 553.79L865.65 553.12L866.65 552.89L867.65 552.93L868.65 552.71L869.65 552.48L870.65 552.44L871.65 551.68L872.65 550.7L873.65 550.25L874.65 550.29L875.65 549.71L876.65 549.43L877.65 549.46L878.65 549.69L879.65 548.54L880.65 547.48L881.65 547.01L882.65 547.16L883.65 547.55L884.65 548.17L885.65 548.19L886.65 548.52L887.65 549L888.65 549.18L889.65 549.2L890.65 549.51L891.65 549.99L892.65 550.43L893.65 550.59L894.65 550.81L895.65 551.51L896.65 551.59L897.65 551.75L898.65 551.91L899.65 552.08L900.65 552.49L901.65 552.9L902.65 552.39L903.65 552.53L904.65 553.11L905.65 553.6L906.65 554.35L907.65 554.84L908.65 554.58L909.65 553.89L910.65 553.08L911.65 552.59L912.65 552.49L913.65 552.21L914.65 552.14L915.65 552.1L916.65 550.68L917.65 548.44L918.65 547L919.65 546.37L920.65 544.73L921.65 542.32L922.65 540.6L923.65 539.26L924.65 537.49L925.65 535.32L926.65 532.98L927.65 530.75L928.65 528.98L929.65 527.29L930.65 526.28L931.65 525.5L932.65 525.07L933.65 524.58L934.65 524.53L935.65 523.46L936.65 521.47L937.65 519.68L938.65 518.01L939.65 516.47L940.65 515.73L941.65 514.23L942.65 513.5L943.65 512.48L944.65 511.07L945.65 510.72L946.65 509.83L947.65 508.15L948.65 507.29L949.65 506.71L950.65 505.85L951.65 505.54L952.65 504.94L953.65 504.17L954.65 503.51L955.65 502.76L956.65 502.17L957.65 501.9L958.65 501.64L959.65 501.7L960.65 501.72L961.65 501.9L962.65 502.25L963.65 502.19L964.65 502.29L965.65 502.18L966.65 502.37L967.65 502.44L968.65 503L969.65 503.74L970.65 503.18L971.65 502.32L972.65 502.42L973.65 502.68L974.65 502.82L975.65 502.93L976.65 503.22L977.65 502.47L978.65 501.67L979.65 502.02L980.65 502.23L981.65 502.1L982.65 501.4L983.65 500.76L984.65 500.59L985.65 500.87L986.65 500.5L987.65 499.92L988.65 500.12L989.65 500.47L990.65 500.13L991.65 500.2L992.65 500.25L993.65 499.75L994.65 499.78L995.65 500.53L996.65 500.49L997.65 500.04L998.65 499.81L999.65 499.74L1000.65 499.64L1001.65 499.73L1002.65 499.99L1003.65 499.99L1004.65 499.33L1005.65 499.46L1006.65 499.78L1007.65 499.39L1008.65 499.37L1009.65 499.82L1010.65 499.95L1011.65 499.53L1012.65 499.03L1013.65 499.39L1014.65 499.33L1015.65 499.55L1016.65 500.08L1017.65 500.16L1018.65 499.98L1019.65 500.27L1020.65 500.9L1021.65 501.4L1022.65 501.71L1023.65 501.21L1024.65 500.79L1025.65 501.05L1026.65 501.88L1027.65 502.36L1028.65 502.38L1029.65 502.04L1030.65 501.67L1031.65 501.23L1032.65 501.81L1033.65 501.76L1034.65 501.58L1035.65 501.45L1036.65 501.37L1037.65 500.78L1038.65 500.38L1039.65 499.84L1040.65 499.96L1041.65 500.26L1042.65 500.1L1043.65 499.06L1044.65 498.33L1045.65 497.95L1046.65 497.97L1047.65 497.51L1048.65 496.75L1049.65 494.42L1050.65 491.97L1051.65 489.33L1052.65 487.33L1053.65 485.93L1054.65 484.4L1055.65 483.77L1056.65 483.66L1057.65 484.03L1058.65 484.19L1059.65 484.15L1060.65 483.96L1061.65 483.9L1062.65 483.15L1063.65 481.84L1064.65 480.04L1065.65 478.73L1066.65 477.44L1067.65 475.61L1068.65 474.1L1069.65 472.62L1070.65 470.6L1071.65 468.95L1072.65 467.88L1073.65 466.65L1074.65 465.35L1075.65 463.88L1076.65 462.58L1077.65 461.06L1078.65 459.48L1079.65 458.59L1080.65 458.56L1081.65 459.4L1082.65 461.02L1083.65 461.92L1084.65 462.11L1085.65 462.96L1086.65 463.82L1087.65 464.98L1088.65 466.49L1089.65 467.62L1090.65 468.33L1091.65 469.68L1092.65 470.77L1093.65 472L1094.65 473.83L1095.65 475.65L1096.65 477.19L1097.65 478.2L1098.65 479.58L1099.65 481.16L1100.65 480.9L1101.65 480.03L1102.65 479.89L1103.65 479.73L1104.65 479.9L1105.65 479.96L1106.65 479.52L1107.65 478.66L1108.65 477.91L1109.65 476.79L1110.65 475.21L1111.65 474.08L1112.65 472.81L1113.65 470.99L1114.65 469.81L1115.65 468.31L1116.65 466.7L1117.65 465.39L1118.65 463.36L1119.65 460.98L1120.65 459.92L1121.65 459.74L1122.65 459.95L1123.65 460.36L1124.65 460.42L1125.65 460.19L1126.65 459.99L1127.65 459.66L1128.65 459.25L1129.65 459.54L1130.65 460.22L1131.65 460.06L1132.65 459.54L1133.65 458.91L1134.65 458.27L1135.65 458.24L1136.65 458.29L1137.65 458.55L1138.65 459.63L1139.65 460.93L1140.65 462.52L1141.65 463.8L1142.65 465.14L1143.65 466.64L1144.65 468.5L1145.65 470.32L1146.65 471.9L1147.65 473.25L1148.65 473.96L1149.65 474.07L1150.65 474.14L1151.65 473.93L1152.65 473.89L1153.65 474.62L1154.65 475.05L1155.65 474.95L1156.65 474.53L1157.65 474.03L1158.65 473.53L1159.65 472.81L1160.65 471.48L1161.65 470.37L1162.65 469.84L1163.65 469.43L1164.65 468.99L1165.65 468.86L1166.65 468.57L1167.65 467.96L1168.65 467.56L1169.65 467.11L1170.65 466.75L1171.65 465.91L1172.65 465.25L1173.65 464.5L1174.65 464.24L1175.65 464.03L1176.65 464.1L1177.65 464.31L1178.65 464.88L1179.65 465.01L1180.65 464.59L1181.65 464.21L1182.65 464.96L1183.65 465.64L1184.65 465.82L1185.65 465.64L1186.65 465.52L1187.65 465.58L1188.65 465.31L1189.65 464.78L1190.65 464.66L1191.65 464.79L1192.65 465L1193.65 465.73L1194.65 466.62L1195.65 467.77L1196.65 468.45L1197.65 469.34L1198.65 470.17L1199.65 470.69L1200.65 471.37L1201.65 471.26L1202.65 470.81L1203.65 469.96L1204.65 469.5L1205.65 469.3L1206.65 469.22L1207.65 469.47L1208.65 468.88L1209.65 467.01L1210.65 465.99L1211.65 465.73L1212.65 465.13L1213.65 464.09L1214.65 463.49L1215.65 462.91L1216.65 462.21L1217.65 462L1218.65 462.07L1219.65 461.21L1220.65 459.74L1221.65 458.23L1222.65 457.74L1223.65 457.89L1224.65 457.37L1225.65 456.18L1226.65 455.07L1227.65 454.16L1228.65 453L1229.65 451.59L1230.65 450.72L1231.65 450.87L1232.65 451.06L1233.65 450.83L1234.65 449.82L1235.65 449.32L1236.65 449.23L1237.65 448.53L1238.65 447.79L1239.65 447.34L1240.65 446.94L1241.65 447.14L1242.65 446.39L1243.65 445.84L1244.65 445.22L1245.65 445.25L1246.65 445.73L1247.65 445.63L1248.65 445.51L1249.65 445.34L1250.65 444.6L1251.65 444.44L1252.65 444.91L1253.65 446.05L1254.65 445.96L1255.65 445.42L1256.65 444.88L1257.65 444.23L1258.65 444.17L1259.65 444.94L1260.65 445.11L1261.65 445.96L1262.65 445.63L1263.65 444.79L1264.65 444.65L1265.65 445.09L1266.65 445.23L1267.65 445.09L1268.65 444.67L1269.65 445L1270.65 445.64L1271.65 446.04L1272.65 445.62L1273.65 445.28L1274.65 446.36L1275.65 447.3L1276.65 447.21L1277.65 446.52L1278.65 445.98L1279.65 446.28L1280.65 447.1L1281.65 447.26L1282.65 447.37L1283.65 447.85L1284.65 448.25L1285.65 447.92L1286.65 448.03L1287.65 448.07L1288.65 447.88L1289.65 447.57L1290.65 447.94L1291.65 448.86L1292.65 449.32L1293.65 449.54L1294.65 449.89L1295.65 450.72L1296.65 451.4L1297.65 451.23L1298.65 450.98L1299.65 451.49L1300.65 452.23L1301.65 452.92L1302.65 453.49L1303.65 453.64L1304.65 453.85L1305.65 454L1306.65 454.6L1307.65 455.31L1308.65 455.88L1309.65 456.71L1310.65 457.56L1311.65 457.54L1312.65 458.44L1313.65 458.86L1314.65 459.11L1315.65 459.67L1316.65 460.2L1317.65 460.1L1318.65 460.85L1319.65 461.45L1320.65 461.79L1321.65 461.75L1322.65 462.57L1323.65 462.92L1324.65 462.88L1325.65 463.1L1326.65 464.17L1327.65 464.52L1328.65 464.97L1329.65 465.63L1330.65 465.78L1331.65 466L1332.65 466.14L1333.65 466.19L1334.65 466.32L1335.65 466.06L1336.65 465.86L1337.65 466.06L1338.65 466.29L1339.65 466.25L1340.65 465.86L1341.65 465.33L1342.65 465.23L1343.65 465.83L1344.65 466.58L1345.65 466.76L1346.65 466.55L1347.65 466.85L1348.65 466.98L1349.65 466.99L1350.65 466.86L1351.65 467L1352.65 467.89L1353.65 468.35L1354.65 467.74L1355.65 467.65L1356.65 467.55L1357.65 467.11L1358.65 466.86L1359.65 466.7L1360.65 466.83L1361.65 466.97L1362.65 466.63L1363.65 466.01L1364.65 465.15L1365.65 464.65L1366.65 464.77L1367.65 464.4L1368.65 464.08L1369.65 464.13L1370.65 464.07L1371.65 463.97L1372.65 463.99L1373.65 463.58L1374.65 463.37L1375.65 464.15L1376.65 463.77L1377.65 463.51L1378.65 464.15L1379.65 464.51L1380.65 464.66L1381.65 464.76L1382.65 465.07L1383.65 465.49L1384.65 465.34L1385.65 465.03L1386.65 465.26L1387.65 465.34L1388.65 465.17L1389.65 465.38L1390.65 465.86L1391.65 466.46L1392.65 467.28L1393.65 467.59L1394.65 468.08L1395.65 469.33L1396.65 470.2L1397.65 471.79L1398.65 473.66L1399.65 474.99L1400.65 476.17L1401.65 478L1402.65 480.24L1403.65 480.34L1404.65 478.58L1405.65 477.18L1406.65 475.36L1407.65 472.7L1408.65 470.49L1409.65 468.56L1410.65 467.3L1411.65 467.09L1412.65 466.05L1413.65 464.5L1414.65 463.09L1415.65 462.23L1416.65 461.39L1417.65 460.9L1418.65 461.69L1419.65 462.44L1420.65 462.39L1421.65 462.79L1422.65 463.51L1423.65 464.43L1424.65 466.36L1425.65 468.29L1426.65 470.27L1427.65 471.41L1428.65 472.36L1429.65 474.23L1430.65 475.3L1431.65 475.59L1432.65 476.92L1433.65 478.75L1434.65 480.2L1435.65 481.3L1436.65 481.84L1437.65 482.67L1438.65 482.87L1439.65 482.2L1440.65 481.81L1441.65 481.5L1442.65 480.68L1443.65 480.21L1444.65 480.09L1445.65 480.26L1446.65 479.15L1447.65 478.64L1448.65 479.42L1449.65 480.43L1450.65 481.67L1451.65 482.85L1452.65 483.37L1453.65 484.75L1454.65 486.38L1455.65 486.37L1456.65 485.55L1457.65 485.15L1458.65 484.85L1459.65 484.8L1460.65 484.96L1461.65 484.55L1462.65 483.68L1463.65 483.23L1464.65 483.88L1465.65 484.86L1466.65 485.74L1467.65 486.44L1468.65 486.25L1469.65 486.07L1470.65 486.79L1471.65 487.73L1472.65 488.52L1473.65 489.86L1474.65 490.81L1475.65 491.76L1476.65 492.4L1477.65 493.46L1478.65 494.44L1479.65 495.03L1480.65 496.76L1481.65 498.64L1482.65 498.36L1483.65 497.7L1484.65 497.34L1485.65 497.7L1486.65 497.95L1487.65 497.85L1488.65 497.65L1489.65 497.07L1490.65 497.07L1491.65 497.46L1492.65 497.92L1493.65 498.94L1494.65 499.11L1495.65 499.06L1496.65 499.65L1497.65 500.13L1498.65 500.25L1499.65 500.36L1500.65 500.76L1501.65 501.21L1502.65 501.92L1503.65 503.15L1504.65 504.21L1505.65 505.52L1506.65 506.3L1507.65 506.24L1508.65 506.63L1509.65 507.26L1510.65 507.61L1511.65 505.48L1512.65 502.78L1513.65 500.17L1514.65 497.1L1515.65 494.61L1516.65 494.28L1517.65 495.64L1518.65 496.69L1519.65 498.28L1520.65 499.38L1521.65 498.95L1522.65 498.05L1523.65 496.4L1524.65 498.29L1525.65 502.96L1526.65 507.27L1527.65 513.89L1528.65 530.67L1529.65 560.23L1530.65 542.24L1531.65 505.87L1532.65 491.85L1533.65 486.03L1534.65 483.12L1535.65 481.88L1536.65 480.84L1537.65 479.66L1538.65 478.22L1539.65 476.81L1540.65 476.65L1541.65 476.43L1542.65 475.02L1543.65 474L1544.65 473.17L1545.65 471.38L1546.65 470.14L1547.65 469.04L1548.65 467.66L1549.65 466.7L1550.65 465.35L1551.65 463.67L1552.65 462.47L1553.65 462.03L1554.65 462.17L1555.65 461.59L1556.65 459.86L1557.65 458.59L1558.65 457.71L1559.65 456.62L1560.65 455.79L1561.65 455.08L1562.65 454.72L1563.65 454.33L1564.65 453.58L1565.65 452.52L1566.65 451.51L1567.65 450.85L1568.65 449.96L1569.65 449.11L1570.65 448.47L1571.65 447L1572.65 445.65L1573.65 444.7L1574.65 443.77L1575.65 443.15L1576.65 442.41L1577.65 441.17L1578.65 440.64L1579.65 440.42L1580.65 440.51L1581.65 440.22L1582.65 439.92L1583.65 439.61L1584.65 438.18L1585.65 436.68L1586.65 435.91L1587.65 434.88L1588.65 434.06L1589.65 433.52L1590.65 433.15L1591.65 432.77L1592.65 432.52L1593.65 431.92L1594.65 430.9L1595.65 430.56L1596.65 430.28L1597.65 429.76L1598.65 429.59L1599.65 429.12L1600.65 428.19L1601.65 428.08L1602.65 427.49L1603.65 427.1L1604.65 426.69L1605.65 425.7L1606.65 424.53L1607.65 424.05L1608.65 423.93L1609.65 424.06L1610.65 423.59L1611.65 423.27L1612.65 423.16L1613.65 423.39L1614.65 423.22L1615.65 423.06L1616.65 422.67L1617.65 421.96L1618.65 421.99L1619.65 421.99L1620.65 421.65L1621.65 421.24L1622.65 420.7L1623.65 420.66L1624.65 420.35L1625.65 419.98L1626.65 420.26L1627.65 420.27L1628.65 420.41L1629.65 420.69L1630.65 420.21L1631.65 419.49L1632.65 419.2L1633.65 419.03L1634.65 419.3L1635.65 419.59L1636.65 419.76L1637.65 419.29L1638.65 418.85L1639.65 418.87L1640.65 419.04L1641.65 419.08L1642.65 418.93L1643.65 418.34L1644.65 418.06L1645.65 418.14L1646.65 417.94L1647.65 417.89L1648.65 417.49L1649.65 416.98L1650.65 416.96L1651.65 417.16L1652.65 417.23L1653.65 417.41L1654.65 417.86L1655.65 417.98L1656.65 417.41L1657.65 416.7L1658.65 416.27L1659.65 416.13L1660.65 416.4L1661.65 416.79L1662.65 416.42L1663.65 415.45L1664.65 415.39L1665.65 415.57L1666.65 415.42L1667.65 415.24L1668.65 415.17L1669.65 415.03L1670.65 415.16L1671.65 415.14L1672.65 415.06L1673.65 415.16L1674.65 414.77L1675.65 414.76L1676.65 414.55L1677.65 414.54L1678.65 414.44L1679.65 414.25L1680.65 414.35L1681.65 414.82L1682.65 414.53L1683.65 413.67L1684.65 413.32L1685.65 414.09L1686.65 414.55L1687.65 414.5L1688.65 414.41L1689.65 414.94L1690.65 415.37L1691.65 415.12L1692.65 414.89L1693.65 414.22L1694.65 414.32L1695.65 414.8L1696.65 414.97L1697.65 414.61L1698.65 414.12L1699.65 414.32L1700.65 415.08L1701.65 415.11L1702.65 415.28L1703.65 414.93L1704.65 414.76L1705.65 415.15L1706.65 415.75L1707.65 416.24L1708.65 416.05L1709.65 415.75L1710.65 415.69L1711.65 415.73L1712.65 415.26L1713.65 415.15L1714.65 415.2L1715.65 414.8L1716.65 414.42L1717.65 414.05L1718.65 413.6L1719.65 413.64L1720.65 413.77L1721.65 413.31L1722.65 412.61L1723.65 412.76L1724.65 413.44L1725.65 414.31L1726.65 414.88L1727.65 414.77L1728.65 415.03" fill="none" stroke="#00f" stroke-width="2.5" stroke-linejoin="round" clip-path="url(#cp1)"/>
<path d="M227.2 894.55L237.87 886.07L248.54 887.86L259.21 915.76L269.88 912.41L280.55 879.38L291.22 880.49L301.89 884.51L312.56 888.97L323.23 866.65L333.9 855.04L344.57 868.88L355.24 888.97L365.91 887.86L376.58 862.63L387.25 860.4L397.92 905.71L408.59 908.39L419.26 881.83L429.93 892.32L440.6 906.16L451.27 905.71L461.94 892.77L472.61 859.96L483.28 865.54L493.95 894.11L504.62 892.99L515.29 871.12L525.96 878.48L536.63 890.09L547.3 901.25L557.97 884.51L568.64 867.1L579.31 883.39L589.98 875.58L600.65 867.32L611.32 840.31L621.99 846.56L632.66 859.51L643.33 865.54L654 848.12L664.67 840.54L675.34 861.07L686.01 878.93L696.68 868.88L707.35 853.71L718.02 881.16L728.69 893.44L739.36 893.44L750.03 876.7L760.7 884.51L771.37 908.39L782.04 904.6L792.71 892.32L803.38 876.03L814.05 895.67L824.72 902.37L835.39 897.46L846.06 880.49L856.73 891.21L867.4 909.06L878.07 890.09L888.74 878.48L899.41 876.03L910.08 878.26L920.75 879.6L931.42 872.23L942.09 854.82L952.76 865.09L963.43 871.79L974.1 872.23L984.77 847.68L995.44 855.04L1006.11 865.54L1016.78 854.38L1027.45 860.4L1038.12 834.73L1048.79 857.28L1059.46 851.7L1070.13 846.56L1080.8 832.05L1091.47 853.93L1102.14 868.88L1112.81 865.54L1123.48 849.46L1134.15 880.49L1144.82 891.88L1155.49 834.29L1166.16 808.62L1176.83 832.05L1187.5 853.71L1198.17 847.68L1208.84 824.24L1219.51 804.15L1230.18 784.51L1240.85 804.6L1251.52 789.64L1262.19 781.38L1272.86 807.95L1283.53 822.68L1294.2 855.94L1304.87 808.17L1315.54 804.15L1326.21 819.78L1336.88 808.62L1347.55 796.34L1358.22 791.88L1368.89 832.05L1379.56 871.12L1390.23 909.73L1400.9 903.04L1411.57 915.76L1422.24 964.87L1432.91 994.55L1443.58 1001.7L1454.25 1020.67L1464.92 1031.38L1475.59 1069.78L1486.26 1061.96L1496.93 1059.29L1507.6 1064.2L1518.27 1050.8L1528.94 1035.18L1539.61 998.35L1550.28 992.77L1560.95 1007.72L1571.62 1010.62L1582.29 985.62L1592.96 978.71L1603.63 983.84L1614.3 1005.71L1624.97 999.46L1635.64 989.87L1646.31 984.29L1656.98 993.21L1667.65 998.35L1678.32 963.3L1688.99 968.66L1699.66 992.32L1710.33 991.65L1721 979.38L1731.67 970.45" fill="none" stroke="#000" stroke-width="2.7" stroke-linejoin="round" clip-path="url(#cp2)"/>
<path d="M227.2 1312.67L237.87 1286.55L248.54 1307.98L259.21 1268.25L269.88 1239.23L280.55 1273.16L291.22 1267.58L301.89 1277.18L312.56 1270.48L323.23 1292.8L333.9 1278.29L344.57 1285.44L355.24 1284.99L365.91 1279.41L376.58 1285.66L387.25 1283.88L397.92 1250.39L408.59 1257.09L419.26 1276.06L429.93 1251.51L440.6 1220.26L451.27 1258.21L461.94 1278.29L472.61 1303.96L483.28 1310.21L493.95 1270.48L504.62 1257.09L515.29 1282.76L525.96 1259.77L536.63 1272.71L547.3 1232.54L557.97 1197.94L568.64 1239.68L579.31 1220.71L589.98 1270.48L600.65 1273.83L611.32 1263.79L621.99 1252.62L632.66 1241.02L643.33 1147.71L654 1216.91L664.67 1246.6L675.34 1252.62L686.01 1226.29L696.68 1219.59L707.35 1254.86L718.02 1245.93L728.69 1230.3L739.36 1221.38L750.03 1237.67L760.7 1227.62L771.37 1176.73L782.04 1223.61L792.71 1238.12L803.38 1226.96L814.05 1216.91L824.72 1227.62L835.39 1239.9L846.06 1170.48L856.73 1186.78L867.4 1175.62L878.07 1238.12L888.74 1209.1L899.41 1185.21L910.08 1209.1L920.75 1219.14L931.42 1168.92L942.09 1238.12L952.76 1263.79L963.43 1262L974.1 1212.45L984.77 1233.65L995.44 1209.1L1006.11 1171.82L1016.78 1215.35L1027.45 1175.62L1038.12 1269.37L1048.79 1261.11L1059.46 1286.11L1070.13 1327.4L1080.8 1297.27L1091.47 1251.96L1102.14 1297.27L1112.81 1339.23L1123.48 1339.68L1134.15 1306.2L1144.82 1272.27L1155.49 1277.18L1166.16 1277.85L1176.83 1287.22L1187.5 1229.86L1198.17 1288.34L1208.84 1317.8L1219.51 1308.43L1230.18 1375.84L1240.85 1356.42L1251.52 1392.8L1262.19 1358.65L1272.86 1364.23L1283.53 1383.88L1294.2 1357.54L1304.87 1358.65L1315.54 1327.4L1326.21 1302.18L1336.88 1335.88L1347.55 1325.17L1358.22 1325.17L1368.89 1306.64L1379.56 1290.12L1390.23 1285.66L1400.9 1289.01L1411.57 1283.88L1422.24 1311.78L1432.91 1277.62L1443.58 1278.29L1454.25 1320.04L1464.92 1266.46L1475.59 1278.29L1486.26 1290.12L1496.93 1307.98L1507.6 1293.25L1518.27 1301.73L1528.94 1355.75L1539.61 1275.39L1550.28 1337.45L1560.95 1368.7L1571.62 1362L1582.29 1389.46L1592.96 1321.15L1603.63 1403.96L1614.3 1383.21L1624.97 1402.18L1635.64 1413.34L1646.31 1419.59L1656.98 1418.92L1667.65 1417.8L1678.32 1400.39L1688.99 1436.11L1699.66 1332.98L1710.33 1422.71L1721 1385.44L1731.67 1375.39" fill="none" stroke="#000" stroke-width="2.7" stroke-linejoin="round" clip-path="url(#cp3)"/>
<path d="M227.2 1699.2L237.87 1721.74L248.54 1707.23L259.21 1740.04L269.88 1761.7L280.55 1728.21L291.22 1734.91L301.89 1727.77L312.56 1734.46L323.23 1711.03L333.9 1723.75L344.57 1712.81L355.24 1714.38L365.91 1724.42L376.58 1708.12L387.25 1709.91L397.92 1731.12L408.59 1724.42L419.26 1710.36L429.93 1724.42L440.6 1743.39L451.27 1717.72L461.94 1704.33L472.61 1690.94L483.28 1685.8L493.95 1714.38L504.62 1711.03L515.29 1691.61L525.96 1711.7L536.63 1697.63L547.3 1732.23L557.97 1751.88L568.64 1717.72L579.31 1733.35L589.98 1699.87L600.65 1708.79L611.32 1711.03L621.99 1714.82L632.66 1712.14L643.33 1770.18L654 1722.19L664.67 1692.5L675.34 1682.68L686.01 1693.84L696.68 1698.3L707.35 1657.46L718.02 1667.5L728.69 1670.85L739.36 1676.43L750.03 1657.01L760.7 1664.15L771.37 1695.4L782.04 1657.46L792.71 1635.58L803.38 1648.53L814.05 1655.22L824.72 1650.09L835.39 1627.77L846.06 1688.71L856.73 1670.18L867.4 1683.12L878.07 1625.76L888.74 1649.64L899.41 1675.31L910.08 1650.09L920.75 1650.76L931.42 1696.52L942.09 1665.27L952.76 1645.18L963.43 1641.16L974.1 1682.68L984.77 1671.52L995.44 1689.82L1006.11 1719.29L1016.78 1688.04L1027.45 1716.16L1038.12 1640.71L1048.79 1664.82L1059.46 1649.64L1070.13 1644.73L1080.8 1682.68L1091.47 1690.94L1102.14 1638.93L1112.81 1634.46L1123.48 1629.11L1134.15 1655.22L1144.82 1664.82L1155.49 1644.73L1166.16 1640.27L1176.83 1618.39L1187.5 1663.48L1198.17 1588.26L1208.84 1560.36L1219.51 1584.91L1230.18 1514.6L1240.85 1559.24L1251.52 1521.29L1262.19 1580L1272.86 1573.75L1283.53 1527.99L1294.2 1559.69L1304.87 1551.43L1315.54 1586.03L1326.21 1606.12L1336.88 1549.2L1347.55 1560.36L1358.22 1557.01L1368.89 1583.79L1379.56 1608.35L1390.23 1603.88L1400.9 1597.86L1411.57 1630L1422.24 1589.38L1432.91 1605L1443.58 1603.88L1454.25 1558.57L1464.92 1626.88L1475.59 1622.19L1486.26 1627.32L1496.93 1619.06L1507.6 1652.99L1518.27 1654.55L1528.94 1607.23L1539.61 1734.91L1550.28 1696.07L1560.95 1674.2L1571.62 1702.54L1582.29 1689.38L1592.96 1784.69L1603.63 1712.14L1614.3 1740.04L1624.97 1723.3L1635.64 1716.16L1646.31 1717.72L1656.98 1719.96L1667.65 1730L1678.32 1745.18L1688.99 1700.54L1699.66 1803.66L1710.33 1710.36L1721 1747.86L1731.67 1754.55" fill="none" stroke="#000" stroke-width="2.7" stroke-linejoin="round" clip-path="url(#cp4)"/>
<path d="M227.2 2160.5L237.87 2160.5L248.54 2160.95L259.21 2159.38L269.88 2156.71L280.55 2155.37L291.22 2154.92L301.89 2155.37L312.56 2156.04L323.23 2154.7L333.9 2153.36L344.57 2152.91L355.24 2152.46L365.91 2154.7L376.58 2152.46L387.25 2151.12L397.92 2147.55L408.59 2145.99L419.26 2148.89L429.93 2147.11L440.6 2144.43L451.27 2145.54L461.94 2148.89L472.61 2151.57L483.28 2154.47L493.95 2151.57L504.62 2146.44L515.29 2143.09L525.96 2143.54L536.63 2141.08L547.3 2138.18L557.97 2136.84L568.64 2135.28L579.31 2134.83L589.98 2136.62L600.65 2140.63L611.32 2142.2L621.99 2134.16L632.66 2127.46L643.33 2123.67L654 2120.32L664.67 2118.09L675.34 2113.18L686.01 2106.93L696.68 2098.45L707.35 2090.19L718.02 2084.16L728.69 2074.56L739.36 2066.3L750.03 2061.17L760.7 2053.36L771.37 2045.54L782.04 2029.92L792.71 1996.44L803.38 1926.12L814.05 1856.93L824.72 1978.13L835.39 1985.28L846.06 1990.86L856.73 2001.57L867.4 2003.13L878.07 2013.85L888.74 2012.06L899.41 2002.02L910.08 2000.46L920.75 2037.73L931.42 2075.68L942.09 2097.55L952.76 2109.16L963.43 2110.28L974.1 2108.04L984.77 2111.39L995.44 2112.06L1006.11 2113.18L1016.78 2113.62L1027.45 2112.06L1038.12 2112.51L1048.79 2118.54L1059.46 2130.37L1070.13 2139.96L1080.8 2146.44L1091.47 2136.62L1102.14 2128.8L1112.81 2139.29L1123.48 2149.34L1134.15 2145.99L1144.82 2131.93L1155.49 2131.48L1166.16 2134.38L1176.83 2136.39L1187.5 2134.38L1198.17 2130.37L1208.84 2132.6L1219.51 2142.64L1230.18 2150.46L1240.85 2156.48L1251.52 2160.05L1262.19 2161.84L1272.86 2161.17L1283.53 2158.27L1294.2 2154.92L1304.87 2151.57L1315.54 2148.22L1326.21 2143.76L1336.88 2140.41L1347.55 2139.52L1358.22 2140.41L1368.89 2141.08L1379.56 2141.53L1390.23 2137.51L1400.9 2133.04L1411.57 2143.76L1422.24 2142.64L1432.91 2127.02L1443.58 2125.23L1454.25 2122.11L1464.92 2124.34L1475.59 2117.64L1486.26 2113.62L1496.93 2110.95L1507.6 2109.16L1518.27 2116.97L1528.94 1881.48L1539.61 2143.76L1550.28 2153.8L1560.95 2162.73L1571.62 2170.54L1582.29 2177.91L1592.96 2185.05L1603.63 2189.52L1614.3 2192.87L1624.97 2195.1L1635.64 2196.66L1646.31 2198.45L1656.98 2200.01L1667.65 2201.35L1678.32 2201.79L1688.99 2201.79L1699.66 2201.35L1710.33 2200.68L1721 2200.23L1731.67 2200.01" fill="none" stroke="#000" stroke-width="2.7" stroke-linejoin="round" clip-path="url(#cp5)"/>
<path d="M231.65 576.1H1726.2" stroke="#000" stroke-width="2.1" stroke-dasharray="16.3 10.25" fill="none"/>
<path d="M231.65 937.3H1726.2" stroke="#000" stroke-width="2.1" stroke-dasharray="16.3 10.25" fill="none"/>
<path d="M231.65 367.8H1726.2V18.4" fill="none" stroke="#262626" stroke-width="2.1" stroke-linecap="square"/>
<rect x="231.65" y="386" width="1494.55" height="348.64" fill="none" stroke="#262626" stroke-width="2.1"/>
<rect x="231.65" y="753.17" width="1494.55" height="346.7" fill="none" stroke="#262626" stroke-width="2.1"/>
<rect x="231.65" y="1118.5" width="1494.55" height="349.26" fill="none" stroke="#262626" stroke-width="2.1"/>
<rect x="231.65" y="1485.6" width="1494.55" height="349.13" fill="none" stroke="#262626" stroke-width="2.1"/>
<rect x="231.65" y="1853.04" width="1494.55" height="349.1" fill="none" stroke="#262626" stroke-width="2.1"/>
<path d="M231.65 18.4v-16M231.65 367.8v16M373.95 18.4v-16M373.95 367.8v16M516.25 18.4v-16M516.25 367.8v16M658.55 18.4v-16M658.55 367.8v16M800.85 18.4v-16M800.85 367.8v16M943.15 18.4v-16M943.15 367.8v16M1085.45 18.4v-16M1085.45 367.8v16M1227.75 18.4v-16M1227.75 367.8v16M1370.05 18.4v-16M1370.05 367.8v16M1512.35 18.4v-16M1512.35 367.8v16M1654.65 18.4v-16M1654.65 367.8v16M231.65 386v16M231.65 734.64v-16M373.95 386v16M373.95 734.64v-16M516.25 386v16M516.25 734.64v-16M658.55 386v16M658.55 734.64v-16M800.85 386v16M800.85 734.64v-16M943.15 386v16M943.15 734.64v-16M1085.45 386v16M1085.45 734.64v-16M1227.75 386v16M1227.75 734.64v-16M1370.05 386v16M1370.05 734.64v-16M1512.35 386v16M1512.35 734.64v-16M1654.65 386v16M1654.65 734.64v-16M231.65 753.17v16M231.65 1099.87v-16M373.95 753.17v16M373.95 1099.87v-16M516.25 753.17v16M516.25 1099.87v-16M658.55 753.17v16M658.55 1099.87v-16M800.85 753.17v16M800.85 1099.87v-16M943.15 753.17v16M943.15 1099.87v-16M1085.45 753.17v16M1085.45 1099.87v-16M1227.75 753.17v16M1227.75 1099.87v-16M1370.05 753.17v16M1370.05 1099.87v-16M1512.35 753.17v16M1512.35 1099.87v-16M1654.65 753.17v16M1654.65 1099.87v-16M231.65 1118.5v16M231.65 1467.76v-16M373.95 1118.5v16M373.95 1467.76v-16M516.25 1118.5v16M516.25 1467.76v-16M658.55 1118.5v16M658.55 1467.76v-16M800.85 1118.5v16M800.85 1467.76v-16M943.15 1118.5v16M943.15 1467.76v-16M1085.45 1118.5v16M1085.45 1467.76v-16M1227.75 1118.5v16M1227.75 1467.76v-16M1370.05 1118.5v16M1370.05 1467.76v-16M1512.35 1118.5v16M1512.35 1467.76v-16M1654.65 1118.5v16M1654.65 1467.76v-16M231.65 1485.6v16M231.65 1834.73v-16M373.95 1485.6v16M373.95 1834.73v-16M516.25 1485.6v16M516.25 1834.73v-16M658.55 1485.6v16M658.55 1834.73v-16M800.85 1485.6v16M800.85 1834.73v-16M943.15 1485.6v16M943.15 1834.73v-16M1085.45 1485.6v16M1085.45 1834.73v-16M1227.75 1485.6v16M1227.75 1834.73v-16M1370.05 1485.6v16M1370.05 1834.73v-16M1512.35 1485.6v16M1512.35 1834.73v-16M1654.65 1485.6v16M1654.65 1834.73v-16M231.65 1853.04v16M231.65 2202.14v-16M373.95 1853.04v16M373.95 2202.14v-16M516.25 1853.04v16M516.25 2202.14v-16M658.55 1853.04v16M658.55 2202.14v-16M800.85 1853.04v16M800.85 2202.14v-16M943.15 1853.04v16M943.15 2202.14v-16M1085.45 1853.04v16M1085.45 2202.14v-16M1227.75 1853.04v16M1227.75 2202.14v-16M1370.05 1853.04v16M1370.05 2202.14v-16M1512.35 1853.04v16M1512.35 2202.14v-16M1654.65 1853.04v16M1654.65 2202.14v-16M231.65 311.1h-16M1726.2 311.1h16M231.65 226.2h-16M1726.2 226.2h16M231.65 141.3h-16M1726.2 141.3h16M231.65 56.4h-16M1726.2 56.4h16M231.65 355.49h-8.6M1726.2 355.49h8.6M231.65 344.89h-8.6M1726.2 344.89h8.6M231.65 336.66h-8.6M1726.2 336.66h8.6M231.65 329.93h-8.6M1726.2 329.93h8.6M231.65 324.25h-8.6M1726.2 324.25h8.6M231.65 319.33h-8.6M1726.2 319.33h8.6M231.65 314.98h-8.6M1726.2 314.98h8.6M231.65 285.54h-8.6M1726.2 285.54h8.6M231.65 270.59h-8.6M1726.2 270.59h8.6M231.65 259.99h-8.6M1726.2 259.99h8.6M231.65 251.76h-8.6M1726.2 251.76h8.6M231.65 245.03h-8.6M1726.2 245.03h8.6M231.65 239.35h-8.6M1726.2 239.35h8.6M231.65 234.43h-8.6M1726.2 234.43h8.6M231.65 230.08h-8.6M1726.2 230.08h8.6M231.65 200.64h-8.6M1726.2 200.64h8.6M231.65 185.69h-8.6M1726.2 185.69h8.6M231.65 175.09h-8.6M1726.2 175.09h8.6M231.65 166.86h-8.6M1726.2 166.86h8.6M231.65 160.13h-8.6M1726.2 160.13h8.6M231.65 154.45h-8.6M1726.2 154.45h8.6M231.65 149.53h-8.6M1726.2 149.53h8.6M231.65 145.18h-8.6M1726.2 145.18h8.6M231.65 115.74h-8.6M1726.2 115.74h8.6M231.65 100.79h-8.6M1726.2 100.79h8.6M231.65 90.19h-8.6M1726.2 90.19h8.6M231.65 81.96h-8.6M1726.2 81.96h8.6M231.65 75.23h-8.6M1726.2 75.23h8.6M231.65 69.55h-8.6M1726.2 69.55h8.6M231.65 64.63h-8.6M1726.2 64.63h8.6M231.65 60.28h-8.6M1726.2 60.28h8.6M231.65 30.84h-8.6M1726.2 30.84h8.6M231.65 711.7h16M1726.2 711.7h-16M231.65 643.9h16M1726.2 643.9h-16M231.65 576.1h16M1726.2 576.1h-16M231.65 508.3h16M1726.2 508.3h-16M231.65 440.5h16M1726.2 440.5h-16M231.65 728.65h8.6M1726.2 728.65h-8.6M231.65 694.75h8.6M1726.2 694.75h-8.6M231.65 677.8h8.6M1726.2 677.8h-8.6M231.65 660.85h8.6M1726.2 660.85h-8.6M231.65 626.95h8.6M1726.2 626.95h-8.6M231.65 610h8.6M1726.2 610h-8.6M231.65 593.05h8.6M1726.2 593.05h-8.6M231.65 559.15h8.6M1726.2 559.15h-8.6M231.65 542.2h8.6M1726.2 542.2h-8.6M231.65 525.25h8.6M1726.2 525.25h-8.6M231.65 491.35h8.6M1726.2 491.35h-8.6M231.65 474.4h8.6M1726.2 474.4h-8.6M231.65 457.45h8.6M1726.2 457.45h-8.6M231.65 423.55h8.6M1726.2 423.55h-8.6M231.65 406.6h8.6M1726.2 406.6h-8.6M231.65 389.65h8.6M1726.2 389.65h-8.6M231.65 1051.55h16M1726.2 1051.55h-16M231.65 937.3h16M1726.2 937.3h-16M231.65 823.05h16M1726.2 823.05h-16M231.65 1080.11h8.6M1726.2 1080.11h-8.6M231.65 1022.99h8.6M1726.2 1022.99h-8.6M231.65 994.42h8.6M1726.2 994.42h-8.6M231.65 965.86h8.6M1726.2 965.86h-8.6M231.65 908.74h8.6M1726.2 908.74h-8.6M231.65 880.17h8.6M1726.2 880.17h-8.6M231.65 851.61h8.6M1726.2 851.61h-8.6M231.65 794.49h8.6M1726.2 794.49h-8.6M231.65 765.92h8.6M1726.2 765.92h-8.6M231.65 1402.81h16M1726.2 1402.81h-16M231.65 1327.84h16M1726.2 1327.84h-16M231.65 1252.87h16M1726.2 1252.87h-16M231.65 1177.9h16M1726.2 1177.9h-16M231.65 1459.04h8.6M1726.2 1459.04h-8.6M231.65 1440.3h8.6M1726.2 1440.3h-8.6M231.65 1421.55h8.6M1726.2 1421.55h-8.6M231.65 1384.07h8.6M1726.2 1384.07h-8.6M231.65 1365.33h8.6M1726.2 1365.33h-8.6M231.65 1346.58h8.6M1726.2 1346.58h-8.6M231.65 1309.1h8.6M1726.2 1309.1h-8.6M231.65 1290.36h8.6M1726.2 1290.36h-8.6M231.65 1271.61h8.6M1726.2 1271.61h-8.6M231.65 1234.13h8.6M1726.2 1234.13h-8.6M231.65 1215.38h8.6M1726.2 1215.38h-8.6M231.65 1196.64h8.6M1726.2 1196.64h-8.6M231.65 1159.16h8.6M1726.2 1159.16h-8.6M231.65 1140.41h8.6M1726.2 1140.41h-8.6M231.65 1121.67h8.6M1726.2 1121.67h-8.6M231.65 1801.17h16M1726.2 1801.17h-16M231.65 1706.68h16M1726.2 1706.68h-16M231.65 1612.19h16M1726.2 1612.19h-16M231.65 1517.7h16M1726.2 1517.7h-16M231.65 1824.79h8.6M1726.2 1824.79h-8.6M231.65 1777.55h8.6M1726.2 1777.55h-8.6M231.65 1753.93h8.6M1726.2 1753.93h-8.6M231.65 1730.3h8.6M1726.2 1730.3h-8.6M231.65 1683.06h8.6M1726.2 1683.06h-8.6M231.65 1659.43h8.6M1726.2 1659.43h-8.6M231.65 1635.81h8.6M1726.2 1635.81h-8.6M231.65 1588.57h8.6M1726.2 1588.57h-8.6M231.65 1564.95h8.6M1726.2 1564.95h-8.6M231.65 1541.32h8.6M1726.2 1541.32h-8.6M231.65 1494.08h8.6M1726.2 1494.08h-8.6M231.65 2112.1h16M1726.2 2112.1h-16M231.65 2019.6h16M1726.2 2019.6h-16M231.65 1927.1h16M1726.2 1927.1h-16M231.65 2176.75h8.6M1726.2 2176.75h-8.6M231.65 2160.47h8.6M1726.2 2160.47h-8.6M231.65 2148.91h8.6M1726.2 2148.91h-8.6M231.65 2139.95h8.6M1726.2 2139.95h-8.6M231.65 2132.62h8.6M1726.2 2132.62h-8.6M231.65 2126.43h8.6M1726.2 2126.43h-8.6M231.65 2121.06h8.6M1726.2 2121.06h-8.6M231.65 2116.33h8.6M1726.2 2116.33h-8.6M231.65 2084.25h8.6M1726.2 2084.25h-8.6M231.65 2067.97h8.6M1726.2 2067.97h-8.6M231.65 2056.41h8.6M1726.2 2056.41h-8.6M231.65 2047.45h8.6M1726.2 2047.45h-8.6M231.65 2040.12h8.6M1726.2 2040.12h-8.6M231.65 2033.93h8.6M1726.2 2033.93h-8.6M231.65 2028.56h8.6M1726.2 2028.56h-8.6M231.65 2023.83h8.6M1726.2 2023.83h-8.6M231.65 1991.75h8.6M1726.2 1991.75h-8.6M231.65 1975.47h8.6M1726.2 1975.47h-8.6M231.65 1963.91h8.6M1726.2 1963.91h-8.6M231.65 1954.95h8.6M1726.2 1954.95h-8.6M231.65 1947.62h8.6M1726.2 1947.62h-8.6M231.65 1941.43h8.6M1726.2 1941.43h-8.6M231.65 1936.06h8.6M1726.2 1936.06h-8.6M231.65 1931.33h8.6M1726.2 1931.33h-8.6M231.65 1899.25h8.6M1726.2 1899.25h-8.6M231.65 1882.97h8.6M1726.2 1882.97h-8.6M231.65 1871.41h8.6M1726.2 1871.41h-8.6M231.65 1862.45h8.6M1726.2 1862.45h-8.6M231.65 1855.12h8.6M1726.2 1855.12h-8.6" stroke="#262626" stroke-width="2.1" fill="none"/>
<text x="143.03" y="332" font-family="'Liberation Serif', 'Times New Roman', Times, serif" font-size="41.67" fill="#262626">10<tspan font-size="32" dy="-20.3">1</tspan></text>
<text x="143.03" y="247.1" font-family="'Liberation Serif', 'Times New Roman', Times, serif" font-size="41.67" fill="#262626">10<tspan font-size="32" dy="-20.3">2</tspan></text>
<text x="143.03" y="162.2" font-family="'Liberation Serif', 'Times New Roman', Times, serif" font-size="41.67" fill="#262626">10<tspan font-size="32" dy="-20.3">3</tspan></text>
<text x="143.03" y="77.3" font-family="'Liberation Serif', 'Times New Roman', Times, serif" font-size="41.67" fill="#262626">10<tspan font-size="32" dy="-20.3">4</tspan></text>
<text x="157.33" y="2133" font-family="'Liberation Serif', 'Times New Roman', Times, serif" font-size="41.67" fill="#262626">10<tspan font-size="32" dy="-20.3">1</tspan></text>
<text x="157.33" y="2040.5" font-family="'Liberation Serif', 'Times New Roman', Times, serif" font-size="41.67" fill="#262626">10<tspan font-size="32" dy="-20.3">2</tspan></text>
<text x="157.33" y="1948" font-family="'Liberation Serif', 'Times New Roman', Times, serif" font-size="41.67" fill="#262626">10<tspan font-size="32" dy="-20.3">3</tspan></text>
<text x="216.6" y="725.3" font-family="'Liberation Serif', 'Times New Roman', Times, serif" font-size="41.67" text-anchor="end" fill="#262626">-20</text>
<text x="216.6" y="657.5" font-family="'Liberation Serif', 'Times New Roman', Times, serif" font-size="41.67" text-anchor="end" fill="#262626">-10</text>
<text x="216.6" y="589.7" font-family="'Liberation Serif', 'Times New Roman', Times, serif" font-size="41.67" text-anchor="end" fill="#262626">0</text>
<text x="216.6" y="521.9" font-family="'Liberation Serif', 'Times New Roman', Times, serif" font-size="41.67" text-anchor="end" fill="#262626">10</text>
<text x="216.6" y="454.1" font-family="'Liberation Serif', 'Times New Roman', Times, serif" font-size="41.67" text-anchor="end" fill="#262626">20</text>
<text x="216.6" y="1065.15" font-family="'Liberation Serif', 'Times New Roman', Times, serif" font-size="41.67" text-anchor="end" fill="#262626">-100</text>
<text x="216.6" y="950.9" font-family="'Liberation Serif', 'Times New Roman', Times, serif" font-size="41.67" text-anchor="end" fill="#262626">0</text>
<text x="216.6" y="836.65" font-family="'Liberation Serif', 'Times New Roman', Times, serif" font-size="41.67" text-anchor="end" fill="#262626">100</text>
<text x="214.8" y="1416.41" font-family="'Liberation Serif', 'Times New Roman', Times, serif" font-size="41.67" text-anchor="end" fill="#262626">0.4</text>
<text x="214.8" y="1341.44" font-family="'Liberation Serif', 'Times New Roman', Times, serif" font-size="41.67" text-anchor="end" fill="#262626">0.5</text>
<text x="214.8" y="1266.47" font-family="'Liberation Serif', 'Times New Roman', Times, serif" font-size="41.67" text-anchor="end" fill="#262626">0.6</text>
<text x="214.8" y="1191.5" font-family="'Liberation Serif', 'Times New Roman', Times, serif" font-size="41.67" text-anchor="end" fill="#262626">0.7</text>
<text x="216.6" y="1814.77" font-family="'Liberation Serif', 'Times New Roman', Times, serif" font-size="41.67" text-anchor="end" fill="#262626">3000</text>
<text x="216.6" y="1720.28" font-family="'Liberation Serif', 'Times New Roman', Times, serif" font-size="41.67" text-anchor="end" fill="#262626">4000</text>
<text x="216.6" y="1625.79" font-family="'Liberation Serif', 'Times New Roman', Times, serif" font-size="41.67" text-anchor="end" fill="#262626">5000</text>
<text x="216.6" y="1531.3" font-family="'Liberation Serif', 'Times New Roman', Times, serif" font-size="41.67" text-anchor="end" fill="#262626">6000</text>
<text x="231.65" y="2254.3" font-family="'Liberation Serif', 'Times New Roman', Times, serif" font-size="41.67" text-anchor="middle" fill="#262626">20:15</text>
<text x="943.15" y="2254.3" font-family="'Liberation Serif', 'Times New Roman', Times, serif" font-size="41.67" text-anchor="middle" fill="#262626">20:20</text>
<text x="1654.65" y="2254.3" font-family="'Liberation Serif', 'Times New Roman', Times, serif" font-size="41.67" text-anchor="middle" fill="#262626">20:25</text>
<text x="978.5" y="2308" font-family="'Liberation Serif', 'Times New Roman', Times, serif" font-size="44.7" text-anchor="middle" fill="#262626">2017-06-17 UTC</text>
<text transform="translate(45 193.1) rotate(-90)" font-family="'Liberation Serif', 'Times New Roman', Times, serif" font-size="44.5" text-anchor="middle" fill="#262626">Ion omni</text>
<text transform="translate(99.5 193.1) rotate(-90)" font-family="'Liberation Serif', 'Times New Roman', Times, serif" font-size="44.5" text-anchor="middle" fill="#262626">[eV]</text>
<text transform="translate(45 560.32) rotate(-90)" font-family="'Liberation Serif', 'Times New Roman', Times, serif" font-size="44.5" text-anchor="middle" fill="#262626">BLMN</text>
<text transform="translate(99.5 560.32) rotate(-90)" font-family="'Liberation Serif', 'Times New Roman', Times, serif" font-size="44.5" text-anchor="middle" fill="#262626">[nT]</text>
<text transform="translate(45 926.52) rotate(-90)" font-family="'Liberation Serif', 'Times New Roman', Times, serif" font-size="44.5" text-anchor="middle" fill="#262626">Vil</text>
<text transform="translate(99.5 926.52) rotate(-90)" font-family="'Liberation Serif', 'Times New Roman', Times, serif" font-size="44.5" text-anchor="middle" fill="#262626">[km/s]</text>
<text transform="translate(33 1293.13) rotate(-90)" font-family="'Liberation Serif', 'Times New Roman', Times, serif" font-size="44.5" text-anchor="middle" fill="#262626">Ni</text>
<text transform="translate(99.5 1293.13) rotate(-90)" font-family="'Liberation Serif', 'Times New Roman', Times, serif" font-size="44.5" text-anchor="middle" fill="#262626">[cm<tspan font-size="36" dy="-23">-3</tspan><tspan dy="23">]</tspan></text>
<text transform="translate(45 1660.16) rotate(-90)" font-family="'Liberation Serif', 'Times New Roman', Times, serif" font-size="44.5" text-anchor="middle" fill="#262626">Ti</text>
<text transform="translate(99.5 1660.16) rotate(-90)" font-family="'Liberation Serif', 'Times New Roman', Times, serif" font-size="44.5" text-anchor="middle" fill="#262626">[eV]</text>
<text transform="translate(45 2027.59) rotate(-90)" font-family="'Liberation Serif', 'Times New Roman', Times, serif" font-size="44.5" text-anchor="middle" fill="#262626">βi</text>
<text x="246" y="68.3" font-family="'Liberation Sans', Arial, Helvetica, sans-serif" font-size="41.67" text-anchor="start" fill="#000">(a)</text>
<text x="246" y="435" font-family="'Liberation Sans', Arial, Helvetica, sans-serif" font-size="41.67" text-anchor="start" fill="#000">(b)</text>
<text x="246" y="802" font-family="'Liberation Sans', Arial, Helvetica, sans-serif" font-size="41.67" text-anchor="start" fill="#000">(c)</text>
<text x="246" y="1167.5" font-family="'Liberation Sans', Arial, Helvetica, sans-serif" font-size="41.67" text-anchor="start" fill="#000">(d)</text>
<text x="246" y="1534.5" font-family="'Liberation Sans', Arial, Helvetica, sans-serif" font-size="41.67" text-anchor="start" fill="#000">(e)</text>
<text x="246" y="1902" font-family="'Liberation Sans', Arial, Helvetica, sans-serif" font-size="41.67" text-anchor="start" fill="#000">(f)</text>
<text transform="translate(1835.5 474.5) scale(0.91 1)" font-family="'Liberation Sans', Arial, Helvetica, sans-serif" font-size="42.5" fill="#000" stroke="#000" stroke-width="0.5">Bl</text>
<text transform="translate(1835.5 541.3) scale(0.91 1)" font-family="'Liberation Sans', Arial, Helvetica, sans-serif" font-size="42.5" fill="#f00" stroke="#f00" stroke-width="0.5">Bm</text>
<text transform="translate(1835.5 607.3) scale(0.91 1)" font-family="'Liberation Sans', Arial, Helvetica, sans-serif" font-size="42.5" fill="#0f0" stroke="#0f0" stroke-width="0.5">Bn</text>
<text transform="translate(1835.5 674.5) scale(0.91 1)" font-family="'Liberation Sans', Arial, Helvetica, sans-serif" font-size="42.5" fill="#00f" stroke="#00f" stroke-width="0.5">Bt</text>
<rect x="1825.4" y="49.9" width="51.1" height="328.1" fill="url(#cbg)" stroke="#262626" stroke-width="1.5"/>
<path d="M1876.5 340.7h-5.5M1876.5 275.5h-5.5M1876.5 210.3h-5.5M1876.5 145.1h-5.5M1876.5 79.9h-5.5" stroke="#262626" stroke-width="1.5" fill="none"/>
<text x="1889.6" y="353.8" font-family="'Liberation Serif', 'Times New Roman', Times, serif" font-size="41.67" text-anchor="start" fill="#262626">2</text>
<text x="1889.6" y="288.6" font-family="'Liberation Serif', 'Times New Roman', Times, serif" font-size="41.67" text-anchor="start" fill="#262626">3</text>
<text x="1889.6" y="223.4" font-family="'Liberation Serif', 'Times New Roman', Times, serif" font-size="41.67" text-anchor="start" fill="#262626">4</text>
<text x="1889.6" y="158.2" font-family="'Liberation Serif', 'Times New Roman', Times, serif" font-size="41.67" text-anchor="start" fill="#262626">5</text>
<text x="1889.6" y="93" font-family="'Liberation Serif', 'Times New Roman', Times, serif" font-size="41.67" text-anchor="start" fill="#262626">6</text>
<text transform="translate(1988.6 378.3) rotate(-90) scale(0.825 1)" font-family="'Liberation Sans', Arial, Helvetica, sans-serif" font-size="46" fill="#000" stroke="#000" stroke-width="0.5">log<tspan font-size="26" dy="7">10</tspan><tspan dy="-7">eV/(cm</tspan><tspan font-size="26" dy="-19">2</tspan><tspan dy="19">s sr eV</tspan></text>
<path d="M969.4 20.3V2202.14" stroke="#000" stroke-width="2.4" stroke-dasharray="36.2 8.7" fill="none"/>
<path d="M1610.3 18.5V2202.14" stroke="#000" stroke-width="2.4" stroke-dasharray="30 14.9" fill="none"/>
<rect x="1505" y="14.6" width="56" height="2187.54" fill="#00ffff" fill-opacity="0.35"/>
</svg></body></html>
